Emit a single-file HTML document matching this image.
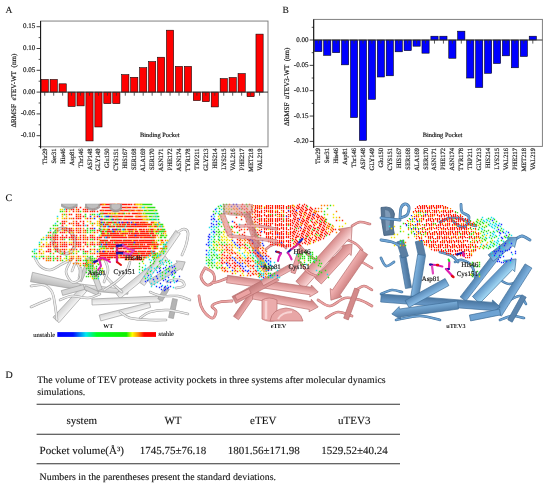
<!DOCTYPE html>
<html><head><meta charset="utf-8"><style>
html,body{margin:0;padding:0;background:#fff;}
body{width:550px;height:489px;overflow:hidden;position:relative;}
svg{position:absolute;left:0;top:0;}
text{font-family:"Liberation Serif","Times New Roman",serif;fill:#111;text-rendering:geometricPrecision;}
.tk,.xl,.yl,.bp,.res{stroke:#222;stroke-width:0.18px;}
.cap,.tb,.lab{stroke:#222;stroke-width:0.12px;}
.tk{font-size:7px;}
.xl{font-size:6.5px;}
.yl{font-size:7.1px;}
.bp{font-size:6.4px;}
.lab{font-size:9.5px;}
.cap{font-size:9.9px;}
.tb{font-size:11px;}
.pl{font-size:5.6px;font-weight:bold;}
.cb{font-size:6.6px;stroke:#222;stroke-width:0.12px;}
.res{font-size:7px;}
</style></head><body>
<svg width="550" height="489" viewBox="0 0 550 489">
<text x="5.6" y="12.9" class="lab">A</text>
<text x="282.4" y="13.1" class="lab">B</text>
<text x="5.4" y="200.6" class="lab" style="font-size:10px">C</text>
<text x="5.6" y="377.6" class="lab" style="font-size:10px">D</text>
<rect x="40.6" y="21.05" width="227.4" height="125.75" fill="none" stroke="#7a7a7a" stroke-width="0.95"/>
<rect x="41.15" y="79.46" width="7.20" height="12.64" fill="#ff0000" stroke="#000" stroke-width="0.55"/>
<rect x="50.10" y="79.46" width="7.20" height="12.64" fill="#ff0000" stroke="#000" stroke-width="0.55"/>
<rect x="59.05" y="83.82" width="7.20" height="8.28" fill="#ff0000" stroke="#000" stroke-width="0.55"/>
<rect x="68.00" y="92.10" width="7.20" height="14.39" fill="#ff0000" stroke="#000" stroke-width="0.55"/>
<rect x="76.95" y="92.10" width="7.20" height="13.78" fill="#ff0000" stroke="#000" stroke-width="0.55"/>
<rect x="85.90" y="92.10" width="7.20" height="48.83" fill="#ff0000" stroke="#000" stroke-width="0.55"/>
<rect x="94.85" y="92.10" width="7.20" height="34.88" fill="#ff0000" stroke="#000" stroke-width="0.55"/>
<rect x="103.80" y="92.10" width="7.20" height="11.55" fill="#ff0000" stroke="#000" stroke-width="0.55"/>
<rect x="112.75" y="92.10" width="7.20" height="11.55" fill="#ff0000" stroke="#000" stroke-width="0.55"/>
<rect x="121.70" y="74.66" width="7.20" height="17.44" fill="#ff0000" stroke="#000" stroke-width="0.55"/>
<rect x="130.65" y="77.28" width="7.20" height="14.82" fill="#ff0000" stroke="#000" stroke-width="0.55"/>
<rect x="139.60" y="67.68" width="7.20" height="24.42" fill="#ff0000" stroke="#000" stroke-width="0.55"/>
<rect x="148.55" y="61.58" width="7.20" height="30.52" fill="#ff0000" stroke="#000" stroke-width="0.55"/>
<rect x="157.50" y="57.22" width="7.20" height="34.88" fill="#ff0000" stroke="#000" stroke-width="0.55"/>
<rect x="166.45" y="30.19" width="7.20" height="61.91" fill="#ff0000" stroke="#000" stroke-width="0.55"/>
<rect x="175.40" y="66.38" width="7.20" height="25.72" fill="#ff0000" stroke="#000" stroke-width="0.55"/>
<rect x="184.35" y="66.38" width="7.20" height="25.72" fill="#ff0000" stroke="#000" stroke-width="0.55"/>
<rect x="193.30" y="92.10" width="7.20" height="8.50" fill="#ff0000" stroke="#000" stroke-width="0.55"/>
<rect x="202.25" y="92.10" width="7.20" height="9.59" fill="#ff0000" stroke="#000" stroke-width="0.55"/>
<rect x="211.20" y="92.10" width="7.20" height="14.82" fill="#ff0000" stroke="#000" stroke-width="0.55"/>
<rect x="220.15" y="78.58" width="7.20" height="13.52" fill="#ff0000" stroke="#000" stroke-width="0.55"/>
<rect x="229.10" y="77.49" width="7.20" height="14.61" fill="#ff0000" stroke="#000" stroke-width="0.55"/>
<rect x="238.05" y="73.57" width="7.20" height="18.53" fill="#ff0000" stroke="#000" stroke-width="0.55"/>
<rect x="247.00" y="92.10" width="7.20" height="4.62" fill="#ff0000" stroke="#000" stroke-width="0.55"/>
<rect x="255.95" y="34.11" width="7.20" height="57.99" fill="#ff0000" stroke="#000" stroke-width="0.55"/>
<line x1="40.6" y1="92.10" x2="268" y2="92.10" stroke="#333" stroke-width="1"/>
<line x1="44.75" y1="92.10" x2="44.75" y2="95.70" stroke="#333" stroke-width="0.8"/>
<line x1="53.70" y1="92.10" x2="53.70" y2="95.70" stroke="#333" stroke-width="0.8"/>
<line x1="62.65" y1="92.10" x2="62.65" y2="95.70" stroke="#333" stroke-width="0.8"/>
<line x1="71.60" y1="92.10" x2="71.60" y2="95.70" stroke="#333" stroke-width="0.8"/>
<line x1="80.55" y1="92.10" x2="80.55" y2="95.70" stroke="#333" stroke-width="0.8"/>
<line x1="89.50" y1="92.10" x2="89.50" y2="95.70" stroke="#333" stroke-width="0.8"/>
<line x1="98.45" y1="92.10" x2="98.45" y2="95.70" stroke="#333" stroke-width="0.8"/>
<line x1="107.40" y1="92.10" x2="107.40" y2="95.70" stroke="#333" stroke-width="0.8"/>
<line x1="116.35" y1="92.10" x2="116.35" y2="95.70" stroke="#333" stroke-width="0.8"/>
<line x1="125.30" y1="92.10" x2="125.30" y2="95.70" stroke="#333" stroke-width="0.8"/>
<line x1="134.25" y1="92.10" x2="134.25" y2="95.70" stroke="#333" stroke-width="0.8"/>
<line x1="143.20" y1="92.10" x2="143.20" y2="95.70" stroke="#333" stroke-width="0.8"/>
<line x1="152.15" y1="92.10" x2="152.15" y2="95.70" stroke="#333" stroke-width="0.8"/>
<line x1="161.10" y1="92.10" x2="161.10" y2="95.70" stroke="#333" stroke-width="0.8"/>
<line x1="170.05" y1="92.10" x2="170.05" y2="95.70" stroke="#333" stroke-width="0.8"/>
<line x1="179.00" y1="92.10" x2="179.00" y2="95.70" stroke="#333" stroke-width="0.8"/>
<line x1="187.95" y1="92.10" x2="187.95" y2="95.70" stroke="#333" stroke-width="0.8"/>
<line x1="196.90" y1="92.10" x2="196.90" y2="95.70" stroke="#333" stroke-width="0.8"/>
<line x1="205.85" y1="92.10" x2="205.85" y2="95.70" stroke="#333" stroke-width="0.8"/>
<line x1="214.80" y1="92.10" x2="214.80" y2="95.70" stroke="#333" stroke-width="0.8"/>
<line x1="223.75" y1="92.10" x2="223.75" y2="95.70" stroke="#333" stroke-width="0.8"/>
<line x1="232.70" y1="92.10" x2="232.70" y2="95.70" stroke="#333" stroke-width="0.8"/>
<line x1="241.65" y1="92.10" x2="241.65" y2="95.70" stroke="#333" stroke-width="0.8"/>
<line x1="250.60" y1="92.10" x2="250.60" y2="95.70" stroke="#333" stroke-width="0.8"/>
<line x1="259.55" y1="92.10" x2="259.55" y2="95.70" stroke="#333" stroke-width="0.8"/>
<line x1="40.6" y1="21.05" x2="40.6" y2="148.4" stroke="#111" stroke-width="1"/>
<line x1="36.60" y1="26.70" x2="40.6" y2="26.70" stroke="#111" stroke-width="0.8"/>
<text x="35.30" y="28.20" class="tk" text-anchor="end">0.15</text>
<line x1="36.60" y1="48.50" x2="40.6" y2="48.50" stroke="#111" stroke-width="0.8"/>
<text x="35.30" y="50.00" class="tk" text-anchor="end">0.10</text>
<line x1="38.60" y1="37.60" x2="40.6" y2="37.60" stroke="#111" stroke-width="0.7"/>
<line x1="36.60" y1="70.30" x2="40.6" y2="70.30" stroke="#111" stroke-width="0.8"/>
<text x="35.30" y="71.80" class="tk" text-anchor="end">0.05</text>
<line x1="38.60" y1="59.40" x2="40.6" y2="59.40" stroke="#111" stroke-width="0.7"/>
<line x1="36.60" y1="92.10" x2="40.6" y2="92.10" stroke="#111" stroke-width="0.8"/>
<text x="35.30" y="93.60" class="tk" text-anchor="end">0.00</text>
<line x1="38.60" y1="81.20" x2="40.6" y2="81.20" stroke="#111" stroke-width="0.7"/>
<line x1="36.60" y1="113.90" x2="40.6" y2="113.90" stroke="#111" stroke-width="0.8"/>
<text x="35.30" y="115.40" class="tk" text-anchor="end">-0.05</text>
<line x1="38.60" y1="103.00" x2="40.6" y2="103.00" stroke="#111" stroke-width="0.7"/>
<line x1="36.60" y1="135.70" x2="40.6" y2="135.70" stroke="#111" stroke-width="0.8"/>
<text x="35.30" y="137.20" class="tk" text-anchor="end">-0.10</text>
<line x1="38.60" y1="124.80" x2="40.6" y2="124.80" stroke="#111" stroke-width="0.7"/>
<line x1="38.60" y1="146.60" x2="40.6" y2="146.60" stroke="#111" stroke-width="0.7"/>
<text transform="translate(46.75,148.40) rotate(-90)" class="xl" text-anchor="end">Thr29</text>
<text transform="translate(55.70,148.40) rotate(-90)" class="xl" text-anchor="end">Ser31</text>
<text transform="translate(64.65,148.40) rotate(-90)" class="xl" text-anchor="end">His46</text>
<text transform="translate(73.60,148.40) rotate(-90)" class="xl" text-anchor="end">Asp81</text>
<text transform="translate(82.55,148.40) rotate(-90)" class="xl" text-anchor="end">Thr146</text>
<text transform="translate(91.50,148.40) rotate(-90)" class="xl" text-anchor="end">ASP148</text>
<text transform="translate(100.45,148.40) rotate(-90)" class="xl" text-anchor="end">GLY149</text>
<text transform="translate(109.40,148.40) rotate(-90)" class="xl" text-anchor="end">Glu150</text>
<text transform="translate(118.35,148.40) rotate(-90)" class="xl" text-anchor="end">CYS151</text>
<text transform="translate(127.30,148.40) rotate(-90)" class="xl" text-anchor="end">HIS167</text>
<text transform="translate(136.25,148.40) rotate(-90)" class="xl" text-anchor="end">SER168</text>
<text transform="translate(145.20,148.40) rotate(-90)" class="xl" text-anchor="end">ALA169</text>
<text transform="translate(154.15,148.40) rotate(-90)" class="xl" text-anchor="end">SER170</text>
<text transform="translate(163.10,148.40) rotate(-90)" class="xl" text-anchor="end">ASN171</text>
<text transform="translate(172.05,148.40) rotate(-90)" class="xl" text-anchor="end">PHE172</text>
<text transform="translate(181.00,148.40) rotate(-90)" class="xl" text-anchor="end">ASN174</text>
<text transform="translate(189.95,148.40) rotate(-90)" class="xl" text-anchor="end">TYR178</text>
<text transform="translate(198.90,148.40) rotate(-90)" class="xl" text-anchor="end">TRP211</text>
<text transform="translate(207.85,148.40) rotate(-90)" class="xl" text-anchor="end">GLY213</text>
<text transform="translate(216.80,148.40) rotate(-90)" class="xl" text-anchor="end">HIS214</text>
<text transform="translate(225.75,148.40) rotate(-90)" class="xl" text-anchor="end">LYS215</text>
<text transform="translate(234.70,148.40) rotate(-90)" class="xl" text-anchor="end">VAL216</text>
<text transform="translate(243.65,148.40) rotate(-90)" class="xl" text-anchor="end">PHE217</text>
<text transform="translate(252.60,148.40) rotate(-90)" class="xl" text-anchor="end">MET218</text>
<text transform="translate(261.55,148.40) rotate(-90)" class="xl" text-anchor="end">VAL219</text>
<text transform="translate(16.00,90.60) rotate(-90)" class="yl" text-anchor="middle" xml:space="preserve">ΔRMSF  <tspan font-style="italic">e</tspan>TEV-WT  (nm)</text>
<text x="140.00" y="136.50" class="bp">Binding Pocket</text>
<rect x="313.7" y="19.4" width="228.7" height="127" fill="none" stroke="#7a7a7a" stroke-width="0.95"/>
<rect x="314.70" y="40.00" width="7.20" height="11.61" fill="#0000ff" stroke="#000" stroke-width="0.55"/>
<rect x="323.64" y="40.00" width="7.20" height="15.31" fill="#0000ff" stroke="#000" stroke-width="0.55"/>
<rect x="332.57" y="40.00" width="7.20" height="12.67" fill="#0000ff" stroke="#000" stroke-width="0.55"/>
<rect x="341.51" y="40.00" width="7.20" height="24.84" fill="#0000ff" stroke="#000" stroke-width="0.55"/>
<rect x="350.45" y="40.00" width="7.20" height="77.57" fill="#0000ff" stroke="#000" stroke-width="0.55"/>
<rect x="359.39" y="40.00" width="7.20" height="100.39" fill="#0000ff" stroke="#000" stroke-width="0.55"/>
<rect x="368.32" y="40.00" width="7.20" height="59.32" fill="#0000ff" stroke="#000" stroke-width="0.55"/>
<rect x="377.26" y="40.00" width="7.20" height="37.01" fill="#0000ff" stroke="#000" stroke-width="0.55"/>
<rect x="386.20" y="40.00" width="7.20" height="35.79" fill="#0000ff" stroke="#000" stroke-width="0.55"/>
<rect x="395.14" y="40.00" width="7.20" height="11.81" fill="#0000ff" stroke="#000" stroke-width="0.55"/>
<rect x="404.07" y="40.00" width="7.20" height="10.65" fill="#0000ff" stroke="#000" stroke-width="0.55"/>
<rect x="413.01" y="40.00" width="7.20" height="6.19" fill="#0000ff" stroke="#000" stroke-width="0.55"/>
<rect x="421.95" y="40.00" width="7.20" height="13.18" fill="#0000ff" stroke="#000" stroke-width="0.55"/>
<rect x="430.89" y="36.20" width="7.20" height="3.80" fill="#0000ff" stroke="#000" stroke-width="0.55"/>
<rect x="439.82" y="36.20" width="7.20" height="3.80" fill="#0000ff" stroke="#000" stroke-width="0.55"/>
<rect x="448.76" y="40.00" width="7.20" height="18.25" fill="#0000ff" stroke="#000" stroke-width="0.55"/>
<rect x="457.70" y="31.18" width="7.20" height="8.82" fill="#0000ff" stroke="#000" stroke-width="0.55"/>
<rect x="466.64" y="40.00" width="7.20" height="38.03" fill="#0000ff" stroke="#000" stroke-width="0.55"/>
<rect x="475.57" y="40.00" width="7.20" height="47.51" fill="#0000ff" stroke="#000" stroke-width="0.55"/>
<rect x="484.51" y="40.00" width="7.20" height="33.31" fill="#0000ff" stroke="#000" stroke-width="0.55"/>
<rect x="493.45" y="40.00" width="7.20" height="23.52" fill="#0000ff" stroke="#000" stroke-width="0.55"/>
<rect x="502.39" y="40.00" width="7.20" height="15.82" fill="#0000ff" stroke="#000" stroke-width="0.55"/>
<rect x="511.32" y="40.00" width="7.20" height="27.78" fill="#0000ff" stroke="#000" stroke-width="0.55"/>
<rect x="520.26" y="40.00" width="7.20" height="16.48" fill="#0000ff" stroke="#000" stroke-width="0.55"/>
<rect x="529.20" y="36.20" width="7.20" height="3.80" fill="#0000ff" stroke="#000" stroke-width="0.55"/>
<line x1="313.7" y1="40.00" x2="542.4" y2="40.00" stroke="#333" stroke-width="1"/>
<line x1="318.30" y1="40.00" x2="318.30" y2="43.60" stroke="#333" stroke-width="0.8"/>
<line x1="327.24" y1="40.00" x2="327.24" y2="43.60" stroke="#333" stroke-width="0.8"/>
<line x1="336.18" y1="40.00" x2="336.18" y2="43.60" stroke="#333" stroke-width="0.8"/>
<line x1="345.11" y1="40.00" x2="345.11" y2="43.60" stroke="#333" stroke-width="0.8"/>
<line x1="354.05" y1="40.00" x2="354.05" y2="43.60" stroke="#333" stroke-width="0.8"/>
<line x1="362.99" y1="40.00" x2="362.99" y2="43.60" stroke="#333" stroke-width="0.8"/>
<line x1="371.93" y1="40.00" x2="371.93" y2="43.60" stroke="#333" stroke-width="0.8"/>
<line x1="380.86" y1="40.00" x2="380.86" y2="43.60" stroke="#333" stroke-width="0.8"/>
<line x1="389.80" y1="40.00" x2="389.80" y2="43.60" stroke="#333" stroke-width="0.8"/>
<line x1="398.74" y1="40.00" x2="398.74" y2="43.60" stroke="#333" stroke-width="0.8"/>
<line x1="407.68" y1="40.00" x2="407.68" y2="43.60" stroke="#333" stroke-width="0.8"/>
<line x1="416.61" y1="40.00" x2="416.61" y2="43.60" stroke="#333" stroke-width="0.8"/>
<line x1="425.55" y1="40.00" x2="425.55" y2="43.60" stroke="#333" stroke-width="0.8"/>
<line x1="434.49" y1="40.00" x2="434.49" y2="43.60" stroke="#333" stroke-width="0.8"/>
<line x1="443.43" y1="40.00" x2="443.43" y2="43.60" stroke="#333" stroke-width="0.8"/>
<line x1="452.36" y1="40.00" x2="452.36" y2="43.60" stroke="#333" stroke-width="0.8"/>
<line x1="461.30" y1="40.00" x2="461.30" y2="43.60" stroke="#333" stroke-width="0.8"/>
<line x1="470.24" y1="40.00" x2="470.24" y2="43.60" stroke="#333" stroke-width="0.8"/>
<line x1="479.18" y1="40.00" x2="479.18" y2="43.60" stroke="#333" stroke-width="0.8"/>
<line x1="488.11" y1="40.00" x2="488.11" y2="43.60" stroke="#333" stroke-width="0.8"/>
<line x1="497.05" y1="40.00" x2="497.05" y2="43.60" stroke="#333" stroke-width="0.8"/>
<line x1="505.99" y1="40.00" x2="505.99" y2="43.60" stroke="#333" stroke-width="0.8"/>
<line x1="514.92" y1="40.00" x2="514.92" y2="43.60" stroke="#333" stroke-width="0.8"/>
<line x1="523.86" y1="40.00" x2="523.86" y2="43.60" stroke="#333" stroke-width="0.8"/>
<line x1="532.80" y1="40.00" x2="532.80" y2="43.60" stroke="#333" stroke-width="0.8"/>
<line x1="313.7" y1="19.4" x2="313.7" y2="148" stroke="#111" stroke-width="1"/>
<line x1="309.70" y1="40.00" x2="313.7" y2="40.00" stroke="#111" stroke-width="0.8"/>
<text x="308.40" y="41.50" class="tk" text-anchor="end">0.00</text>
<line x1="311.70" y1="27.32" x2="313.7" y2="27.32" stroke="#111" stroke-width="0.7"/>
<line x1="309.70" y1="65.35" x2="313.7" y2="65.35" stroke="#111" stroke-width="0.8"/>
<text x="308.40" y="66.85" class="tk" text-anchor="end">-0.05</text>
<line x1="311.70" y1="52.67" x2="313.7" y2="52.67" stroke="#111" stroke-width="0.7"/>
<line x1="309.70" y1="90.70" x2="313.7" y2="90.70" stroke="#111" stroke-width="0.8"/>
<text x="308.40" y="92.20" class="tk" text-anchor="end">-0.10</text>
<line x1="311.70" y1="78.03" x2="313.7" y2="78.03" stroke="#111" stroke-width="0.7"/>
<line x1="309.70" y1="116.05" x2="313.7" y2="116.05" stroke="#111" stroke-width="0.8"/>
<text x="308.40" y="117.55" class="tk" text-anchor="end">-0.15</text>
<line x1="311.70" y1="103.38" x2="313.7" y2="103.38" stroke="#111" stroke-width="0.7"/>
<line x1="309.70" y1="141.40" x2="313.7" y2="141.40" stroke="#111" stroke-width="0.8"/>
<text x="308.40" y="142.90" class="tk" text-anchor="end">-0.20</text>
<line x1="311.70" y1="128.73" x2="313.7" y2="128.73" stroke="#111" stroke-width="0.7"/>
<text transform="translate(320.30,148.00) rotate(-90)" class="xl" text-anchor="end">Thr29</text>
<text transform="translate(329.24,148.00) rotate(-90)" class="xl" text-anchor="end">Ser31</text>
<text transform="translate(338.18,148.00) rotate(-90)" class="xl" text-anchor="end">His46</text>
<text transform="translate(347.11,148.00) rotate(-90)" class="xl" text-anchor="end">Asp81</text>
<text transform="translate(356.05,148.00) rotate(-90)" class="xl" text-anchor="end">Thr146</text>
<text transform="translate(364.99,148.00) rotate(-90)" class="xl" text-anchor="end">ASP148</text>
<text transform="translate(373.93,148.00) rotate(-90)" class="xl" text-anchor="end">GLY149</text>
<text transform="translate(382.86,148.00) rotate(-90)" class="xl" text-anchor="end">Glu150</text>
<text transform="translate(391.80,148.00) rotate(-90)" class="xl" text-anchor="end">CYS151</text>
<text transform="translate(400.74,148.00) rotate(-90)" class="xl" text-anchor="end">HIS167</text>
<text transform="translate(409.68,148.00) rotate(-90)" class="xl" text-anchor="end">SER168</text>
<text transform="translate(418.61,148.00) rotate(-90)" class="xl" text-anchor="end">ALA169</text>
<text transform="translate(427.55,148.00) rotate(-90)" class="xl" text-anchor="end">SER170</text>
<text transform="translate(436.49,148.00) rotate(-90)" class="xl" text-anchor="end">ASN171</text>
<text transform="translate(445.43,148.00) rotate(-90)" class="xl" text-anchor="end">PHE172</text>
<text transform="translate(454.36,148.00) rotate(-90)" class="xl" text-anchor="end">ASN174</text>
<text transform="translate(463.30,148.00) rotate(-90)" class="xl" text-anchor="end">TYR178</text>
<text transform="translate(472.24,148.00) rotate(-90)" class="xl" text-anchor="end">TRP211</text>
<text transform="translate(481.18,148.00) rotate(-90)" class="xl" text-anchor="end">GLY213</text>
<text transform="translate(490.11,148.00) rotate(-90)" class="xl" text-anchor="end">HIS214</text>
<text transform="translate(499.05,148.00) rotate(-90)" class="xl" text-anchor="end">LYS215</text>
<text transform="translate(507.99,148.00) rotate(-90)" class="xl" text-anchor="end">VAL216</text>
<text transform="translate(516.92,148.00) rotate(-90)" class="xl" text-anchor="end">PHE217</text>
<text transform="translate(525.86,148.00) rotate(-90)" class="xl" text-anchor="end">MET218</text>
<text transform="translate(534.80,148.00) rotate(-90)" class="xl" text-anchor="end">VAL219</text>
<text transform="translate(289.00,86.80) rotate(-90)" class="yl" text-anchor="middle" xml:space="preserve">ΔRMSF  <tspan font-style="italic">u</tspan>TEV3-WT  (nm)</text>
<text x="422.70" y="136.50" class="bp">Binding Pocket</text>
<defs><linearGradient id="g0" gradientUnits="userSpaceOnUse" x1="30.5" y1="281.7" x2="32.5" y2="272.3"><stop offset="0" stop-color="#b8b8b8"/><stop offset="1" stop-color="#e0e0e0"/></linearGradient></defs>
<polygon points="30.5,281.7 79.4,289.9 80.6,284.1 32.5,272.3" fill="url(#g0)" stroke="#9c9c9c" stroke-width="0.7" stroke-linejoin="round"/>
<defs><linearGradient id="g2" gradientUnits="userSpaceOnUse" x1="79.7" y1="290.0" x2="80.3" y2="284.0"><stop offset="0" stop-color="#c0c0c0"/><stop offset="1" stop-color="#eeeeee"/></linearGradient></defs>
<polygon points="79.7,290.0 127.8,294.2 128.2,289.8 80.3,284.0" fill="url(#g2)" stroke="#9c9c9c" stroke-width="0.7" stroke-linejoin="round"/>
<polygon points="83.9,289.3 97.2,295.3 98.8,291.7 85.5,285.7" fill="#d0d0d0" stroke="#9c9c9c" stroke-width="0.7" stroke-linejoin="round"/>
<defs><linearGradient id="g5" gradientUnits="userSpaceOnUse" x1="59.0" y1="322.7" x2="53.0" y2="317.3"><stop offset="0" stop-color="#f6f6f6"/><stop offset="1" stop-color="#d2d2d2"/></linearGradient></defs>
<polygon points="59.0,322.7 86.6,291.3 81.4,286.7 53.0,317.3" fill="url(#g5)" stroke="#9c9c9c" stroke-width="0.7" stroke-linejoin="round"/>
<polygon points="83.3,284.6 61.3,290.6 62.7,295.4 84.7,289.4" fill="#d6d6d6" stroke="#9c9c9c" stroke-width="0.7" stroke-linejoin="round"/>
<defs><linearGradient id="g8" gradientUnits="userSpaceOnUse" x1="120.0" y1="298.5" x2="116.0" y2="293.5"><stop offset="0" stop-color="#f6f6f6"/><stop offset="1" stop-color="#d2d2d2"/></linearGradient></defs>
<polygon points="120.0,298.5 168.0,259.5 164.0,254.5 116.0,293.5" fill="url(#g8)" stroke="#9c9c9c" stroke-width="0.7" stroke-linejoin="round"/>
<defs><linearGradient id="g10" gradientUnits="userSpaceOnUse" x1="144.3" y1="285.6" x2="139.7" y2="282.4"><stop offset="0" stop-color="#f4f4f4"/><stop offset="1" stop-color="#cccccc"/></linearGradient></defs>
<polygon points="144.3,285.6 180.3,233.6 175.7,230.4 139.7,282.4" fill="url(#g10)" stroke="#9c9c9c" stroke-width="0.7" stroke-linejoin="round"/>
<polygon points="151.5,285.6 180.8,268.6 181.9,270.4 185.2,261.9 176.1,260.8 177.2,262.6 148.5,280.4" fill="#d6d6d6" stroke="#9c9c9c" stroke-width="0.7" stroke-linejoin="round"/>
<defs><linearGradient id="g13" gradientUnits="userSpaceOnUse" x1="92.1" y1="305.0" x2="91.9" y2="299.0"><stop offset="0" stop-color="#f8f8f8"/><stop offset="1" stop-color="#d8d8d8"/></linearGradient></defs>
<polygon points="92.1,305.0 160.1,302.0 159.9,296.0 91.9,299.0" fill="url(#g13)" stroke="#9c9c9c" stroke-width="0.7" stroke-linejoin="round"/>
<defs><linearGradient id="g15" gradientUnits="userSpaceOnUse" x1="100.8" y1="320.9" x2="99.2" y2="315.1"><stop offset="0" stop-color="#f6f6f6"/><stop offset="1" stop-color="#d4d4d4"/></linearGradient></defs>
<polygon points="100.8,320.9 150.6,307.4 149.4,302.6 99.2,315.1" fill="url(#g15)" stroke="#9c9c9c" stroke-width="0.7" stroke-linejoin="round"/>
<polygon points="162.2,301.3 169.2,289.3 164.8,286.7 157.8,298.7" fill="#b8b8b8" stroke="#9c9c9c" stroke-width="0.7" stroke-linejoin="round"/>
<polygon points="173.4,318.5 177.4,299.5 172.6,298.5 168.6,317.5" fill="#b4b4b4" stroke="#9c9c9c" stroke-width="0.7" stroke-linejoin="round"/>
<polygon points="85.7,258.9 97.7,290.9 102.3,289.1 90.3,257.1" fill="#d6d6d6" stroke="#9c9c9c" stroke-width="0.7" stroke-linejoin="round"/>
<path d="M178.0,232.0 C179.0,231.5 182.3,228.8 184.0,229.0 C185.7,229.2 187.7,230.3 188.0,233.0 C188.3,235.7 187.0,241.3 186.0,245.0 C185.0,248.7 182.7,253.3 182.0,255.0" fill="none" stroke="#9c9c9c" stroke-width="2.6" stroke-linecap="round" stroke-linejoin="round"/>
<path d="M178.0,232.0 C179.0,231.5 182.3,228.8 184.0,229.0 C185.7,229.2 187.7,230.3 188.0,233.0 C188.3,235.7 187.0,241.3 186.0,245.0 C185.0,248.7 182.7,253.3 182.0,255.0" fill="none" stroke="#ececec" stroke-width="1.6" stroke-linecap="round" stroke-linejoin="round"/>
<path d="M35.0,258.0 C35.8,259.3 37.5,264.0 40.0,266.0 C42.5,268.0 46.3,270.3 50.0,270.0 C53.7,269.7 58.3,265.8 62.0,264.0 C65.7,262.2 70.3,259.8 72.0,259.0" fill="none" stroke="#9c9c9c" stroke-width="2.6" stroke-linecap="round" stroke-linejoin="round"/>
<path d="M35.0,258.0 C35.8,259.3 37.5,264.0 40.0,266.0 C42.5,268.0 46.3,270.3 50.0,270.0 C53.7,269.7 58.3,265.8 62.0,264.0 C65.7,262.2 70.3,259.8 72.0,259.0" fill="none" stroke="#ececec" stroke-width="1.6" stroke-linecap="round" stroke-linejoin="round"/>
<path d="M31.0,286.0 C33.2,285.8 40.5,284.0 44.0,285.0 C47.5,286.0 50.2,288.7 52.0,292.0 C53.8,295.3 54.2,300.3 55.0,305.0 C55.8,309.7 56.7,317.5 57.0,320.0" fill="none" stroke="#9c9c9c" stroke-width="2.6" stroke-linecap="round" stroke-linejoin="round"/>
<path d="M31.0,286.0 C33.2,285.8 40.5,284.0 44.0,285.0 C47.5,286.0 50.2,288.7 52.0,292.0 C53.8,295.3 54.2,300.3 55.0,305.0 C55.8,309.7 56.7,317.5 57.0,320.0" fill="none" stroke="#ececec" stroke-width="1.6" stroke-linecap="round" stroke-linejoin="round"/>
<path d="M31.0,307.0 C32.5,306.3 36.8,304.3 40.0,303.0 C43.2,301.7 48.3,299.7 50.0,299.0" fill="none" stroke="#9c9c9c" stroke-width="2.6" stroke-linecap="round" stroke-linejoin="round"/>
<path d="M31.0,307.0 C32.5,306.3 36.8,304.3 40.0,303.0 C43.2,301.7 48.3,299.7 50.0,299.0" fill="none" stroke="#ececec" stroke-width="1.6" stroke-linecap="round" stroke-linejoin="round"/>
<path d="M72.0,271.0 C72.7,269.7 74.7,263.2 76.0,263.0 C77.3,262.8 79.5,267.5 80.0,270.0 C80.5,272.5 79.2,276.7 79.0,278.0" fill="none" stroke="#9c9c9c" stroke-width="2.6" stroke-linecap="round" stroke-linejoin="round"/>
<path d="M72.0,271.0 C72.7,269.7 74.7,263.2 76.0,263.0 C77.3,262.8 79.5,267.5 80.0,270.0 C80.5,272.5 79.2,276.7 79.0,278.0" fill="none" stroke="#ececec" stroke-width="1.6" stroke-linecap="round" stroke-linejoin="round"/>
<polygon points="81.6,281.7 88.6,265.7 85.4,264.3 78.4,280.3" fill="#cdcdcd" stroke="#9c9c9c" stroke-width="0.7" stroke-linejoin="round"/>
<path d="M70.0,262.0 C69.3,263.7 65.7,268.7 66.0,272.0 C66.3,275.3 69.7,280.8 72.0,282.0 C74.3,283.2 78.5,281.3 80.0,279.0 C81.5,276.7 80.8,269.8 81.0,268.0" fill="none" stroke="#9c9c9c" stroke-width="2.5" stroke-linecap="round" stroke-linejoin="round"/>
<path d="M70.0,262.0 C69.3,263.7 65.7,268.7 66.0,272.0 C66.3,275.3 69.7,280.8 72.0,282.0 C74.3,283.2 78.5,281.3 80.0,279.0 C81.5,276.7 80.8,269.8 81.0,268.0" fill="none" stroke="#ececec" stroke-width="1.5" stroke-linecap="round" stroke-linejoin="round"/>
<path d="M102.0,272.0 C103.7,273.8 108.7,279.7 112.0,283.0 C115.3,286.3 120.3,290.5 122.0,292.0" fill="none" stroke="#9c9c9c" stroke-width="2.6" stroke-linecap="round" stroke-linejoin="round"/>
<path d="M102.0,272.0 C103.7,273.8 108.7,279.7 112.0,283.0 C115.3,286.3 120.3,290.5 122.0,292.0" fill="none" stroke="#ececec" stroke-width="1.6" stroke-linecap="round" stroke-linejoin="round"/>
<path d="M120.0,312.0 C121.7,313.0 125.0,316.7 130.0,318.0 C135.0,319.3 144.0,319.7 150.0,320.0 C156.0,320.3 163.3,320.0 166.0,320.0" fill="none" stroke="#9c9c9c" stroke-width="2.6" stroke-linecap="round" stroke-linejoin="round"/>
<path d="M120.0,312.0 C121.7,313.0 125.0,316.7 130.0,318.0 C135.0,319.3 144.0,319.7 150.0,320.0 C156.0,320.3 163.3,320.0 166.0,320.0" fill="none" stroke="#ececec" stroke-width="1.6" stroke-linecap="round" stroke-linejoin="round"/>
<path d="M167.0,282.0 C168.0,281.7 170.5,280.2 173.0,280.0 C175.5,279.8 180.2,280.0 182.0,281.0 C183.8,282.0 185.0,284.8 184.0,286.0 C183.0,287.2 177.3,287.7 176.0,288.0" fill="none" stroke="#9c9c9c" stroke-width="2.6" stroke-linecap="round" stroke-linejoin="round"/>
<path d="M167.0,282.0 C168.0,281.7 170.5,280.2 173.0,280.0 C175.5,279.8 180.2,280.0 182.0,281.0 C183.8,282.0 185.0,284.8 184.0,286.0 C183.0,287.2 177.3,287.7 176.0,288.0" fill="none" stroke="#ececec" stroke-width="1.6" stroke-linecap="round" stroke-linejoin="round"/>
<path d="M150.0,292.0 C152.0,292.7 157.3,295.3 162.0,296.0 C166.7,296.7 173.3,295.3 178.0,296.0 C182.7,296.7 188.0,299.3 190.0,300.0" fill="none" stroke="#9c9c9c" stroke-width="2.4" stroke-linecap="round" stroke-linejoin="round"/>
<path d="M150.0,292.0 C152.0,292.7 157.3,295.3 162.0,296.0 C166.7,296.7 173.3,295.3 178.0,296.0 C182.7,296.7 188.0,299.3 190.0,300.0" fill="none" stroke="#ececec" stroke-width="1.4" stroke-linecap="round" stroke-linejoin="round"/>
<path d="M105.0,260.0 C105.5,261.7 108.2,266.3 108.0,270.0 C107.8,273.7 104.7,280.0 104.0,282.0" fill="none" stroke="#9c9c9c" stroke-width="2.6" stroke-linecap="round" stroke-linejoin="round"/>
<path d="M105.0,260.0 C105.5,261.7 108.2,266.3 108.0,270.0 C107.8,273.7 104.7,280.0 104.0,282.0" fill="none" stroke="#ececec" stroke-width="1.6" stroke-linecap="round" stroke-linejoin="round"/>
<path d="M130.0,262.0 C129.3,263.7 128.3,268.7 126.0,272.0 C123.7,275.3 119.7,279.0 116.0,282.0 C112.3,285.0 106.0,288.7 104.0,290.0" fill="none" stroke="#9c9c9c" stroke-width="2.5" stroke-linecap="round" stroke-linejoin="round"/>
<path d="M130.0,262.0 C129.3,263.7 128.3,268.7 126.0,272.0 C123.7,275.3 119.7,279.0 116.0,282.0 C112.3,285.0 106.0,288.7 104.0,290.0" fill="none" stroke="#ececec" stroke-width="1.5" stroke-linecap="round" stroke-linejoin="round"/>
<path d="M140.0,318.0 C141.7,317.0 145.3,313.3 150.0,312.0 C154.7,310.7 161.7,309.7 168.0,310.0 C174.3,310.3 184.7,313.3 188.0,314.0" fill="none" stroke="#9c9c9c" stroke-width="2.4" stroke-linecap="round" stroke-linejoin="round"/>
<path d="M140.0,318.0 C141.7,317.0 145.3,313.3 150.0,312.0 C154.7,310.7 161.7,309.7 168.0,310.0 C174.3,310.3 184.7,313.3 188.0,314.0" fill="none" stroke="#ececec" stroke-width="1.4" stroke-linecap="round" stroke-linejoin="round"/>
<path d="M60.0,300.0 C62.0,299.3 67.3,296.3 72.0,296.0 C76.7,295.7 83.3,298.3 88.0,298.0 C92.7,297.7 98.0,294.7 100.0,294.0" fill="none" stroke="#9c9c9c" stroke-width="2.4" stroke-linecap="round" stroke-linejoin="round"/>
<path d="M60.0,300.0 C62.0,299.3 67.3,296.3 72.0,296.0 C76.7,295.7 83.3,298.3 88.0,298.0 C92.7,297.7 98.0,294.7 100.0,294.0" fill="none" stroke="#ececec" stroke-width="1.4" stroke-linecap="round" stroke-linejoin="round"/>
<ellipse cx="64" cy="241" rx="10.5" ry="13" transform="rotate(-20 64 241)" fill="none" stroke="#a6a6a6" stroke-width="3.4"/>
<ellipse cx="64" cy="241" rx="10.5" ry="13" transform="rotate(-20 64 241)" fill="none" stroke="#dedede" stroke-width="1.8"/>
<path d="M31.75,251.5h1.50M31.75,256.5h1.50M33.75,253.5h1.50M35.75,253.5h1.50M38.75,244.5h1.50M38.75,258.5h1.50M40.75,239.5h1.50M40.75,256.5h1.50M42.75,256.5h1.50M45.75,239.5h1.50M47.75,232.5h1.50M47.75,258.5h1.50M49.75,228.5h1.50M49.75,235.5h1.50M49.75,239.5h1.50M49.75,253.5h1.50M49.75,256.5h1.50M52.75,225.5h1.50M52.75,228.5h1.50M52.75,232.5h1.50M52.75,256.5h1.50M52.75,258.5h1.50M52.75,260.5h1.50M54.75,225.5h1.50M54.75,230.5h1.50M54.75,232.5h1.50M54.75,251.5h1.50M56.75,221.5h1.50M56.75,225.5h1.50M56.75,258.5h1.50M59.75,211.5h1.50M59.75,223.5h1.50M61.75,211.5h1.50M61.75,253.5h1.50M61.75,260.5h1.50M63.75,214.5h1.50M63.75,239.5h1.50M65.75,256.5h1.50M65.75,258.5h1.50M68.75,239.5h1.50M72.75,253.5h1.50M77.75,251.5h1.50M77.75,260.5h1.50M79.75,211.5h1.50M82.75,251.5h1.50M82.75,253.5h1.50M82.75,260.5h1.50M82.75,265.5h1.50M84.75,214.5h1.50M84.75,216.5h1.50M84.75,253.5h1.50M84.75,260.5h1.50M86.75,228.5h1.50M86.75,230.5h1.50M86.75,232.5h1.50M86.75,244.5h1.50M86.75,256.5h1.50M89.75,230.5h1.50M89.75,232.5h1.50M89.75,239.5h1.50M89.75,251.5h1.50M89.75,256.5h1.50M91.75,214.5h1.50M91.75,223.5h1.50M91.75,230.5h1.50M91.75,239.5h1.50M91.75,256.5h1.50M91.75,265.5h1.50M93.75,214.5h1.50M93.75,230.5h1.50M93.75,246.5h1.50M93.75,258.5h1.50M93.75,260.5h1.50M98.75,214.5h1.50M98.75,228.5h1.50M98.75,246.5h1.50M98.75,249.5h1.50M98.75,251.5h1.50M98.75,258.5h1.50" stroke="#2ee01a" stroke-width="1.50" fill="none"/>
<path d="M33.75,249.5h1.50M33.75,251.5h1.50M33.75,256.5h1.50M35.75,249.5h1.50M35.75,258.5h1.50M38.75,242.5h1.50M42.75,239.5h1.50M45.75,235.5h1.50M49.75,230.5h1.50M54.75,223.5h1.50M56.75,216.5h1.50M63.75,209.5h1.50M84.75,225.5h1.50M96.75,214.5h1.50M98.75,235.5h1.50" stroke="#18e0e8" stroke-width="1.50" fill="none"/>
<path d="M35.75,256.5h1.50M38.75,246.5h1.50M38.75,249.5h1.50M38.75,253.5h1.50M38.75,256.5h1.50M40.75,242.5h1.50M40.75,249.5h1.50M42.75,237.5h1.50M42.75,246.5h1.50M42.75,251.5h1.50M42.75,253.5h1.50M45.75,242.5h1.50M45.75,244.5h1.50M45.75,256.5h1.50M52.75,235.5h1.50M52.75,249.5h1.50M54.75,228.5h1.50M54.75,244.5h1.50M56.75,218.5h1.50M56.75,232.5h1.50M59.75,209.5h1.50M59.75,253.5h1.50M61.75,209.5h1.50M61.75,216.5h1.50M61.75,218.5h1.50M61.75,230.5h1.50M63.75,211.5h1.50M63.75,258.5h1.50M65.75,216.5h1.50M65.75,225.5h1.50M65.75,232.5h1.50M65.75,260.5h1.50M68.75,209.5h1.50M68.75,211.5h1.50M68.75,242.5h1.50M68.75,249.5h1.50M68.75,251.5h1.50M68.75,256.5h1.50M68.75,258.5h1.50M70.75,232.5h1.50M70.75,242.5h1.50M72.75,228.5h1.50M72.75,251.5h1.50M75.75,251.5h1.50M75.75,256.5h1.50M77.75,237.5h1.50M79.75,256.5h1.50M79.75,263.5h1.50M84.75,218.5h1.50M84.75,256.5h1.50M84.75,258.5h1.50M86.75,221.5h1.50M86.75,242.5h1.50M86.75,253.5h1.50M89.75,223.5h1.50M89.75,246.5h1.50M91.75,218.5h1.50M91.75,232.5h1.50M91.75,249.5h1.50M93.75,235.5h1.50M93.75,242.5h1.50M93.75,251.5h1.50M96.75,205.5h1.50M96.75,221.5h1.50M96.75,223.5h1.50M96.75,225.5h1.50M96.75,263.5h1.50M98.75,218.5h1.50M98.75,225.5h1.50M98.75,239.5h1.50" stroke="#f0e000" stroke-width="1.50" fill="none"/>
<path d="M38.75,251.5h1.50M42.75,244.5h1.50M42.75,258.5h1.50M45.75,246.5h1.50M45.75,251.5h1.50M47.75,237.5h1.50M47.75,246.5h1.50M47.75,249.5h1.50M47.75,251.5h1.50M49.75,232.5h1.50M49.75,237.5h1.50M49.75,242.5h1.50M49.75,244.5h1.50M49.75,246.5h1.50M49.75,249.5h1.50M49.75,251.5h1.50M49.75,258.5h1.50M52.75,237.5h1.50M52.75,242.5h1.50M52.75,244.5h1.50M54.75,235.5h1.50M54.75,237.5h1.50M54.75,239.5h1.50M54.75,242.5h1.50M54.75,246.5h1.50M54.75,249.5h1.50M56.75,235.5h1.50M56.75,237.5h1.50M56.75,239.5h1.50M56.75,242.5h1.50M56.75,244.5h1.50M56.75,246.5h1.50M56.75,249.5h1.50M56.75,251.5h1.50M56.75,256.5h1.50M56.75,260.5h1.50M59.75,232.5h1.50M59.75,237.5h1.50M59.75,242.5h1.50M59.75,246.5h1.50M59.75,256.5h1.50M61.75,221.5h1.50M61.75,223.5h1.50M61.75,225.5h1.50M61.75,228.5h1.50M61.75,232.5h1.50M61.75,235.5h1.50M61.75,237.5h1.50M61.75,239.5h1.50M61.75,244.5h1.50M61.75,246.5h1.50M61.75,249.5h1.50M63.75,221.5h1.50M63.75,223.5h1.50M63.75,230.5h1.50M63.75,232.5h1.50M63.75,237.5h1.50M63.75,242.5h1.50M63.75,244.5h1.50M63.75,246.5h1.50M63.75,249.5h1.50M63.75,251.5h1.50M63.75,253.5h1.50M65.75,209.5h1.50M65.75,211.5h1.50M65.75,228.5h1.50M65.75,230.5h1.50M65.75,235.5h1.50M65.75,237.5h1.50M65.75,244.5h1.50M65.75,246.5h1.50M68.75,214.5h1.50M68.75,223.5h1.50M68.75,228.5h1.50M68.75,230.5h1.50M68.75,232.5h1.50M68.75,237.5h1.50M68.75,244.5h1.50M70.75,209.5h1.50M70.75,214.5h1.50M70.75,228.5h1.50M70.75,230.5h1.50M70.75,235.5h1.50M70.75,237.5h1.50M70.75,244.5h1.50M70.75,249.5h1.50M70.75,258.5h1.50M72.75,207.5h1.50M72.75,209.5h1.50M72.75,211.5h1.50M72.75,218.5h1.50M72.75,223.5h1.50M72.75,230.5h1.50M72.75,235.5h1.50M72.75,237.5h1.50M72.75,239.5h1.50M72.75,242.5h1.50M72.75,246.5h1.50M75.75,207.5h1.50M75.75,214.5h1.50M75.75,216.5h1.50M75.75,218.5h1.50M75.75,221.5h1.50M75.75,223.5h1.50M75.75,225.5h1.50M75.75,228.5h1.50M75.75,230.5h1.50M75.75,235.5h1.50M75.75,237.5h1.50M75.75,239.5h1.50M75.75,242.5h1.50M75.75,244.5h1.50M75.75,249.5h1.50M75.75,260.5h1.50M77.75,209.5h1.50M77.75,211.5h1.50M77.75,218.5h1.50M77.75,223.5h1.50M77.75,225.5h1.50M77.75,232.5h1.50M77.75,242.5h1.50M77.75,244.5h1.50M77.75,246.5h1.50M77.75,256.5h1.50M79.75,207.5h1.50M79.75,214.5h1.50M79.75,216.5h1.50M79.75,218.5h1.50M79.75,221.5h1.50M79.75,225.5h1.50M79.75,228.5h1.50M79.75,230.5h1.50M79.75,232.5h1.50M79.75,235.5h1.50M79.75,237.5h1.50M79.75,239.5h1.50M79.75,242.5h1.50M79.75,244.5h1.50M79.75,246.5h1.50M79.75,249.5h1.50M79.75,260.5h1.50M82.75,209.5h1.50M82.75,216.5h1.50M82.75,221.5h1.50M82.75,223.5h1.50M82.75,225.5h1.50M82.75,235.5h1.50M82.75,237.5h1.50M82.75,239.5h1.50M82.75,242.5h1.50M82.75,249.5h1.50M82.75,263.5h1.50M84.75,209.5h1.50M84.75,211.5h1.50M84.75,230.5h1.50M84.75,242.5h1.50M84.75,244.5h1.50M84.75,251.5h1.50M84.75,263.5h1.50M86.75,207.5h1.50M86.75,209.5h1.50M86.75,211.5h1.50M86.75,218.5h1.50M86.75,225.5h1.50M86.75,237.5h1.50M86.75,239.5h1.50M86.75,246.5h1.50M86.75,251.5h1.50M86.75,260.5h1.50M89.75,207.5h1.50M89.75,211.5h1.50M89.75,218.5h1.50M89.75,228.5h1.50M89.75,235.5h1.50M89.75,237.5h1.50M89.75,244.5h1.50M89.75,249.5h1.50M89.75,258.5h1.50M91.75,205.5h1.50M91.75,207.5h1.50M91.75,209.5h1.50M91.75,211.5h1.50M91.75,228.5h1.50M91.75,235.5h1.50M91.75,237.5h1.50M91.75,242.5h1.50M91.75,244.5h1.50M91.75,260.5h1.50M93.75,207.5h1.50M93.75,209.5h1.50M93.75,211.5h1.50M93.75,232.5h1.50M93.75,237.5h1.50M93.75,239.5h1.50M93.75,244.5h1.50M93.75,249.5h1.50M93.75,253.5h1.50M93.75,263.5h1.50M96.75,207.5h1.50M96.75,211.5h1.50M96.75,216.5h1.50M96.75,230.5h1.50M96.75,237.5h1.50M96.75,239.5h1.50M96.75,244.5h1.50M96.75,256.5h1.50M96.75,260.5h1.50M98.75,205.5h1.50M98.75,230.5h1.50M98.75,237.5h1.50M98.75,242.5h1.50M98.75,244.5h1.50M98.75,253.5h1.50M98.75,256.5h1.50" stroke="#ff1a0a" stroke-width="1.50" fill="none"/>
<path d="M40.75,246.5h1.50M40.75,253.5h1.50M45.75,237.5h1.50M45.75,258.5h1.50M45.75,260.5h1.50M47.75,235.5h1.50M47.75,244.5h1.50M47.75,256.5h1.50M47.75,260.5h1.50M49.75,260.5h1.50M52.75,239.5h1.50M52.75,246.5h1.50M52.75,253.5h1.50M54.75,258.5h1.50M56.75,228.5h1.50M56.75,230.5h1.50M59.75,239.5h1.50M59.75,244.5h1.50M59.75,249.5h1.50M59.75,251.5h1.50M59.75,258.5h1.50M59.75,260.5h1.50M61.75,214.5h1.50M61.75,242.5h1.50M63.75,218.5h1.50M63.75,228.5h1.50M65.75,214.5h1.50M65.75,218.5h1.50M65.75,221.5h1.50M65.75,242.5h1.50M65.75,249.5h1.50M68.75,218.5h1.50M68.75,253.5h1.50M68.75,260.5h1.50M70.75,218.5h1.50M70.75,223.5h1.50M70.75,239.5h1.50M70.75,253.5h1.50M70.75,256.5h1.50M70.75,260.5h1.50M72.75,221.5h1.50M72.75,225.5h1.50M72.75,232.5h1.50M72.75,244.5h1.50M72.75,249.5h1.50M72.75,256.5h1.50M72.75,258.5h1.50M72.75,263.5h1.50M75.75,209.5h1.50M75.75,211.5h1.50M75.75,232.5h1.50M75.75,246.5h1.50M75.75,253.5h1.50M75.75,258.5h1.50M75.75,263.5h1.50M77.75,214.5h1.50M77.75,216.5h1.50M77.75,228.5h1.50M77.75,230.5h1.50M77.75,239.5h1.50M77.75,258.5h1.50M77.75,263.5h1.50M79.75,258.5h1.50M79.75,265.5h1.50M82.75,211.5h1.50M82.75,228.5h1.50M82.75,230.5h1.50M82.75,232.5h1.50M82.75,246.5h1.50M82.75,256.5h1.50M84.75,207.5h1.50M84.75,232.5h1.50M84.75,235.5h1.50M84.75,237.5h1.50M84.75,239.5h1.50M84.75,265.5h1.50M86.75,263.5h1.50M86.75,265.5h1.50M89.75,214.5h1.50M89.75,221.5h1.50M89.75,242.5h1.50M89.75,253.5h1.50M89.75,260.5h1.50M89.75,263.5h1.50M89.75,265.5h1.50M91.75,225.5h1.50M91.75,253.5h1.50M91.75,263.5h1.50M93.75,216.5h1.50M93.75,223.5h1.50M96.75,232.5h1.50M96.75,242.5h1.50M96.75,249.5h1.50M96.75,253.5h1.50M98.75,221.5h1.50M98.75,223.5h1.50M98.75,260.5h1.50" stroke="#ff7a00" stroke-width="1.50" fill="none"/>
<path d="M89.75,216.5h1.50M93.75,218.5h1.50M93.75,228.5h1.50M96.75,251.5h1.50M98.75,216.5h1.50" stroke="#1a2cff" stroke-width="1.50" fill="none"/>
<path d="M99.65,204.5h1.70M99.65,210.5h1.70M99.65,219.5h1.70M100.65,204.5h1.70M100.65,210.5h1.70M101.65,207.5h1.70M101.65,219.5h1.70M102.65,204.5h1.70M102.65,207.5h1.70M102.65,210.5h1.70M102.65,213.5h1.70M103.65,207.5h1.70M103.65,213.5h1.70M103.65,219.5h1.70M104.65,204.5h1.70M104.65,207.5h1.70M104.65,210.5h1.70M104.65,213.5h1.70M105.65,204.5h1.70M105.65,207.5h1.70M105.65,210.5h1.70M105.65,213.5h1.70M106.65,204.5h1.70M106.65,207.5h1.70M106.65,210.5h1.70M106.65,213.5h1.70M107.65,204.5h1.70M107.65,207.5h1.70M107.65,210.5h1.70M108.65,204.5h1.70M108.65,207.5h1.70M108.65,210.5h1.70M108.65,213.5h1.70M108.65,216.5h1.70M109.65,204.5h1.70M109.65,207.5h1.70M109.65,210.5h1.70M109.65,213.5h1.70M109.65,216.5h1.70M110.65,204.5h1.70M110.65,210.5h1.70M111.65,204.5h1.70M111.65,207.5h1.70M111.65,210.5h1.70M111.65,213.5h1.70M111.65,216.5h1.70M112.65,204.5h1.70M112.65,207.5h1.70M112.65,210.5h1.70M112.65,216.5h1.70M112.65,219.5h1.70M113.65,204.5h1.70M113.65,207.5h1.70M113.65,210.5h1.70M113.65,213.5h1.70M113.65,216.5h1.70M114.65,207.5h1.70M114.65,210.5h1.70M114.65,219.5h1.70M115.65,207.5h1.70M115.65,216.5h1.70M115.65,219.5h1.70M116.65,204.5h1.70M116.65,210.5h1.70M117.65,210.5h1.70M117.65,213.5h1.70M117.65,216.5h1.70M117.65,219.5h1.70M118.65,204.5h1.70M118.65,207.5h1.70M118.65,210.5h1.70M118.65,213.5h1.70M118.65,216.5h1.70M118.65,219.5h1.70M119.65,204.5h1.70M119.65,207.5h1.70M119.65,210.5h1.70M119.65,216.5h1.70M119.65,219.5h1.70M120.65,204.5h1.70M120.65,207.5h1.70M120.65,210.5h1.70M120.65,216.5h1.70M121.65,204.5h1.70M121.65,207.5h1.70M121.65,210.5h1.70M121.65,213.5h1.70M121.65,216.5h1.70M122.65,204.5h1.70M122.65,207.5h1.70M122.65,213.5h1.70M123.65,204.5h1.70M123.65,207.5h1.70M123.65,210.5h1.70M123.65,219.5h1.70M124.65,204.5h1.70M124.65,207.5h1.70M124.65,210.5h1.70M124.65,216.5h1.70M124.65,219.5h1.70M125.65,204.5h1.70M125.65,210.5h1.70M125.65,216.5h1.70M125.65,219.5h1.70M126.65,207.5h1.70M126.65,210.5h1.70M126.65,216.5h1.70M127.65,204.5h1.70M127.65,207.5h1.70M127.65,210.5h1.70M127.65,216.5h1.70M127.65,219.5h1.70M128.65,204.5h1.70M128.65,207.5h1.70M128.65,213.5h1.70M128.65,216.5h1.70M128.65,219.5h1.70M129.65,207.5h1.70M129.65,216.5h1.70M130.65,204.5h1.70M130.65,210.5h1.70M130.65,216.5h1.70M130.65,219.5h1.70M131.65,210.5h1.70M131.65,213.5h1.70M131.65,216.5h1.70M131.65,219.5h1.70M132.65,207.5h1.70M132.65,210.5h1.70M132.65,213.5h1.70M132.65,219.5h1.70M133.65,204.5h1.70M133.65,207.5h1.70M133.65,213.5h1.70M133.65,219.5h1.70M134.65,207.5h1.70M134.65,213.5h1.70M134.65,219.5h1.70M135.65,207.5h1.70M135.65,213.5h1.70M135.65,216.5h1.70M135.65,219.5h1.70M136.65,213.5h1.70M136.65,219.5h1.70M137.65,210.5h1.70M137.65,216.5h1.70M137.65,219.5h1.70M138.65,210.5h1.70M138.65,213.5h1.70M138.65,216.5h1.70M138.65,219.5h1.70M139.65,216.5h1.70M139.65,219.5h1.70M140.65,219.5h1.70M141.65,219.5h1.70" stroke="#ff1a0a" stroke-width="1.70" fill="none"/>
<path d="M99.65,213.5h1.70M100.65,216.5h1.70M101.65,213.5h1.70M104.65,219.5h1.70M105.65,219.5h1.70M106.65,216.5h1.70M106.65,219.5h1.70M107.65,219.5h1.70M109.65,219.5h1.70M110.65,216.5h1.70M110.65,219.5h1.70M114.65,213.5h1.70M116.65,219.5h1.70M123.65,213.5h1.70M128.65,210.5h1.70M139.65,204.5h1.70M141.65,204.5h1.70M142.65,204.5h1.70M142.65,213.5h1.70M143.65,204.5h1.70M143.65,207.5h1.70M143.65,210.5h1.70M144.65,204.5h1.70M144.65,210.5h1.70M144.65,213.5h1.70M145.65,204.5h1.70M145.65,210.5h1.70M145.65,213.5h1.70M145.65,216.5h1.70M146.65,204.5h1.70M146.65,207.5h1.70M146.65,213.5h1.70M146.65,219.5h1.70M147.65,204.5h1.70M147.65,207.5h1.70M147.65,210.5h1.70M147.65,213.5h1.70M148.65,204.5h1.70M148.65,207.5h1.70M148.65,210.5h1.70M148.65,213.5h1.70M148.65,216.5h1.70M148.65,219.5h1.70M149.65,204.5h1.70M149.65,207.5h1.70M149.65,210.5h1.70M149.65,213.5h1.70M149.65,216.5h1.70M149.65,219.5h1.70M150.65,204.5h1.70M150.65,207.5h1.70M150.65,210.5h1.70M150.65,213.5h1.70M150.65,216.5h1.70M150.65,219.5h1.70M151.65,207.5h1.70M151.65,210.5h1.70M151.65,213.5h1.70M152.65,207.5h1.70M152.65,210.5h1.70M152.65,213.5h1.70M152.65,219.5h1.70M153.65,207.5h1.70M153.65,213.5h1.70M153.65,219.5h1.70M154.65,210.5h1.70M154.65,216.5h1.70M154.65,219.5h1.70M155.65,210.5h1.70M155.65,213.5h1.70M156.65,213.5h1.70M156.65,216.5h1.70M157.65,216.5h1.70M157.65,219.5h1.70" stroke="#2ee01a" stroke-width="1.70" fill="none"/>
<path d="M100.65,213.5h1.70M101.65,204.5h1.70M101.65,210.5h1.70M104.65,216.5h1.70M114.65,216.5h1.70M115.65,210.5h1.70M116.65,207.5h1.70M116.65,216.5h1.70M117.65,204.5h1.70M117.65,207.5h1.70M119.65,213.5h1.70M120.65,213.5h1.70M120.65,219.5h1.70M122.65,210.5h1.70M122.65,219.5h1.70M123.65,216.5h1.70M125.65,207.5h1.70M125.65,213.5h1.70M127.65,213.5h1.70M129.65,210.5h1.70M129.65,219.5h1.70M131.65,207.5h1.70M133.65,210.5h1.70M134.65,204.5h1.70M134.65,216.5h1.70M135.65,210.5h1.70M136.65,204.5h1.70M136.65,207.5h1.70M136.65,210.5h1.70M136.65,216.5h1.70M137.65,213.5h1.70M139.65,207.5h1.70M139.65,210.5h1.70M139.65,213.5h1.70M140.65,210.5h1.70M140.65,213.5h1.70M140.65,216.5h1.70M141.65,210.5h1.70M141.65,216.5h1.70M143.65,216.5h1.70M143.65,219.5h1.70M144.65,216.5h1.70M145.65,219.5h1.70" stroke="#ff7a00" stroke-width="1.70" fill="none"/>
<path d="M100.65,219.5h1.70M105.65,216.5h1.70M107.65,216.5h1.70M111.65,219.5h1.70" stroke="#1a2cff" stroke-width="1.70" fill="none"/>
<path d="M101.65,216.5h1.70M103.65,204.5h1.70M107.65,213.5h1.70M108.65,219.5h1.70M110.65,207.5h1.70M110.65,213.5h1.70M112.65,213.5h1.70M114.65,204.5h1.70M115.65,213.5h1.70M116.65,213.5h1.70M135.65,204.5h1.70M137.65,204.5h1.70M138.65,204.5h1.70M138.65,207.5h1.70M140.65,204.5h1.70M140.65,207.5h1.70M142.65,216.5h1.70M142.65,219.5h1.70M143.65,213.5h1.70M144.65,207.5h1.70M144.65,219.5h1.70M145.65,207.5h1.70M146.65,210.5h1.70M146.65,216.5h1.70M147.65,219.5h1.70M151.65,216.5h1.70M153.65,210.5h1.70M153.65,216.5h1.70" stroke="#f0e000" stroke-width="1.70" fill="none"/>
<path d="M103.65,216.5h1.70M141.65,207.5h1.70M142.65,207.5h1.70M151.65,219.5h1.70M152.65,216.5h1.70M154.65,213.5h1.70M155.65,216.5h1.70M155.65,219.5h1.70" stroke="#18e0e8" stroke-width="1.70" fill="none"/>
<path d="M99.75,222.5h1.50M99.75,244.5h1.50M100.75,235.5h1.50M100.75,240.5h1.50M103.75,226.5h1.50M103.75,235.5h1.50M105.75,222.5h1.50M105.75,235.5h1.50M106.75,242.5h1.50M106.75,248.5h1.50M107.75,224.5h1.50M107.75,237.5h1.50M107.75,248.5h1.50M107.75,255.5h1.50M109.75,224.5h1.50M109.75,244.5h1.50M109.75,246.5h1.50M110.75,231.5h1.50M110.75,237.5h1.50M110.75,248.5h1.50M111.75,226.5h1.50M111.75,235.5h1.50M112.75,224.5h1.50M112.75,240.5h1.50M112.75,253.5h1.50M113.75,246.5h1.50M114.75,240.5h1.50M114.75,251.5h1.50M114.75,253.5h1.50M115.75,222.5h1.50M115.75,224.5h1.50M115.75,233.5h1.50M115.75,246.5h1.50M116.75,229.5h1.50M116.75,253.5h1.50M117.75,242.5h1.50M118.75,255.5h1.50M119.75,233.5h1.50M119.75,235.5h1.50M119.75,246.5h1.50M120.75,233.5h1.50M120.75,251.5h1.50M122.75,224.5h1.50M122.75,226.5h1.50M122.75,235.5h1.50M123.75,233.5h1.50M124.75,231.5h1.50M124.75,248.5h1.50M125.75,233.5h1.50M125.75,246.5h1.50M126.75,229.5h1.50M126.75,240.5h1.50M127.75,231.5h1.50M127.75,237.5h1.50M127.75,251.5h1.50M128.75,235.5h1.50M128.75,255.5h1.50M129.75,231.5h1.50M129.75,246.5h1.50M129.75,251.5h1.50M129.75,259.5h1.50M130.75,248.5h1.50M130.75,255.5h1.50M131.75,222.5h1.50M132.75,233.5h1.50M132.75,235.5h1.50M133.75,226.5h1.50M133.75,244.5h1.50M134.75,237.5h1.50M135.75,226.5h1.50M135.75,229.5h1.50M135.75,242.5h1.50M135.75,257.5h1.50M136.75,246.5h1.50M136.75,255.5h1.50M136.75,259.5h1.50M138.75,224.5h1.50M138.75,242.5h1.50M138.75,251.5h1.50M138.75,253.5h1.50M139.75,253.5h1.50M140.75,224.5h1.50M140.75,244.5h1.50M140.75,246.5h1.50M141.75,222.5h1.50M141.75,226.5h1.50M141.75,237.5h1.50M142.75,224.5h1.50M142.75,237.5h1.50M143.75,229.5h1.50M143.75,240.5h1.50M144.75,222.5h1.50M144.75,233.5h1.50M144.75,257.5h1.50M145.75,222.5h1.50M145.75,235.5h1.50M146.75,222.5h1.50M146.75,224.5h1.50M146.75,253.5h1.50M146.75,255.5h1.50M147.75,226.5h1.50M147.75,231.5h1.50M148.75,226.5h1.50M148.75,231.5h1.50M148.75,246.5h1.50M149.75,224.5h1.50M149.75,253.5h1.50M150.75,226.5h1.50M150.75,244.5h1.50M150.75,246.5h1.50M150.75,251.5h1.50M150.75,253.5h1.50M151.75,222.5h1.50M151.75,226.5h1.50M151.75,240.5h1.50M151.75,251.5h1.50M152.75,229.5h1.50M152.75,242.5h1.50M152.75,244.5h1.50M152.75,246.5h1.50M152.75,248.5h1.50M152.75,253.5h1.50M152.75,257.5h1.50M153.75,224.5h1.50M153.75,235.5h1.50M153.75,237.5h1.50M153.75,240.5h1.50M153.75,257.5h1.50M154.75,231.5h1.50M154.75,237.5h1.50M154.75,244.5h1.50M154.75,253.5h1.50M154.75,255.5h1.50M155.75,224.5h1.50M155.75,226.5h1.50M155.75,244.5h1.50M155.75,246.5h1.50M155.75,248.5h1.50M156.75,231.5h1.50M156.75,235.5h1.50M156.75,248.5h1.50M156.75,253.5h1.50M157.75,222.5h1.50M157.75,224.5h1.50M157.75,231.5h1.50M157.75,244.5h1.50M159.75,226.5h1.50M159.75,229.5h1.50M159.75,235.5h1.50M159.75,244.5h1.50M159.75,248.5h1.50M159.75,255.5h1.50M160.75,229.5h1.50M160.75,242.5h1.50M160.75,248.5h1.50M161.75,248.5h1.50M162.75,233.5h1.50M162.75,242.5h1.50M163.75,231.5h1.50M164.75,231.5h1.50M164.75,240.5h1.50M164.75,246.5h1.50M165.75,246.5h1.50" stroke="#ff7a00" stroke-width="1.50" fill="none"/>
<path d="M99.75,224.5h1.50M99.75,231.5h1.50M99.75,242.5h1.50M99.75,246.5h1.50M100.75,231.5h1.50M100.75,233.5h1.50M101.75,222.5h1.50M102.75,222.5h1.50M102.75,229.5h1.50M102.75,246.5h1.50M102.75,248.5h1.50M103.75,240.5h1.50M103.75,246.5h1.50M103.75,248.5h1.50M104.75,231.5h1.50M105.75,224.5h1.50M105.75,231.5h1.50M105.75,242.5h1.50M106.75,222.5h1.50M106.75,229.5h1.50M107.75,233.5h1.50M108.75,235.5h1.50M109.75,257.5h1.50M110.75,226.5h1.50M111.75,222.5h1.50M111.75,231.5h1.50M112.75,222.5h1.50M112.75,248.5h1.50M113.75,242.5h1.50M115.75,226.5h1.50M117.75,229.5h1.50M118.75,226.5h1.50M118.75,229.5h1.50M120.75,226.5h1.50M122.75,231.5h1.50M123.75,229.5h1.50M123.75,240.5h1.50M124.75,224.5h1.50M125.75,253.5h1.50M128.75,244.5h1.50M129.75,226.5h1.50M130.75,231.5h1.50M131.75,253.5h1.50M132.75,244.5h1.50M132.75,248.5h1.50M137.75,253.5h1.50M138.75,246.5h1.50M142.75,257.5h1.50M149.75,226.5h1.50M149.75,231.5h1.50M149.75,235.5h1.50M151.75,237.5h1.50M151.75,242.5h1.50M151.75,257.5h1.50M152.75,231.5h1.50M152.75,255.5h1.50M154.75,224.5h1.50M155.75,233.5h1.50M156.75,226.5h1.50M156.75,229.5h1.50M156.75,246.5h1.50M157.75,233.5h1.50M157.75,240.5h1.50M158.75,231.5h1.50M159.75,224.5h1.50M159.75,231.5h1.50M159.75,237.5h1.50M160.75,224.5h1.50M160.75,231.5h1.50M160.75,233.5h1.50M160.75,235.5h1.50M160.75,237.5h1.50M160.75,251.5h1.50M161.75,224.5h1.50M161.75,226.5h1.50M161.75,229.5h1.50M161.75,231.5h1.50M161.75,235.5h1.50M162.75,229.5h1.50M162.75,231.5h1.50M162.75,235.5h1.50M162.75,244.5h1.50M162.75,248.5h1.50M162.75,251.5h1.50M162.75,253.5h1.50M163.75,229.5h1.50M163.75,237.5h1.50M163.75,248.5h1.50M164.75,237.5h1.50M164.75,244.5h1.50M165.75,235.5h1.50M165.75,248.5h1.50" stroke="#2ee01a" stroke-width="1.50" fill="none"/>
<path d="M99.75,226.5h1.50M99.75,229.5h1.50M99.75,237.5h1.50M99.75,240.5h1.50M99.75,251.5h1.50M99.75,253.5h1.50M99.75,255.5h1.50M99.75,257.5h1.50M99.75,259.5h1.50M100.75,224.5h1.50M100.75,237.5h1.50M100.75,242.5h1.50M100.75,248.5h1.50M100.75,253.5h1.50M100.75,255.5h1.50M100.75,257.5h1.50M100.75,259.5h1.50M101.75,231.5h1.50M101.75,233.5h1.50M101.75,235.5h1.50M101.75,240.5h1.50M101.75,242.5h1.50M101.75,246.5h1.50M101.75,251.5h1.50M101.75,253.5h1.50M101.75,255.5h1.50M101.75,257.5h1.50M102.75,226.5h1.50M102.75,231.5h1.50M102.75,233.5h1.50M102.75,235.5h1.50M102.75,240.5h1.50M102.75,242.5h1.50M102.75,244.5h1.50M102.75,253.5h1.50M102.75,255.5h1.50M102.75,257.5h1.50M102.75,259.5h1.50M103.75,222.5h1.50M103.75,229.5h1.50M103.75,233.5h1.50M103.75,237.5h1.50M103.75,244.5h1.50M103.75,251.5h1.50M103.75,253.5h1.50M103.75,255.5h1.50M103.75,257.5h1.50M103.75,259.5h1.50M104.75,224.5h1.50M104.75,226.5h1.50M104.75,235.5h1.50M104.75,240.5h1.50M104.75,242.5h1.50M104.75,244.5h1.50M104.75,246.5h1.50M104.75,251.5h1.50M104.75,253.5h1.50M104.75,255.5h1.50M104.75,257.5h1.50M104.75,259.5h1.50M105.75,240.5h1.50M105.75,246.5h1.50M105.75,248.5h1.50M105.75,253.5h1.50M105.75,255.5h1.50M105.75,259.5h1.50M106.75,224.5h1.50M106.75,231.5h1.50M106.75,233.5h1.50M106.75,235.5h1.50M106.75,237.5h1.50M106.75,240.5h1.50M106.75,244.5h1.50M106.75,251.5h1.50M106.75,253.5h1.50M106.75,255.5h1.50M106.75,257.5h1.50M106.75,259.5h1.50M107.75,222.5h1.50M107.75,229.5h1.50M107.75,231.5h1.50M107.75,235.5h1.50M107.75,242.5h1.50M107.75,244.5h1.50M107.75,246.5h1.50M107.75,251.5h1.50M107.75,257.5h1.50M107.75,259.5h1.50M108.75,222.5h1.50M108.75,226.5h1.50M108.75,229.5h1.50M108.75,231.5h1.50M108.75,237.5h1.50M108.75,242.5h1.50M108.75,244.5h1.50M108.75,246.5h1.50M108.75,253.5h1.50M108.75,255.5h1.50M108.75,257.5h1.50M108.75,259.5h1.50M109.75,222.5h1.50M109.75,226.5h1.50M109.75,231.5h1.50M109.75,233.5h1.50M109.75,235.5h1.50M109.75,240.5h1.50M109.75,242.5h1.50M109.75,248.5h1.50M109.75,251.5h1.50M109.75,253.5h1.50M109.75,255.5h1.50M110.75,222.5h1.50M110.75,233.5h1.50M110.75,235.5h1.50M110.75,240.5h1.50M110.75,244.5h1.50M110.75,246.5h1.50M110.75,253.5h1.50M110.75,255.5h1.50M110.75,257.5h1.50M111.75,233.5h1.50M111.75,237.5h1.50M111.75,240.5h1.50M111.75,242.5h1.50M111.75,244.5h1.50M111.75,246.5h1.50M111.75,248.5h1.50M111.75,251.5h1.50M111.75,253.5h1.50M111.75,255.5h1.50M111.75,257.5h1.50M112.75,226.5h1.50M112.75,229.5h1.50M112.75,233.5h1.50M112.75,235.5h1.50M112.75,237.5h1.50M112.75,244.5h1.50M112.75,246.5h1.50M112.75,251.5h1.50M112.75,255.5h1.50M113.75,222.5h1.50M113.75,226.5h1.50M113.75,229.5h1.50M113.75,231.5h1.50M113.75,233.5h1.50M113.75,235.5h1.50M113.75,237.5h1.50M113.75,240.5h1.50M113.75,244.5h1.50M113.75,253.5h1.50M113.75,255.5h1.50M113.75,257.5h1.50M114.75,222.5h1.50M114.75,229.5h1.50M114.75,231.5h1.50M114.75,233.5h1.50M114.75,235.5h1.50M114.75,237.5h1.50M114.75,242.5h1.50M114.75,244.5h1.50M114.75,246.5h1.50M114.75,255.5h1.50M114.75,257.5h1.50M115.75,235.5h1.50M115.75,237.5h1.50M115.75,240.5h1.50M115.75,242.5h1.50M115.75,244.5h1.50M115.75,248.5h1.50M115.75,251.5h1.50M115.75,253.5h1.50M116.75,224.5h1.50M116.75,226.5h1.50M116.75,231.5h1.50M116.75,233.5h1.50M116.75,235.5h1.50M116.75,237.5h1.50M116.75,240.5h1.50M116.75,242.5h1.50M116.75,244.5h1.50M116.75,246.5h1.50M116.75,251.5h1.50M117.75,222.5h1.50M117.75,226.5h1.50M117.75,233.5h1.50M117.75,235.5h1.50M117.75,237.5h1.50M117.75,240.5h1.50M117.75,244.5h1.50M117.75,246.5h1.50M117.75,248.5h1.50M117.75,251.5h1.50M117.75,253.5h1.50M117.75,257.5h1.50M118.75,224.5h1.50M118.75,231.5h1.50M118.75,235.5h1.50M118.75,237.5h1.50M118.75,240.5h1.50M118.75,242.5h1.50M118.75,248.5h1.50M118.75,251.5h1.50M119.75,224.5h1.50M119.75,226.5h1.50M119.75,229.5h1.50M119.75,231.5h1.50M119.75,237.5h1.50M119.75,240.5h1.50M119.75,242.5h1.50M119.75,248.5h1.50M119.75,251.5h1.50M119.75,253.5h1.50M119.75,255.5h1.50M119.75,257.5h1.50M120.75,222.5h1.50M120.75,235.5h1.50M120.75,237.5h1.50M120.75,240.5h1.50M120.75,242.5h1.50M120.75,244.5h1.50M120.75,246.5h1.50M120.75,248.5h1.50M120.75,253.5h1.50M120.75,255.5h1.50M120.75,257.5h1.50M121.75,224.5h1.50M121.75,226.5h1.50M121.75,233.5h1.50M121.75,235.5h1.50M121.75,237.5h1.50M121.75,242.5h1.50M121.75,244.5h1.50M121.75,246.5h1.50M121.75,251.5h1.50M121.75,257.5h1.50M122.75,222.5h1.50M122.75,233.5h1.50M122.75,237.5h1.50M122.75,240.5h1.50M122.75,242.5h1.50M122.75,244.5h1.50M122.75,246.5h1.50M122.75,248.5h1.50M122.75,251.5h1.50M122.75,253.5h1.50M122.75,255.5h1.50M122.75,257.5h1.50M123.75,222.5h1.50M123.75,224.5h1.50M123.75,226.5h1.50M123.75,237.5h1.50M123.75,242.5h1.50M123.75,244.5h1.50M123.75,246.5h1.50M123.75,248.5h1.50M123.75,253.5h1.50M123.75,255.5h1.50M123.75,257.5h1.50M124.75,222.5h1.50M124.75,229.5h1.50M124.75,233.5h1.50M124.75,235.5h1.50M124.75,237.5h1.50M124.75,240.5h1.50M124.75,242.5h1.50M124.75,244.5h1.50M124.75,246.5h1.50M124.75,251.5h1.50M124.75,253.5h1.50M124.75,257.5h1.50M124.75,259.5h1.50M125.75,222.5h1.50M125.75,226.5h1.50M125.75,237.5h1.50M125.75,240.5h1.50M125.75,242.5h1.50M125.75,244.5h1.50M125.75,248.5h1.50M125.75,251.5h1.50M125.75,257.5h1.50M125.75,259.5h1.50M126.75,224.5h1.50M126.75,226.5h1.50M126.75,233.5h1.50M126.75,242.5h1.50M126.75,246.5h1.50M126.75,248.5h1.50M126.75,253.5h1.50M126.75,255.5h1.50M126.75,257.5h1.50M127.75,222.5h1.50M127.75,224.5h1.50M127.75,226.5h1.50M127.75,229.5h1.50M127.75,235.5h1.50M127.75,240.5h1.50M127.75,242.5h1.50M127.75,244.5h1.50M127.75,246.5h1.50M127.75,248.5h1.50M127.75,253.5h1.50M127.75,257.5h1.50M127.75,259.5h1.50M128.75,222.5h1.50M128.75,224.5h1.50M128.75,226.5h1.50M128.75,229.5h1.50M128.75,231.5h1.50M128.75,233.5h1.50M128.75,237.5h1.50M128.75,240.5h1.50M128.75,242.5h1.50M128.75,246.5h1.50M128.75,251.5h1.50M128.75,257.5h1.50M129.75,229.5h1.50M129.75,235.5h1.50M129.75,237.5h1.50M129.75,240.5h1.50M129.75,242.5h1.50M129.75,244.5h1.50M129.75,248.5h1.50M129.75,253.5h1.50M129.75,255.5h1.50M129.75,257.5h1.50M130.75,224.5h1.50M130.75,226.5h1.50M130.75,229.5h1.50M130.75,233.5h1.50M130.75,235.5h1.50M130.75,237.5h1.50M130.75,240.5h1.50M130.75,242.5h1.50M130.75,244.5h1.50M130.75,246.5h1.50M130.75,251.5h1.50M130.75,253.5h1.50M130.75,257.5h1.50M130.75,259.5h1.50M131.75,224.5h1.50M131.75,226.5h1.50M131.75,229.5h1.50M131.75,231.5h1.50M131.75,233.5h1.50M131.75,235.5h1.50M131.75,237.5h1.50M131.75,242.5h1.50M131.75,244.5h1.50M131.75,246.5h1.50M131.75,248.5h1.50M131.75,251.5h1.50M131.75,255.5h1.50M131.75,257.5h1.50M131.75,259.5h1.50M132.75,222.5h1.50M132.75,224.5h1.50M132.75,226.5h1.50M132.75,229.5h1.50M132.75,237.5h1.50M132.75,240.5h1.50M132.75,242.5h1.50M132.75,246.5h1.50M132.75,251.5h1.50M132.75,253.5h1.50M132.75,255.5h1.50M132.75,259.5h1.50M133.75,224.5h1.50M133.75,233.5h1.50M133.75,235.5h1.50M133.75,237.5h1.50M133.75,240.5h1.50M133.75,246.5h1.50M133.75,248.5h1.50M133.75,251.5h1.50M133.75,253.5h1.50M133.75,255.5h1.50M134.75,222.5h1.50M134.75,226.5h1.50M134.75,229.5h1.50M134.75,231.5h1.50M134.75,233.5h1.50M134.75,240.5h1.50M134.75,242.5h1.50M134.75,244.5h1.50M134.75,246.5h1.50M134.75,248.5h1.50M134.75,251.5h1.50M134.75,253.5h1.50M134.75,255.5h1.50M134.75,259.5h1.50M135.75,222.5h1.50M135.75,224.5h1.50M135.75,231.5h1.50M135.75,233.5h1.50M135.75,235.5h1.50M135.75,237.5h1.50M135.75,240.5h1.50M135.75,244.5h1.50M135.75,246.5h1.50M135.75,248.5h1.50M135.75,251.5h1.50M135.75,253.5h1.50M135.75,255.5h1.50M135.75,259.5h1.50M136.75,222.5h1.50M136.75,224.5h1.50M136.75,226.5h1.50M136.75,231.5h1.50M136.75,233.5h1.50M136.75,235.5h1.50M136.75,237.5h1.50M136.75,240.5h1.50M136.75,242.5h1.50M136.75,244.5h1.50M136.75,248.5h1.50M136.75,253.5h1.50M136.75,257.5h1.50M137.75,222.5h1.50M137.75,224.5h1.50M137.75,226.5h1.50M137.75,233.5h1.50M137.75,235.5h1.50M137.75,237.5h1.50M137.75,242.5h1.50M137.75,244.5h1.50M137.75,246.5h1.50M137.75,248.5h1.50M137.75,251.5h1.50M137.75,255.5h1.50M137.75,257.5h1.50M137.75,259.5h1.50M138.75,226.5h1.50M138.75,229.5h1.50M138.75,235.5h1.50M138.75,240.5h1.50M138.75,248.5h1.50M138.75,255.5h1.50M138.75,257.5h1.50M138.75,259.5h1.50M139.75,222.5h1.50M139.75,224.5h1.50M139.75,226.5h1.50M139.75,229.5h1.50M139.75,231.5h1.50M139.75,233.5h1.50M139.75,235.5h1.50M139.75,237.5h1.50M139.75,240.5h1.50M139.75,242.5h1.50M139.75,244.5h1.50M139.75,246.5h1.50M139.75,248.5h1.50M139.75,251.5h1.50M139.75,257.5h1.50M139.75,259.5h1.50M140.75,222.5h1.50M140.75,226.5h1.50M140.75,229.5h1.50M140.75,231.5h1.50M140.75,233.5h1.50M140.75,235.5h1.50M140.75,237.5h1.50M140.75,240.5h1.50M140.75,242.5h1.50M140.75,248.5h1.50M140.75,251.5h1.50M140.75,253.5h1.50M140.75,255.5h1.50M140.75,257.5h1.50M140.75,259.5h1.50M141.75,224.5h1.50M141.75,231.5h1.50M141.75,233.5h1.50M141.75,235.5h1.50M141.75,240.5h1.50M141.75,242.5h1.50M141.75,244.5h1.50M141.75,246.5h1.50M141.75,251.5h1.50M141.75,253.5h1.50M141.75,255.5h1.50M142.75,222.5h1.50M142.75,226.5h1.50M142.75,229.5h1.50M142.75,231.5h1.50M142.75,233.5h1.50M142.75,235.5h1.50M142.75,240.5h1.50M142.75,242.5h1.50M142.75,246.5h1.50M142.75,248.5h1.50M142.75,251.5h1.50M142.75,253.5h1.50M142.75,255.5h1.50M142.75,259.5h1.50M143.75,222.5h1.50M143.75,224.5h1.50M143.75,226.5h1.50M143.75,231.5h1.50M143.75,233.5h1.50M143.75,235.5h1.50M143.75,237.5h1.50M143.75,242.5h1.50M143.75,244.5h1.50M143.75,246.5h1.50M143.75,248.5h1.50M143.75,251.5h1.50M143.75,253.5h1.50M143.75,255.5h1.50M143.75,257.5h1.50M144.75,224.5h1.50M144.75,226.5h1.50M144.75,235.5h1.50M144.75,237.5h1.50M144.75,240.5h1.50M144.75,242.5h1.50M144.75,246.5h1.50M144.75,248.5h1.50M144.75,251.5h1.50M144.75,255.5h1.50M145.75,224.5h1.50M145.75,226.5h1.50M145.75,229.5h1.50M145.75,231.5h1.50M145.75,233.5h1.50M145.75,237.5h1.50M145.75,240.5h1.50M145.75,242.5h1.50M145.75,246.5h1.50M145.75,248.5h1.50M145.75,253.5h1.50M145.75,255.5h1.50M146.75,231.5h1.50M146.75,233.5h1.50M146.75,235.5h1.50M146.75,237.5h1.50M146.75,240.5h1.50M146.75,242.5h1.50M146.75,244.5h1.50M146.75,246.5h1.50M146.75,251.5h1.50M147.75,224.5h1.50M147.75,229.5h1.50M147.75,233.5h1.50M147.75,235.5h1.50M147.75,237.5h1.50M147.75,240.5h1.50M147.75,242.5h1.50M147.75,244.5h1.50M147.75,246.5h1.50M147.75,248.5h1.50M147.75,251.5h1.50M147.75,253.5h1.50M147.75,255.5h1.50M148.75,224.5h1.50M148.75,235.5h1.50M148.75,237.5h1.50M148.75,240.5h1.50M148.75,242.5h1.50M148.75,244.5h1.50M148.75,248.5h1.50M148.75,251.5h1.50M148.75,253.5h1.50M148.75,255.5h1.50M149.75,229.5h1.50M149.75,233.5h1.50M149.75,237.5h1.50M149.75,240.5h1.50M149.75,242.5h1.50M149.75,244.5h1.50M149.75,248.5h1.50M149.75,251.5h1.50M149.75,255.5h1.50M150.75,222.5h1.50M150.75,224.5h1.50M150.75,229.5h1.50M150.75,231.5h1.50M150.75,233.5h1.50M150.75,237.5h1.50M150.75,240.5h1.50M150.75,242.5h1.50M151.75,229.5h1.50M151.75,231.5h1.50M151.75,233.5h1.50M151.75,235.5h1.50M151.75,244.5h1.50M151.75,253.5h1.50M152.75,222.5h1.50M152.75,233.5h1.50M152.75,235.5h1.50M152.75,237.5h1.50M152.75,240.5h1.50M152.75,251.5h1.50M153.75,226.5h1.50M153.75,242.5h1.50M153.75,244.5h1.50M153.75,246.5h1.50M153.75,248.5h1.50M153.75,251.5h1.50M153.75,253.5h1.50M154.75,226.5h1.50M154.75,235.5h1.50M154.75,246.5h1.50M154.75,248.5h1.50M155.75,231.5h1.50M155.75,242.5h1.50M156.75,244.5h1.50M157.75,229.5h1.50M160.75,240.5h1.50M161.75,240.5h1.50" stroke="#ff1a0a" stroke-width="1.50" fill="none"/>
<path d="M99.75,235.5h1.50M99.75,248.5h1.50M101.75,224.5h1.50M101.75,226.5h1.50M101.75,229.5h1.50M101.75,248.5h1.50M101.75,259.5h1.50M104.75,229.5h1.50M104.75,233.5h1.50M104.75,248.5h1.50M105.75,229.5h1.50M105.75,233.5h1.50M105.75,251.5h1.50M108.75,224.5h1.50M114.75,224.5h1.50M115.75,231.5h1.50M116.75,248.5h1.50M116.75,257.5h1.50M117.75,224.5h1.50M117.75,255.5h1.50M118.75,257.5h1.50M119.75,244.5h1.50M120.75,231.5h1.50M121.75,231.5h1.50M123.75,231.5h1.50M123.75,235.5h1.50M125.75,231.5h1.50M126.75,231.5h1.50M126.75,251.5h1.50M126.75,259.5h1.50M131.75,240.5h1.50M132.75,231.5h1.50M133.75,222.5h1.50M133.75,229.5h1.50M138.75,231.5h1.50M141.75,259.5h1.50M145.75,257.5h1.50M147.75,257.5h1.50M148.75,229.5h1.50M151.75,246.5h1.50M151.75,248.5h1.50M151.75,255.5h1.50M152.75,224.5h1.50M152.75,226.5h1.50M153.75,222.5h1.50M153.75,229.5h1.50M153.75,231.5h1.50M154.75,222.5h1.50M154.75,229.5h1.50M154.75,233.5h1.50M154.75,242.5h1.50M155.75,222.5h1.50M155.75,240.5h1.50M155.75,253.5h1.50M155.75,255.5h1.50M155.75,257.5h1.50M156.75,257.5h1.50M157.75,226.5h1.50M157.75,237.5h1.50M157.75,255.5h1.50M157.75,257.5h1.50M158.75,224.5h1.50M158.75,251.5h1.50M159.75,240.5h1.50M159.75,253.5h1.50M160.75,244.5h1.50M161.75,242.5h1.50M161.75,251.5h1.50M162.75,226.5h1.50M164.75,233.5h1.50M164.75,235.5h1.50M164.75,248.5h1.50M164.75,251.5h1.50M166.75,240.5h1.50" stroke="#f0e000" stroke-width="1.50" fill="none"/>
<path d="M100.75,222.5h1.50M100.75,244.5h1.50M102.75,224.5h1.50M102.75,251.5h1.50M105.75,237.5h1.50M105.75,244.5h1.50M107.75,226.5h1.50M111.75,229.5h1.50M112.75,231.5h1.50M115.75,229.5h1.50M118.75,222.5h1.50M121.75,222.5h1.50M121.75,253.5h1.50M122.75,229.5h1.50M126.75,222.5h1.50M130.75,222.5h1.50M133.75,242.5h1.50M134.75,224.5h1.50M134.75,235.5h1.50" stroke="#1a2cff" stroke-width="1.50" fill="none"/>
<path d="M100.75,226.5h1.50M100.75,229.5h1.50M100.75,246.5h1.50M104.75,237.5h1.50M106.75,226.5h1.50M113.75,224.5h1.50M116.75,222.5h1.50M121.75,229.5h1.50M124.75,226.5h1.50M148.75,259.5h1.50M156.75,224.5h1.50M156.75,255.5h1.50M158.75,222.5h1.50M158.75,226.5h1.50M160.75,226.5h1.50M162.75,246.5h1.50M163.75,244.5h1.50M163.75,251.5h1.50M165.75,242.5h1.50" stroke="#18e0e8" stroke-width="1.50" fill="none"/>
<path d="M138.82,272.5h1.35M143.82,276.5h1.35M150.82,286.5h1.35M146.82,277.5h1.35M147.82,279.5h1.35M150.82,283.5h1.35M143.82,269.5h1.35M149.82,278.5h1.35M153.82,284.5h1.35M144.82,268.5h1.35M149.82,274.5h1.35M150.82,276.5h1.35M153.82,281.5h1.35M144.82,265.5h1.35M147.82,269.5h1.35M156.82,282.5h1.35M150.82,270.5h1.35M152.82,272.5h1.35M161.82,285.5h1.35M150.82,267.5h1.35M145.82,257.5h1.35M153.82,268.5h1.35M155.82,270.5h1.35M159.82,276.5h1.35M166.82,285.5h1.35M150.82,260.5h1.35M155.82,267.5h1.35M159.82,273.5h1.35M148.82,255.5h1.35M164.82,276.5h1.35M167.82,280.5h1.35M172.82,287.5h1.35M151.82,256.5h1.35M150.82,251.5h1.35M151.82,253.5h1.35M159.82,263.5h1.35M164.82,270.5h1.35M165.82,272.5h1.35M172.82,280.5h1.35M173.82,282.5h1.35M153.82,252.5h1.35M156.82,256.5h1.35M159.82,260.5h1.35M161.82,262.5h1.35M162.82,264.5h1.35M170.82,275.5h1.35M158.82,255.5h1.35M161.82,259.5h1.35M173.82,276.5h1.35M159.82,254.5h1.35M165.82,262.5h1.35M170.82,265.5h1.35M168.82,260.5h1.35M170.82,262.5h1.35" stroke="#18e0e8" stroke-width="1.35" fill="none"/>
<path d="M144.82,281.5h1.35M146.82,280.5h1.35M147.82,275.5h1.35M155.82,286.5h1.35M152.82,279.5h1.35M158.82,287.5h1.35M160.82,289.5h1.35M160.82,286.5h1.35M163.82,290.5h1.35M155.82,276.5h1.35M156.82,278.5h1.35M159.82,283.5h1.35M163.82,287.5h1.35M164.82,289.5h1.35M164.82,286.5h1.35M166.82,288.5h1.35M156.82,272.5h1.35M162.82,280.5h1.35M167.82,287.5h1.35M158.82,271.5h1.35M164.82,279.5h1.35M166.82,281.5h1.35M169.82,286.5h1.35M158.82,268.5h1.35M159.82,270.5h1.35M169.82,282.5h1.35M167.82,277.5h1.35M162.82,268.5h1.35M164.82,267.5h1.35M167.82,271.5h1.35M175.82,281.5h1.35M170.82,272.5h1.35M171.82,274.5h1.35M176.82,280.5h1.35M168.82,266.5h1.35M171.82,271.5h1.35M171.82,267.5h1.35M173.82,270.5h1.35M174.82,272.5h1.35M178.82,276.5h1.35M173.82,266.5h1.35" stroke="#1a2cff" stroke-width="1.35" fill="none"/>
<path d="M138.82,269.5h1.35M144.82,278.5h1.35M138.82,266.5h1.35M141.82,270.5h1.35M138.82,263.5h1.35M141.82,267.5h1.35M146.82,273.5h1.35M141.82,261.5h1.35M149.82,271.5h1.35M149.82,265.5h1.35M149.82,262.5h1.35M161.82,278.5h1.35M152.82,263.5h1.35M161.82,275.5h1.35M152.82,259.5h1.35M153.82,261.5h1.35M156.82,266.5h1.35M161.82,272.5h1.35M153.82,258.5h1.35M159.82,267.5h1.35M164.82,273.5h1.35M153.82,255.5h1.35M155.82,257.5h1.35M158.82,261.5h1.35M154.82,254.5h1.35M165.82,269.5h1.35M172.82,277.5h1.35M156.82,253.5h1.35M165.82,265.5h1.35M167.82,268.5h1.35M168.82,270.5h1.35M164.82,260.5h1.35M173.82,273.5h1.35M167.82,261.5h1.35M168.82,263.5h1.35M174.82,268.5h1.35" stroke="#2ee01a" stroke-width="1.35" fill="none"/>
<path d="M142.82,263.5h1.35" stroke="#f0e000" stroke-width="1.35" fill="none"/>
<path d="M85.80,260.5h1.40M85.80,262.5h1.40M85.80,264.5h1.40M85.80,268.5h1.40M85.80,272.5h1.40M85.80,276.5h1.40M87.80,264.5h1.40M87.80,266.5h1.40M87.80,268.5h1.40M87.80,270.5h1.40M87.80,276.5h1.40M89.80,258.5h1.40M89.80,260.5h1.40M89.80,266.5h1.40M89.80,268.5h1.40M89.80,272.5h1.40M91.80,258.5h1.40M91.80,260.5h1.40M91.80,262.5h1.40M91.80,266.5h1.40M91.80,268.5h1.40M91.80,270.5h1.40M91.80,272.5h1.40M91.80,276.5h1.40M93.80,260.5h1.40M93.80,272.5h1.40M93.80,274.5h1.40M93.80,276.5h1.40M93.80,278.5h1.40M95.80,266.5h1.40M95.80,268.5h1.40M95.80,270.5h1.40M95.80,272.5h1.40M95.80,278.5h1.40M97.80,264.5h1.40M97.80,270.5h1.40M97.80,274.5h1.40M97.80,276.5h1.40M99.80,260.5h1.40M99.80,262.5h1.40M99.80,264.5h1.40M99.80,268.5h1.40M99.80,270.5h1.40M101.80,270.5h1.40" stroke="#2ee01a" stroke-width="1.40" fill="none"/>
<path d="M85.80,266.5h1.40M87.80,260.5h1.40M87.80,262.5h1.40M89.80,262.5h1.40M89.80,274.5h1.40M89.80,276.5h1.40M91.80,278.5h1.40M93.80,268.5h1.40M95.80,258.5h1.40M101.80,268.5h1.40M101.80,272.5h1.40" stroke="#f0e000" stroke-width="1.40" fill="none"/>
<path d="M89.80,264.5h1.40M97.80,278.5h1.40M99.80,274.5h1.40" stroke="#18e0e8" stroke-width="1.40" fill="none"/>
<path d="M61,203.8 L77.6,203.8 L77.6,206.5 Q69.3,212.5 61,206.5 Z" fill="#9c9c9c" opacity="0.9"/>
<path d="M63,204.3 L75.6,204.3 L75.6,205 Q69.3,209 63,205 Z" fill="#c2c2c2" opacity="0.9"/>
<path d="M85,203.8 L100.2,203.8 L100.2,207.7 Q92.6,213.7 85,207.7 Z" fill="#9c9c9c" opacity="0.9"/>
<path d="M87,204.3 L98.2,204.3 L98.2,206.2 Q92.6,210.2 87,206.2 Z" fill="#c2c2c2" opacity="0.9"/>
<path d="M109.6,203.8 L122,203.8 L122,209.3 Q115.8,215.3 109.6,209.3 Z" fill="#9c9c9c" opacity="0.9"/>
<path d="M111.6,204.3 L120,204.3 L120,207.8 Q115.8,211.8 111.6,207.8 Z" fill="#c2c2c2" opacity="0.9"/>
<path d="M95.0,262.0 L99.0,259.0 L103.0,258.0 L107.0,260.0 L110.0,262.0" fill="none" stroke="#e020b0" stroke-width="2.08" stroke-linecap="round" stroke-linejoin="round"/>
<path d="M99.0,259.0 L101.0,266.0 L98.0,270.0" fill="none" stroke="#e020b0" stroke-width="2.08" stroke-linecap="round" stroke-linejoin="round"/>
<path d="M94.0,262.0 L97.0,261.0" fill="none" stroke="#1a1aa0" stroke-width="2.08" stroke-linecap="round" stroke-linejoin="round"/>
<path d="M117.0,245.0 L117.0,262.0" fill="none" stroke="#d02090" stroke-width="2.3400000000000003" stroke-linecap="round" stroke-linejoin="round"/>
<path d="M117.0,246.0 L123.0,245.0" fill="none" stroke="#1a1aa0" stroke-width="2.3400000000000003" stroke-linecap="round" stroke-linejoin="round"/>
<path d="M117.0,253.0 L124.0,253.0" fill="none" stroke="#1a1aa0" stroke-width="2.3400000000000003" stroke-linecap="round" stroke-linejoin="round"/>
<path d="M123.0,245.0 L128.0,249.0 L134.0,250.0 L130.0,255.0 L124.0,253.0" fill="none" stroke="#e040c0" stroke-width="2.08" stroke-linecap="round" stroke-linejoin="round"/>
<path d="M117.0,262.0 L121.0,265.0" fill="none" stroke="#e01010" stroke-width="2.08" stroke-linecap="round" stroke-linejoin="round"/>
<text x="125.0" y="259.7" class="res" style="font-size:7.2px">His46</text>
<text x="87.6" y="274.6" class="res" style="font-size:6.9px">Asp81</text>
<text x="113.5" y="273.7" class="res" style="font-size:7.1px">Cys151</text>
<path d="M300.0,246.0 C301.7,247.7 306.3,253.3 310.0,256.0 C313.7,258.7 318.0,261.7 322.0,262.0 C326.0,262.3 332.0,258.7 334.0,258.0" fill="none" stroke="#b86e6e" stroke-width="2.7" stroke-linecap="round" stroke-linejoin="round"/>
<path d="M300.0,246.0 C301.7,247.7 306.3,253.3 310.0,256.0 C313.7,258.7 318.0,261.7 322.0,262.0 C326.0,262.3 332.0,258.7 334.0,258.0" fill="none" stroke="#eba3a3" stroke-width="1.7" stroke-linecap="round" stroke-linejoin="round"/>
<path d="M336.0,246.0 C337.7,245.0 342.7,240.3 346.0,240.0 C349.3,239.7 353.3,242.3 356.0,244.0 C358.7,245.7 361.0,249.0 362.0,250.0" fill="none" stroke="#b86e6e" stroke-width="2.6" stroke-linecap="round" stroke-linejoin="round"/>
<path d="M336.0,246.0 C337.7,245.0 342.7,240.3 346.0,240.0 C349.3,239.7 353.3,242.3 356.0,244.0 C358.7,245.7 361.0,249.0 362.0,250.0" fill="none" stroke="#eba3a3" stroke-width="1.6" stroke-linecap="round" stroke-linejoin="round"/>
<path d="M318.0,300.0 C320.0,301.0 325.5,306.3 330.0,306.0 C334.5,305.7 340.0,299.0 345.0,298.0 C350.0,297.0 355.5,298.7 360.0,300.0 C364.5,301.3 370.0,305.0 372.0,306.0" fill="none" stroke="#b86e6e" stroke-width="2.7" stroke-linecap="round" stroke-linejoin="round"/>
<path d="M318.0,300.0 C320.0,301.0 325.5,306.3 330.0,306.0 C334.5,305.7 340.0,299.0 345.0,298.0 C350.0,297.0 355.5,298.7 360.0,300.0 C364.5,301.3 370.0,305.0 372.0,306.0" fill="none" stroke="#eba3a3" stroke-width="1.7" stroke-linecap="round" stroke-linejoin="round"/>
<path d="M326.0,318.0 C328.0,317.0 333.7,312.3 338.0,312.0 C342.3,311.7 349.7,315.3 352.0,316.0" fill="none" stroke="#b86e6e" stroke-width="2.7" stroke-linecap="round" stroke-linejoin="round"/>
<path d="M326.0,318.0 C328.0,317.0 333.7,312.3 338.0,312.0 C342.3,311.7 349.7,315.3 352.0,316.0" fill="none" stroke="#eba3a3" stroke-width="1.7" stroke-linecap="round" stroke-linejoin="round"/>
<path d="M352.0,226.0 C353.3,225.3 357.0,222.3 360.0,222.0 C363.0,221.7 368.3,223.7 370.0,224.0" fill="none" stroke="#b86e6e" stroke-width="2.6" stroke-linecap="round" stroke-linejoin="round"/>
<path d="M352.0,226.0 C353.3,225.3 357.0,222.3 360.0,222.0 C363.0,221.7 368.3,223.7 370.0,224.0" fill="none" stroke="#eba3a3" stroke-width="1.6" stroke-linecap="round" stroke-linejoin="round"/>
<path d="M362.0,262.0 L372.0,268.0" fill="none" stroke="#b86e6e" stroke-width="2.6" stroke-linecap="round" stroke-linejoin="round"/>
<path d="M362.0,262.0 L372.0,268.0" fill="none" stroke="#eba3a3" stroke-width="1.6" stroke-linecap="round" stroke-linejoin="round"/>
<path d="M356.0,290.0 C357.3,289.3 361.3,286.0 364.0,286.0 C366.7,286.0 370.7,289.3 372.0,290.0" fill="none" stroke="#b86e6e" stroke-width="2.5" stroke-linecap="round" stroke-linejoin="round"/>
<path d="M356.0,290.0 C357.3,289.3 361.3,286.0 364.0,286.0 C366.7,286.0 370.7,289.3 372.0,290.0" fill="none" stroke="#eba3a3" stroke-width="1.5" stroke-linecap="round" stroke-linejoin="round"/>
<polygon points="348.3,319.9 359.3,289.9 354.7,288.1 343.7,318.1" fill="#d48a8a" stroke="#b86e6e" stroke-width="0.7" stroke-linejoin="round"/>
<defs><linearGradient id="g108" gradientUnits="userSpaceOnUse" x1="360.3" y1="249.5" x2="367.7" y2="254.5"><stop offset="0" stop-color="#f0b0b0"/><stop offset="1" stop-color="#d08484"/></linearGradient></defs>
<polygon points="360.3,249.5 332.4,290.0 330.2,288.5 330.9,300.2 342.0,296.7 339.8,295.1 367.7,254.5" fill="url(#g108)" stroke="#b86e6e" stroke-width="0.7" stroke-linejoin="round"/>
<defs><linearGradient id="g110" gradientUnits="userSpaceOnUse" x1="321.3" y1="284.0" x2="314.7" y2="278.0"><stop offset="0" stop-color="#f2b4b4"/><stop offset="1" stop-color="#d08686"/></linearGradient></defs>
<polygon points="321.3,284.0 349.2,253.7 351.2,255.5 352.1,243.9 340.6,245.8 342.6,247.6 314.7,278.0" fill="url(#g110)" stroke="#b86e6e" stroke-width="0.7" stroke-linejoin="round"/>
<defs><linearGradient id="g112" gradientUnits="userSpaceOnUse" x1="304.1" y1="288.7" x2="295.9" y2="281.3"><stop offset="0" stop-color="#fbd8d8"/><stop offset="1" stop-color="#d88c8c"/></linearGradient></defs>
<polygon points="304.1,288.7 348.8,238.9 351.2,241.1 352.1,226.9 338.1,229.3 340.6,231.5 295.9,281.3" fill="url(#g112)" stroke="#b86e6e" stroke-width="0.7" stroke-linejoin="round"/>
<path d="M205.0,268.0 C204.3,269.5 200.7,274.2 201.0,277.0 C201.3,279.8 204.8,284.3 207.0,285.0 C209.2,285.7 213.0,283.0 214.0,281.0 C215.0,279.0 214.5,275.2 213.0,273.0 C211.5,270.8 206.3,268.8 205.0,268.0" fill="none" stroke="#b86e6e" stroke-width="2.8" stroke-linecap="round" stroke-linejoin="round"/>
<path d="M205.0,268.0 C204.3,269.5 200.7,274.2 201.0,277.0 C201.3,279.8 204.8,284.3 207.0,285.0 C209.2,285.7 213.0,283.0 214.0,281.0 C215.0,279.0 214.5,275.2 213.0,273.0 C211.5,270.8 206.3,268.8 205.0,268.0" fill="none" stroke="#eba3a3" stroke-width="1.8" stroke-linecap="round" stroke-linejoin="round"/>
<path d="M212.0,283.0 C213.3,282.7 217.2,281.8 220.0,281.0 C222.8,280.2 225.7,278.0 229.0,278.0 C232.3,278.0 236.8,280.2 240.0,281.0 C243.2,281.8 246.7,282.7 248.0,283.0" fill="none" stroke="#b86e6e" stroke-width="2.8" stroke-linecap="round" stroke-linejoin="round"/>
<path d="M212.0,283.0 C213.3,282.7 217.2,281.8 220.0,281.0 C222.8,280.2 225.7,278.0 229.0,278.0 C232.3,278.0 236.8,280.2 240.0,281.0 C243.2,281.8 246.7,282.7 248.0,283.0" fill="none" stroke="#eba3a3" stroke-width="1.8" stroke-linecap="round" stroke-linejoin="round"/>
<path d="M199.0,296.0 C199.3,297.7 199.8,303.0 201.0,306.0 C202.2,309.0 204.0,312.0 206.0,314.0 C208.0,316.0 211.3,318.5 213.0,318.0 C214.7,317.5 216.2,313.0 216.0,311.0 C215.8,309.0 211.3,307.5 212.0,306.0 C212.7,304.5 216.7,302.8 220.0,302.0 C223.3,301.2 230.0,301.2 232.0,301.0" fill="none" stroke="#b86e6e" stroke-width="2.8" stroke-linecap="round" stroke-linejoin="round"/>
<path d="M199.0,296.0 C199.3,297.7 199.8,303.0 201.0,306.0 C202.2,309.0 204.0,312.0 206.0,314.0 C208.0,316.0 211.3,318.5 213.0,318.0 C214.7,317.5 216.2,313.0 216.0,311.0 C215.8,309.0 211.3,307.5 212.0,306.0 C212.7,304.5 216.7,302.8 220.0,302.0 C223.3,301.2 230.0,301.2 232.0,301.0" fill="none" stroke="#eba3a3" stroke-width="1.8" stroke-linecap="round" stroke-linejoin="round"/>
<defs><linearGradient id="g120" gradientUnits="userSpaceOnUse" x1="238.5" y1="319.7" x2="233.5" y2="316.3"><stop offset="0" stop-color="#f0b0b0"/><stop offset="1" stop-color="#cc8080"/></linearGradient></defs>
<polygon points="238.5,319.7 258.5,290.7 253.5,287.3 233.5,316.3" fill="url(#g120)" stroke="#b86e6e" stroke-width="0.7" stroke-linejoin="round"/>
<defs><linearGradient id="g122" gradientUnits="userSpaceOnUse" x1="252.3" y1="298.9" x2="253.7" y2="291.1"><stop offset="0" stop-color="#f2b8b8"/><stop offset="1" stop-color="#d08686"/></linearGradient></defs>
<polygon points="252.3,298.9 309.4,309.5 309.0,311.8 318.2,307.0 311.3,299.3 310.9,301.6 253.7,291.1" fill="url(#g122)" stroke="#b86e6e" stroke-width="0.7" stroke-linejoin="round"/>
<defs><linearGradient id="g124" gradientUnits="userSpaceOnUse" x1="226.5" y1="282.7" x2="227.5" y2="275.3"><stop offset="0" stop-color="#f4bcbc"/><stop offset="1" stop-color="#cf8585"/></linearGradient></defs>
<polygon points="226.5,282.7 310.0,294.7 309.7,296.9 318.2,292.0 311.4,285.0 311.1,287.2 227.5,275.3" fill="url(#g124)" stroke="#b86e6e" stroke-width="0.7" stroke-linejoin="round"/>
<defs><linearGradient id="g126" gradientUnits="userSpaceOnUse" x1="235.9" y1="303.5" x2="232.1" y2="296.5"><stop offset="0" stop-color="#e09a9a"/><stop offset="1" stop-color="#c27a7a"/></linearGradient></defs>
<polygon points="235.9,303.5 278.9,280.5 275.1,273.5 232.1,296.5" fill="url(#g126)" stroke="#b86e6e" stroke-width="0.7" stroke-linejoin="round"/>
<polygon points="248.9,288.8 234.9,295.8 237.1,300.2 251.1,293.2" fill="#eba3a3" stroke="#b86e6e" stroke-width="0.7" stroke-linejoin="round"/>
<defs><linearGradient id="g129" gradientUnits="userSpaceOnUse" x1="247.8" y1="239.1" x2="252.2" y2="236.9"><stop offset="0" stop-color="#f0b0b0"/><stop offset="1" stop-color="#c88080"/></linearGradient></defs>
<polygon points="247.8,239.1 263.8,272.1 268.2,269.9 252.2,236.9" fill="url(#g129)" stroke="#b86e6e" stroke-width="0.7" stroke-linejoin="round"/>
<defs><linearGradient id="g131" gradientUnits="userSpaceOnUse" x1="263.4" y1="285.6" x2="260.6" y2="280.4"><stop offset="0" stop-color="#f4bcbc"/><stop offset="1" stop-color="#d08888"/></linearGradient></defs>
<polygon points="263.4,285.6 292.4,269.6 289.6,264.4 260.6,280.4" fill="url(#g131)" stroke="#b86e6e" stroke-width="0.7" stroke-linejoin="round"/>
<polygon points="295.1,273.7 303.1,249.7 298.9,248.3 290.9,272.3" fill="#eba3a3" stroke="#b86e6e" stroke-width="0.7" stroke-linejoin="round"/>
<path d="M266.0,249.0 C267.0,248.3 269.5,245.8 272.0,245.0 C274.5,244.2 278.7,243.5 281.0,244.0 C283.3,244.5 285.2,247.3 286.0,248.0" fill="none" stroke="#b86e6e" stroke-width="2.6" stroke-linecap="round" stroke-linejoin="round"/>
<path d="M266.0,249.0 C267.0,248.3 269.5,245.8 272.0,245.0 C274.5,244.2 278.7,243.5 281.0,244.0 C283.3,244.5 285.2,247.3 286.0,248.0" fill="none" stroke="#eba3a3" stroke-width="1.6" stroke-linecap="round" stroke-linejoin="round"/>
<path d="M300.0,262.0 C301.3,263.7 305.3,269.7 308.0,272.0 C310.7,274.3 314.7,275.3 316.0,276.0" fill="none" stroke="#b86e6e" stroke-width="2.6" stroke-linecap="round" stroke-linejoin="round"/>
<path d="M300.0,262.0 C301.3,263.7 305.3,269.7 308.0,272.0 C310.7,274.3 314.7,275.3 316.0,276.0" fill="none" stroke="#eba3a3" stroke-width="1.6" stroke-linecap="round" stroke-linejoin="round"/>
<path d="M262,300 Q269,296 277,300 L277,320 Q269,323 262,319 Z" fill="#ebacac" stroke="#b86e6e" stroke-width="0.7"/>
<path d="M266,301 L266,319" stroke="#f8d4d4" stroke-width="2.5"/>
<path d="M270,321 Q272,309 286,308 Q300,309 303,321 Z" fill="#e8a6a6" stroke="#b86e6e" stroke-width="0.7"/>
<path d="M278,319 Q282,312 292,312" fill="none" stroke="#f8d4d4" stroke-width="2"/>
<path d="M212.78,211.5h1.45M217.78,206.5h1.45M214.78,213.5h1.45M218.78,208.5h1.45M220.78,206.5h1.45M222.78,204.5h1.45M218.78,211.5h1.45M222.78,208.5h1.45M223.78,206.5h1.45M225.78,204.5h1.45M218.78,214.5h1.45M220.78,213.5h1.45M223.78,209.5h1.45M217.78,219.5h1.45M220.78,216.5h1.45M222.78,214.5h1.45M217.78,223.5h1.45M220.78,219.5h1.45M228.78,211.5h1.45M230.78,209.5h1.45M215.78,227.5h1.45M218.78,224.5h1.45M215.78,231.5h1.45M217.78,229.5h1.45M220.78,226.5h1.45M233.78,213.5h1.45M213.78,236.5h1.45M215.78,234.5h1.45M217.78,232.5h1.45M218.78,231.5h1.45M227.78,222.5h1.45M235.78,214.5h1.45M240.78,209.5h1.45M245.78,204.5h1.45M212.78,241.5h1.45M213.78,239.5h1.45M217.78,236.5h1.45M218.78,234.5h1.45M220.78,232.5h1.45M223.78,229.5h1.45M246.78,206.5h1.45M208.78,247.5h1.45M213.78,242.5h1.45M217.78,239.5h1.45M230.78,226.5h1.45M243.78,212.5h1.45M210.78,249.5h1.45M212.78,247.5h1.45M215.78,244.5h1.45M218.78,240.5h1.45M231.78,227.5h1.45M245.78,214.5h1.45M205.78,257.5h1.45M210.78,252.5h1.45M213.78,249.5h1.45M216.78,245.5h1.45M220.78,242.5h1.45M246.78,216.5h1.45M205.78,260.5h1.45M207.78,259.5h1.45M210.78,255.5h1.45M212.78,254.5h1.45M215.78,250.5h1.45M221.78,244.5h1.45M223.78,242.5h1.45M248.78,217.5h1.45M207.78,262.5h1.45M208.78,260.5h1.45M210.78,259.5h1.45M211.78,257.5h1.45M213.78,255.5h1.45M225.78,244.5h1.45M236.78,232.5h1.45M207.78,265.5h1.45M208.78,263.5h1.45M210.78,262.5h1.45M215.78,257.5h1.45M216.78,255.5h1.45M220.78,252.5h1.45M221.78,250.5h1.45M210.78,265.5h1.45M211.78,263.5h1.45M216.78,258.5h1.45M218.78,257.5h1.45M211.78,267.5h1.45M213.78,265.5h1.45M218.78,260.5h1.45M215.78,267.5h1.45M216.78,268.5h1.45M218.78,267.5h1.45M220.78,265.5h1.45M244.78,244.5h1.45M254.78,234.5h1.45M246.78,245.5h1.45M256.77,235.5h1.45M248.78,247.5h1.45M257.77,237.5h1.45M251.78,250.5h1.45M249.78,255.5h1.45M251.78,257.5h1.45M252.78,258.5h1.45M254.78,260.5h1.45M256.77,261.5h1.45M259.77,261.5h1.45M260.77,263.5h1.45M262.77,265.5h1.45M264.77,266.5h1.45M265.77,268.5h1.45M269.77,268.5h1.45" stroke="#2ee01a" stroke-width="1.45" fill="none"/>
<path d="M214.78,209.5h1.45M210.78,216.5h1.45M212.78,214.5h1.45M210.78,219.5h1.45M212.78,218.5h1.45M210.78,223.5h1.45M213.78,219.5h1.45M210.78,226.5h1.45M212.78,224.5h1.45M215.78,221.5h1.45M230.78,206.5h1.45M232.78,204.5h1.45M215.78,224.5h1.45M235.78,204.5h1.45M207.78,236.5h1.45M208.78,234.5h1.45M212.78,231.5h1.45M236.78,206.5h1.45M207.78,239.5h1.45M208.78,237.5h1.45M213.78,232.5h1.45M238.78,208.5h1.45M205.78,244.5h1.45M207.78,242.5h1.45M207.78,245.5h1.45M231.78,221.5h1.45M205.78,250.5h1.45M205.78,254.5h1.45M231.78,240.5h1.45M233.78,242.5h1.45M234.78,244.5h1.45M236.78,245.5h1.45M238.78,247.5h1.45M225.78,263.5h1.45M231.78,257.5h1.45M249.78,239.5h1.45M226.78,265.5h1.45M233.78,258.5h1.45M251.78,240.5h1.45M228.78,267.5h1.45M234.78,260.5h1.45M252.78,242.5h1.45M236.78,262.5h1.45M254.78,243.5h1.45M259.77,238.5h1.45M231.78,270.5h1.45M238.78,263.5h1.45M256.77,245.5h1.45M261.77,240.5h1.45M239.78,265.5h1.45M241.78,263.5h1.45M254.78,250.5h1.45M261.77,243.5h1.45M241.78,266.5h1.45M256.77,252.5h1.45M262.77,245.5h1.45M242.78,268.5h1.45M244.78,266.5h1.45M257.77,253.5h1.45M244.78,270.5h1.45M259.77,255.5h1.45M246.78,271.5h1.45M247.78,270.5h1.45M261.77,256.5h1.45M262.77,258.5h1.45M264.77,256.5h1.45M264.77,260.5h1.45M265.77,258.5h1.45M265.77,261.5h1.45M267.77,260.5h1.45M267.77,263.5h1.45M269.77,261.5h1.45M269.77,265.5h1.45" stroke="#1a2cff" stroke-width="1.45" fill="none"/>
<path d="M215.78,208.5h1.45M219.78,205.5h1.45M215.78,211.5h1.45M213.78,216.5h1.45M217.78,213.5h1.45M220.78,209.5h1.45M212.78,221.5h1.45M222.78,211.5h1.45M208.78,227.5h1.45M223.78,213.5h1.45M210.78,229.5h1.45M212.78,227.5h1.45M213.78,226.5h1.45M218.78,221.5h1.45M222.78,218.5h1.45M210.78,232.5h1.45M213.78,229.5h1.45M217.78,226.5h1.45M220.78,222.5h1.45M210.78,236.5h1.45M212.78,234.5h1.45M208.78,241.5h1.45M210.78,239.5h1.45M212.78,237.5h1.45M208.78,244.5h1.45M210.78,242.5h1.45M210.78,245.5h1.45M218.78,237.5h1.45M226.78,229.5h1.45M207.78,252.5h1.45M208.78,250.5h1.45M228.78,231.5h1.45M207.78,255.5h1.45M208.78,254.5h1.45M212.78,250.5h1.45M238.78,224.5h1.45M208.78,257.5h1.45M213.78,252.5h1.45M231.78,234.5h1.45M205.78,263.5h1.45M215.78,254.5h1.45M211.78,260.5h1.45M213.78,259.5h1.45M213.78,262.5h1.45M238.78,250.5h1.45M241.78,253.5h1.45M243.78,255.5h1.45M244.78,257.5h1.45M251.78,253.5h1.45M252.78,255.5h1.45M254.78,256.5h1.45M256.77,258.5h1.45M257.77,260.5h1.45M254.78,266.5h1.45M256.77,268.5h1.45M257.77,270.5h1.45M259.77,271.5h1.45M260.77,273.5h1.45" stroke="#18e0e8" stroke-width="1.45" fill="none"/>
<path d="M217.78,216.5h1.45M225.78,208.5h1.45M227.78,206.5h1.45M218.78,218.5h1.45M225.78,211.5h1.45M227.78,209.5h1.45M228.78,208.5h1.45M223.78,216.5h1.45M227.78,213.5h1.45M222.78,221.5h1.45M222.78,224.5h1.45M223.78,222.5h1.45M223.78,226.5h1.45M222.78,231.5h1.45M212.78,244.5h1.45M215.78,241.5h1.45M220.78,236.5h1.45M222.78,234.5h1.45M223.78,232.5h1.45M213.78,245.5h1.45M217.78,242.5h1.45M220.78,239.5h1.45M221.78,237.5h1.45M223.78,236.5h1.45M215.78,247.5h1.45M221.78,240.5h1.45M223.78,239.5h1.45M225.78,237.5h1.45M226.78,235.5h1.45M216.78,249.5h1.45M218.78,247.5h1.45M225.78,240.5h1.45M226.78,239.5h1.45M220.78,249.5h1.45M226.78,242.5h1.45M228.78,240.5h1.45M230.78,239.5h1.45M218.78,254.5h1.45M230.78,242.5h1.45M249.78,222.5h1.45M208.78,267.5h1.45M220.78,255.5h1.45M231.78,244.5h1.45M251.78,224.5h1.45M215.78,263.5h1.45M216.78,262.5h1.45M233.78,245.5h1.45M253.78,225.5h1.45M216.78,265.5h1.45M218.78,263.5h1.45M234.78,247.5h1.45M254.78,227.5h1.45M236.78,248.5h1.45M256.77,229.5h1.45M236.78,252.5h1.45M239.78,248.5h1.45M241.78,247.5h1.45M224.78,267.5h1.45M238.78,253.5h1.45M243.78,248.5h1.45M226.78,268.5h1.45M239.78,255.5h1.45M243.78,252.5h1.45M244.78,250.5h1.45M241.78,257.5h1.45M246.78,252.5h1.45M229.78,271.5h1.45M243.78,258.5h1.45M246.78,255.5h1.45M247.78,253.5h1.45M233.78,271.5h1.45M236.78,268.5h1.45M234.78,273.5h1.45M238.78,270.5h1.45M239.78,271.5h1.45M241.78,273.5h1.45M242.78,275.5h1.45M256.77,265.5h1.45M261.77,260.5h1.45M257.77,266.5h1.45M262.77,261.5h1.45M259.77,268.5h1.45M264.77,263.5h1.45M260.77,270.5h1.45M265.77,265.5h1.45M262.77,271.5h1.45" stroke="#f0e000" stroke-width="1.45" fill="none"/>
<path d="M228.78,204.5h1.45M232.78,208.5h1.45M233.78,206.5h1.45M233.78,209.5h1.45M235.78,208.5h1.45M235.78,211.5h1.45M236.78,209.5h1.45M236.78,213.5h1.45M238.78,211.5h1.45M226.78,226.5h1.45M238.78,214.5h1.45M248.78,204.5h1.45M228.78,227.5h1.45M240.78,216.5h1.45M246.78,209.5h1.45M250.78,206.5h1.45M230.78,229.5h1.45M248.78,211.5h1.45M251.78,207.5h1.45M218.78,244.5h1.45M231.78,231.5h1.45M249.78,212.5h1.45M253.78,209.5h1.45M220.78,245.5h1.45M233.78,232.5h1.45M245.78,221.5h1.45M251.78,214.5h1.45M254.78,211.5h1.45M218.78,250.5h1.45M221.78,247.5h1.45M253.78,216.5h1.45M223.78,249.5h1.45M226.78,245.5h1.45M228.78,244.5h1.45M238.78,234.5h1.45M243.78,229.5h1.45M251.78,221.5h1.45M225.78,250.5h1.45M228.78,247.5h1.45M230.78,245.5h1.45M238.78,237.5h1.45M253.78,222.5h1.45M221.78,257.5h1.45M226.78,252.5h1.45M230.78,249.5h1.45M231.78,247.5h1.45M239.78,239.5h1.45M254.78,224.5h1.45M223.78,258.5h1.45M228.78,253.5h1.45M231.78,250.5h1.45M241.78,240.5h1.45M243.78,239.5h1.45M256.77,225.5h1.45M225.78,260.5h1.45M229.78,255.5h1.45M233.78,252.5h1.45M243.78,242.5h1.45M244.78,240.5h1.45M258.77,227.5h1.45M220.78,268.5h1.45M246.78,242.5h1.45M221.78,270.5h1.45M234.78,257.5h1.45M248.78,243.5h1.45M223.78,271.5h1.45M236.78,258.5h1.45M249.78,245.5h1.45M256.77,238.5h1.45M238.78,260.5h1.45M251.78,247.5h1.45M257.77,240.5h1.45M239.78,262.5h1.45M252.78,248.5h1.45M259.77,242.5h1.45M243.78,262.5h1.45M247.78,257.5h1.45M256.77,248.5h1.45M259.77,245.5h1.45M244.78,263.5h1.45M249.78,258.5h1.45M257.77,250.5h1.45M261.77,247.5h1.45M246.78,265.5h1.45M251.78,260.5h1.45M259.77,252.5h1.45M262.77,248.5h1.45M247.78,266.5h1.45M252.78,261.5h1.45M261.77,253.5h1.45M264.77,250.5h1.45M249.78,268.5h1.45M254.78,263.5h1.45M262.77,255.5h1.45M265.77,251.5h1.45M246.78,275.5h1.45M257.77,263.5h1.45M252.78,271.5h1.45M259.77,265.5h1.45M254.78,273.5h1.45M260.77,266.5h1.45M255.78,274.5h1.45M262.77,268.5h1.45M257.77,276.5h1.45M264.77,269.5h1.45M262.77,274.5h1.45M264.77,273.5h1.45M265.77,271.5h1.45M264.77,276.5h1.45M265.77,274.5h1.45M267.77,273.5h1.45" stroke="#ff7a00" stroke-width="1.45" fill="none"/>
<path d="M230.78,213.5h1.45M240.78,206.5h1.45M241.78,204.5h1.45M241.78,208.5h1.45M243.78,206.5h1.45M235.78,217.5h1.45M240.78,212.5h1.45M243.78,209.5h1.45M245.78,208.5h1.45M225.78,231.5h1.45M233.78,222.5h1.45M241.78,214.5h1.45M245.78,211.5h1.45M226.78,232.5h1.45M233.78,226.5h1.45M235.78,224.5h1.45M240.78,219.5h1.45M243.78,216.5h1.45M246.78,212.5h1.45M250.78,209.5h1.45M235.78,227.5h1.45M236.78,226.5h1.45M245.78,217.5h1.45M248.78,214.5h1.45M251.78,211.5h1.45M230.78,235.5h1.45M238.78,227.5h1.45M246.78,219.5h1.45M249.78,216.5h1.45M253.78,212.5h1.45M223.78,245.5h1.45M231.78,237.5h1.45M238.78,230.5h1.45M240.78,229.5h1.45M243.78,226.5h1.45M244.78,224.5h1.45M251.78,217.5h1.45M254.78,214.5h1.45M225.78,247.5h1.45M246.78,226.5h1.45M253.78,219.5h1.45M254.78,217.5h1.45M256.77,216.5h1.45M221.78,254.5h1.45M223.78,252.5h1.45M226.78,249.5h1.45M236.78,239.5h1.45M241.78,234.5h1.45M243.78,232.5h1.45M246.78,229.5h1.45M248.78,227.5h1.45M249.78,225.5h1.45M254.78,221.5h1.45M256.77,219.5h1.45M220.78,258.5h1.45M223.78,255.5h1.45M228.78,250.5h1.45M236.78,242.5h1.45M238.78,240.5h1.45M243.78,235.5h1.45M249.78,229.5h1.45M251.78,227.5h1.45M256.77,222.5h1.45M220.78,262.5h1.45M221.78,260.5h1.45M225.78,257.5h1.45M226.78,255.5h1.45M230.78,252.5h1.45M238.78,244.5h1.45M239.78,242.5h1.45M244.78,237.5h1.45M251.78,230.5h1.45M253.78,229.5h1.45M258.77,224.5h1.45M221.78,263.5h1.45M223.78,262.5h1.45M226.78,258.5h1.45M228.78,257.5h1.45M231.78,253.5h1.45M239.78,245.5h1.45M241.78,244.5h1.45M246.78,239.5h1.45M251.78,234.5h1.45M253.78,232.5h1.45M254.78,230.5h1.45M221.78,267.5h1.45M226.78,262.5h1.45M228.78,260.5h1.45M229.78,258.5h1.45M234.78,253.5h1.45M243.78,245.5h1.45M248.78,240.5h1.45M251.78,237.5h1.45M253.78,235.5h1.45M256.77,232.5h1.45M258.77,230.5h1.45M223.78,268.5h1.45M228.78,263.5h1.45M231.78,260.5h1.45M236.78,255.5h1.45M244.78,247.5h1.45M253.78,239.5h1.45M254.78,237.5h1.45M257.77,234.5h1.45M259.77,232.5h1.45M224.78,270.5h1.45M229.78,265.5h1.45M231.78,263.5h1.45M233.78,262.5h1.45M238.78,257.5h1.45M246.78,248.5h1.45M251.78,243.5h1.45M254.78,240.5h1.45M259.77,235.5h1.45M226.78,271.5h1.45M231.78,267.5h1.45M233.78,265.5h1.45M234.78,263.5h1.45M239.78,258.5h1.45M248.78,250.5h1.45M256.77,242.5h1.45M233.78,268.5h1.45M234.78,266.5h1.45M236.78,265.5h1.45M241.78,260.5h1.45M249.78,252.5h1.45M254.78,247.5h1.45M257.77,243.5h1.45M231.78,273.5h1.45M234.78,270.5h1.45M238.78,266.5h1.45M244.78,260.5h1.45M246.78,258.5h1.45M252.78,252.5h1.45M257.77,247.5h1.45M236.78,271.5h1.45M239.78,268.5h1.45M246.78,261.5h1.45M247.78,260.5h1.45M254.78,253.5h1.45M259.77,248.5h1.45M241.78,270.5h1.45M247.78,263.5h1.45M249.78,261.5h1.45M256.77,255.5h1.45M261.77,250.5h1.45M239.78,275.5h1.45M242.78,271.5h1.45M249.78,265.5h1.45M257.77,256.5h1.45M262.77,252.5h1.45M251.78,266.5h1.45M252.78,265.5h1.45M259.77,258.5h1.45M264.77,253.5h1.45M247.78,273.5h1.45M249.78,271.5h1.45M252.78,268.5h1.45M265.77,255.5h1.45M249.78,275.5h1.45M251.78,273.5h1.45M254.78,270.5h1.45M267.77,256.5h1.45M252.78,274.5h1.45M255.78,271.5h1.45M269.77,258.5h1.45M257.77,273.5h1.45M259.77,274.5h1.45M260.77,276.5h1.45M267.77,269.5h1.45" stroke="#ff1a0a" stroke-width="1.45" fill="none"/>
<path d="M252.88,205.5h1.25M258.88,205.5h1.25M289.88,205.5h1.25M256.88,206.5h1.25M258.88,207.5h1.25M267.88,207.5h1.25M278.88,207.5h1.25M276.88,208.5h1.25M267.88,210.5h1.25M276.88,210.5h1.25M280.88,210.5h1.25M289.88,210.5h1.25M282.88,212.5h1.25M282.88,214.5h1.25M276.88,216.5h1.25M267.88,218.5h1.25M282.88,218.5h1.25M265.88,220.5h1.25M267.88,220.5h1.25M260.88,221.5h1.25M287.88,221.5h1.25M287.88,223.5h1.25M269.88,231.5h1.25M276.88,231.5h1.25M287.88,232.5h1.25M269.88,236.5h1.25M274.88,236.5h1.25M269.88,240.5h1.25M282.88,240.5h1.25" stroke="#ff7a00" stroke-width="1.25" fill="none"/>
<path d="M254.88,205.5h1.25M256.88,205.5h1.25M260.88,205.5h1.25M265.88,205.5h1.25M267.88,205.5h1.25M269.88,205.5h1.25M271.88,205.5h1.25M274.88,205.5h1.25M276.88,205.5h1.25M278.88,205.5h1.25M280.88,205.5h1.25M282.88,205.5h1.25M287.88,205.5h1.25M254.88,206.5h1.25M258.88,206.5h1.25M260.88,206.5h1.25M265.88,206.5h1.25M267.88,206.5h1.25M271.88,206.5h1.25M274.88,206.5h1.25M276.88,206.5h1.25M278.88,206.5h1.25M282.88,206.5h1.25M285.88,206.5h1.25M287.88,206.5h1.25M289.88,206.5h1.25M254.88,207.5h1.25M256.88,207.5h1.25M263.88,207.5h1.25M265.88,207.5h1.25M269.88,207.5h1.25M271.88,207.5h1.25M274.88,207.5h1.25M276.88,207.5h1.25M280.88,207.5h1.25M282.88,207.5h1.25M285.88,207.5h1.25M289.88,207.5h1.25M254.88,208.5h1.25M256.88,208.5h1.25M258.88,208.5h1.25M260.88,208.5h1.25M263.88,208.5h1.25M265.88,208.5h1.25M267.88,208.5h1.25M269.88,208.5h1.25M271.88,208.5h1.25M274.88,208.5h1.25M278.88,208.5h1.25M280.88,208.5h1.25M282.88,208.5h1.25M285.88,208.5h1.25M287.88,208.5h1.25M289.88,208.5h1.25M254.88,210.5h1.25M256.88,210.5h1.25M260.88,210.5h1.25M263.88,210.5h1.25M265.88,210.5h1.25M269.88,210.5h1.25M271.88,210.5h1.25M282.88,210.5h1.25M256.88,211.5h1.25M258.88,211.5h1.25M260.88,211.5h1.25M265.88,211.5h1.25M267.88,211.5h1.25M269.88,211.5h1.25M271.88,211.5h1.25M274.88,211.5h1.25M276.88,211.5h1.25M282.88,211.5h1.25M287.88,211.5h1.25M289.88,211.5h1.25M256.88,212.5h1.25M258.88,212.5h1.25M260.88,212.5h1.25M263.88,212.5h1.25M269.88,212.5h1.25M271.88,212.5h1.25M274.88,212.5h1.25M276.88,212.5h1.25M278.88,212.5h1.25M285.88,212.5h1.25M289.88,212.5h1.25M256.88,214.5h1.25M258.88,214.5h1.25M263.88,214.5h1.25M267.88,214.5h1.25M271.88,214.5h1.25M276.88,214.5h1.25M278.88,214.5h1.25M280.88,214.5h1.25M287.88,214.5h1.25M289.88,214.5h1.25M256.88,215.5h1.25M258.88,215.5h1.25M260.88,215.5h1.25M263.88,215.5h1.25M265.88,215.5h1.25M267.88,215.5h1.25M269.88,215.5h1.25M271.88,215.5h1.25M274.88,215.5h1.25M280.88,215.5h1.25M285.88,215.5h1.25M289.88,215.5h1.25M258.88,216.5h1.25M260.88,216.5h1.25M265.88,216.5h1.25M267.88,216.5h1.25M269.88,216.5h1.25M271.88,216.5h1.25M278.88,216.5h1.25M280.88,216.5h1.25M282.88,216.5h1.25M287.88,216.5h1.25M289.88,216.5h1.25M260.88,218.5h1.25M263.88,218.5h1.25M265.88,218.5h1.25M269.88,218.5h1.25M271.88,218.5h1.25M274.88,218.5h1.25M276.88,218.5h1.25M278.88,218.5h1.25M280.88,218.5h1.25M285.88,218.5h1.25M287.88,218.5h1.25M258.88,219.5h1.25M260.88,219.5h1.25M263.88,219.5h1.25M267.88,219.5h1.25M269.88,219.5h1.25M271.88,219.5h1.25M274.88,219.5h1.25M276.88,219.5h1.25M278.88,219.5h1.25M280.88,219.5h1.25M285.88,219.5h1.25M289.88,219.5h1.25M258.88,220.5h1.25M260.88,220.5h1.25M263.88,220.5h1.25M269.88,220.5h1.25M271.88,220.5h1.25M274.88,220.5h1.25M276.88,220.5h1.25M278.88,220.5h1.25M282.88,220.5h1.25M285.88,220.5h1.25M287.88,220.5h1.25M289.88,220.5h1.25M258.88,221.5h1.25M263.88,221.5h1.25M265.88,221.5h1.25M267.88,221.5h1.25M269.88,221.5h1.25M271.88,221.5h1.25M274.88,221.5h1.25M276.88,221.5h1.25M280.88,221.5h1.25M282.88,221.5h1.25M285.88,221.5h1.25M289.88,221.5h1.25M258.88,223.5h1.25M260.88,223.5h1.25M263.88,223.5h1.25M265.88,223.5h1.25M267.88,223.5h1.25M269.88,223.5h1.25M271.88,223.5h1.25M274.88,223.5h1.25M278.88,223.5h1.25M280.88,223.5h1.25M285.88,223.5h1.25M289.88,223.5h1.25M263.88,224.5h1.25M265.88,224.5h1.25M269.88,224.5h1.25M274.88,224.5h1.25M276.88,224.5h1.25M278.88,224.5h1.25M280.88,224.5h1.25M282.88,224.5h1.25M285.88,224.5h1.25M287.88,224.5h1.25M289.88,224.5h1.25M260.88,225.5h1.25M265.88,225.5h1.25M267.88,225.5h1.25M269.88,225.5h1.25M274.88,225.5h1.25M276.88,225.5h1.25M278.88,225.5h1.25M280.88,225.5h1.25M282.88,225.5h1.25M285.88,225.5h1.25M289.88,225.5h1.25M260.88,227.5h1.25M263.88,227.5h1.25M267.88,227.5h1.25M269.88,227.5h1.25M271.88,227.5h1.25M274.88,227.5h1.25M276.88,227.5h1.25M280.88,227.5h1.25M282.88,227.5h1.25M285.88,227.5h1.25M289.88,227.5h1.25M263.88,228.5h1.25M265.88,228.5h1.25M267.88,228.5h1.25M269.88,228.5h1.25M274.88,228.5h1.25M276.88,228.5h1.25M278.88,228.5h1.25M280.88,228.5h1.25M282.88,228.5h1.25M285.88,228.5h1.25M289.88,228.5h1.25M260.88,229.5h1.25M263.88,229.5h1.25M265.88,229.5h1.25M269.88,229.5h1.25M271.88,229.5h1.25M274.88,229.5h1.25M276.88,229.5h1.25M278.88,229.5h1.25M282.88,229.5h1.25M285.88,229.5h1.25M287.88,229.5h1.25M289.88,229.5h1.25M263.88,231.5h1.25M271.88,231.5h1.25M274.88,231.5h1.25M280.88,231.5h1.25M282.88,231.5h1.25M285.88,231.5h1.25M289.88,231.5h1.25M263.88,232.5h1.25M265.88,232.5h1.25M267.88,232.5h1.25M269.88,232.5h1.25M274.88,232.5h1.25M276.88,232.5h1.25M278.88,232.5h1.25M280.88,232.5h1.25M285.88,232.5h1.25M289.88,232.5h1.25M265.88,233.5h1.25M267.88,233.5h1.25M269.88,233.5h1.25M271.88,233.5h1.25M274.88,233.5h1.25M276.88,233.5h1.25M278.88,233.5h1.25M280.88,233.5h1.25M282.88,233.5h1.25M285.88,233.5h1.25M289.88,233.5h1.25M265.88,234.5h1.25M267.88,234.5h1.25M271.88,234.5h1.25M274.88,234.5h1.25M278.88,234.5h1.25M280.88,234.5h1.25M282.88,234.5h1.25M285.88,234.5h1.25M287.88,234.5h1.25M289.88,234.5h1.25M265.88,236.5h1.25M267.88,236.5h1.25M271.88,236.5h1.25M276.88,236.5h1.25M278.88,236.5h1.25M280.88,236.5h1.25M282.88,236.5h1.25M285.88,236.5h1.25M287.88,236.5h1.25M289.88,236.5h1.25M265.88,237.5h1.25M267.88,237.5h1.25M269.88,237.5h1.25M274.88,237.5h1.25M276.88,237.5h1.25M278.88,237.5h1.25M280.88,237.5h1.25M282.88,237.5h1.25M285.88,237.5h1.25M287.88,237.5h1.25M267.88,238.5h1.25M269.88,238.5h1.25M271.88,238.5h1.25M274.88,238.5h1.25M278.88,238.5h1.25M280.88,238.5h1.25M282.88,238.5h1.25M289.88,238.5h1.25M267.88,240.5h1.25M274.88,240.5h1.25M276.88,240.5h1.25M278.88,240.5h1.25M280.88,240.5h1.25M285.88,240.5h1.25M287.88,240.5h1.25M289.88,240.5h1.25M267.88,241.5h1.25M269.88,241.5h1.25M271.88,241.5h1.25M274.88,241.5h1.25M278.88,241.5h1.25M280.88,241.5h1.25M282.88,241.5h1.25M285.88,241.5h1.25M287.88,241.5h1.25M269.88,242.5h1.25M271.88,242.5h1.25M274.88,242.5h1.25M276.88,242.5h1.25M278.88,242.5h1.25M282.88,242.5h1.25M287.88,242.5h1.25M289.88,242.5h1.25M269.88,244.5h1.25M271.88,244.5h1.25M274.88,244.5h1.25M276.88,244.5h1.25M280.88,244.5h1.25M282.88,244.5h1.25M285.88,244.5h1.25M287.88,244.5h1.25M289.88,244.5h1.25M276.88,245.5h1.25M278.88,245.5h1.25M280.88,245.5h1.25M282.88,245.5h1.25M285.88,245.5h1.25M287.88,245.5h1.25M289.88,245.5h1.25M280.88,246.5h1.25M282.88,246.5h1.25M285.88,246.5h1.25M287.88,246.5h1.25M289.88,246.5h1.25" stroke="#ff1a0a" stroke-width="1.25" fill="none"/>
<path d="M263.88,206.5h1.25M260.88,207.5h1.25M274.88,210.5h1.25M267.88,212.5h1.25M280.88,212.5h1.25M278.88,215.5h1.25M267.88,229.5h1.25M287.88,233.5h1.25M271.88,240.5h1.25M278.88,244.5h1.25" stroke="#f0e000" stroke-width="1.25" fill="none"/>
<path d="M287.88,207.5h1.25M269.88,214.5h1.25M274.88,214.5h1.25M282.88,215.5h1.25M258.88,218.5h1.25M282.88,219.5h1.25M287.88,225.5h1.25" stroke="#2ee01a" stroke-width="1.25" fill="none"/>
<path d="M287.88,210.5h1.25M285.88,216.5h1.25M271.88,228.5h1.25M260.88,231.5h1.25M276.88,234.5h1.25M280.88,242.5h1.25" stroke="#1a2cff" stroke-width="1.25" fill="none"/>
<path d="M291.85,205.5h1.30M291.85,207.5h1.30M292.85,208.5h1.30M291.85,210.5h1.30M296.85,205.5h1.30M295.85,207.5h1.30M293.85,209.5h1.30M292.85,211.5h1.30M291.85,213.5h1.30M298.85,204.5h1.30M297.85,206.5h1.30M296.85,208.5h1.30M294.85,211.5h1.30M293.85,213.5h1.30M292.85,215.5h1.30M298.85,207.5h1.30M297.85,208.5h1.30M295.85,212.5h1.30M294.85,214.5h1.30M293.85,216.5h1.30M292.85,218.5h1.30M291.85,220.5h1.30M301.85,205.5h1.30M300.85,207.5h1.30M299.85,209.5h1.30M298.85,211.5h1.30M295.85,215.5h1.30M294.85,217.5h1.30M293.85,219.5h1.30M291.85,222.5h1.30M303.85,204.5h1.30M302.85,206.5h1.30M301.85,208.5h1.30M300.85,210.5h1.30M299.85,212.5h1.30M298.85,214.5h1.30M296.85,218.5h1.30M294.85,219.5h1.30M293.85,221.5h1.30M292.85,223.5h1.30M291.85,225.5h1.30M305.85,205.5h1.30M304.85,207.5h1.30M302.85,209.5h1.30M301.85,211.5h1.30M300.85,213.5h1.30M299.85,215.5h1.30M297.85,218.5h1.30M296.85,220.5h1.30M295.85,222.5h1.30M294.85,224.5h1.30M293.85,226.5h1.30M291.85,228.5h1.30M305.85,208.5h1.30M304.85,210.5h1.30M303.85,212.5h1.30M300.85,215.5h1.30M299.85,217.5h1.30M297.85,221.5h1.30M296.85,223.5h1.30M295.85,225.5h1.30M294.85,227.5h1.30M293.85,229.5h1.30M292.85,231.5h1.30M291.85,232.5h1.30M306.85,209.5h1.30M305.85,210.5h1.30M304.85,212.5h1.30M303.85,214.5h1.30M302.85,216.5h1.30M301.85,218.5h1.30M300.85,220.5h1.30M299.85,222.5h1.30M297.85,224.5h1.30M296.85,226.5h1.30M293.85,231.5h1.30M292.85,233.5h1.30M291.85,235.5h1.30M309.85,207.5h1.30M308.85,209.5h1.30M305.85,213.5h1.30M302.85,219.5h1.30M301.85,221.5h1.30M297.85,228.5h1.30M295.85,230.5h1.30M294.85,232.5h1.30M293.85,234.5h1.30M292.85,236.5h1.30M291.85,238.5h1.30M310.85,208.5h1.30M309.85,210.5h1.30M308.85,212.5h1.30M307.85,214.5h1.30M306.85,216.5h1.30M305.85,218.5h1.30M303.85,220.5h1.30M302.85,221.5h1.30M301.85,223.5h1.30M300.85,225.5h1.30M297.85,231.5h1.30M296.85,233.5h1.30M295.85,235.5h1.30M294.85,237.5h1.30M311.85,209.5h1.30M310.85,211.5h1.30M309.85,213.5h1.30M308.85,215.5h1.30M307.85,217.5h1.30M306.85,218.5h1.30M305.85,220.5h1.30M304.85,222.5h1.30M303.85,224.5h1.30M300.85,228.5h1.30M299.85,230.5h1.30M296.85,236.5h1.30M295.85,237.5h1.30M294.85,239.5h1.30M293.85,241.5h1.30M292.85,243.5h1.30M311.85,214.5h1.30M309.85,215.5h1.30M308.85,217.5h1.30M307.85,219.5h1.30M306.85,221.5h1.30M305.85,223.5h1.30M304.85,225.5h1.30M303.85,227.5h1.30M302.85,229.5h1.30M301.85,231.5h1.30M300.85,233.5h1.30M298.85,234.5h1.30M297.85,236.5h1.30M295.85,240.5h1.30M294.85,242.5h1.30M292.85,246.5h1.30M314.85,211.5h1.30M313.85,212.5h1.30M311.85,216.5h1.30M310.85,218.5h1.30M307.85,222.5h1.30M305.85,226.5h1.30M304.85,228.5h1.30M303.85,230.5h1.30M302.85,231.5h1.30M301.85,233.5h1.30M300.85,235.5h1.30M299.85,237.5h1.30M296.85,241.5h1.30M295.85,243.5h1.30M315.85,211.5h1.30M314.85,213.5h1.30M313.85,215.5h1.30M312.85,217.5h1.30M311.85,219.5h1.30M310.85,221.5h1.30M307.85,226.5h1.30M306.85,228.5h1.30M303.85,232.5h1.30M302.85,234.5h1.30M301.85,236.5h1.30M300.85,238.5h1.30M299.85,240.5h1.30M298.85,242.5h1.30M297.85,244.5h1.30M316.85,214.5h1.30M315.85,216.5h1.30M313.85,218.5h1.30M311.85,222.5h1.30M309.85,225.5h1.30M308.85,227.5h1.30M307.85,229.5h1.30M306.85,231.5h1.30M305.85,233.5h1.30M304.85,235.5h1.30M302.85,237.5h1.30M300.85,241.5h1.30M299.85,242.5h1.30M298.85,244.5h1.30M317.85,215.5h1.30M316.85,217.5h1.30M313.85,222.5h1.30M312.85,224.5h1.30M310.85,226.5h1.30M309.85,228.5h1.30M308.85,230.5h1.30M307.85,232.5h1.30M306.85,234.5h1.30M305.85,236.5h1.30M304.85,238.5h1.30M301.85,243.5h1.30M299.85,245.5h1.30M318.85,216.5h1.30M317.85,217.5h1.30M316.85,219.5h1.30M315.85,221.5h1.30M313.85,225.5h1.30M312.85,227.5h1.30M307.85,235.5h1.30M305.85,238.5h1.30M304.85,240.5h1.30M303.85,242.5h1.30M320.85,216.5h1.30M319.85,218.5h1.30M318.85,220.5h1.30M316.85,222.5h1.30M313.85,228.5h1.30M312.85,230.5h1.30M311.85,232.5h1.30M310.85,233.5h1.30M308.85,237.5h1.30M307.85,239.5h1.30M305.85,241.5h1.30M304.85,243.5h1.30M321.85,217.5h1.30M320.85,219.5h1.30M318.85,223.5h1.30M316.85,227.5h1.30M314.85,228.5h1.30M313.85,230.5h1.30M311.85,234.5h1.30M309.85,238.5h1.30M308.85,240.5h1.30M307.85,242.5h1.30M322.85,218.5h1.30M321.85,220.5h1.30M320.85,222.5h1.30M319.85,224.5h1.30M318.85,225.5h1.30M317.85,227.5h1.30M315.85,231.5h1.30M314.85,233.5h1.30M311.85,237.5h1.30M310.85,239.5h1.30M308.85,243.5h1.30M324.85,219.5h1.30M323.85,221.5h1.30M322.85,222.5h1.30M320.85,224.5h1.30M319.85,226.5h1.30M318.85,228.5h1.30M317.85,230.5h1.30M316.85,232.5h1.30M314.85,236.5h1.30M312.85,240.5h1.30M323.85,223.5h1.30M322.85,225.5h1.30M321.85,227.5h1.30M320.85,229.5h1.30M317.85,233.5h1.30M315.85,237.5h1.30M313.85,240.5h1.30M312.85,242.5h1.30M324.85,224.5h1.30M323.85,226.5h1.30M322.85,228.5h1.30M321.85,230.5h1.30M320.85,232.5h1.30M319.85,234.5h1.30M317.85,237.5h1.30M315.85,239.5h1.30M325.85,227.5h1.30M323.85,229.5h1.30M322.85,230.5h1.30M321.85,232.5h1.30M320.85,234.5h1.30M319.85,236.5h1.30M318.85,238.5h1.30M317.85,240.5h1.30M328.85,224.5h1.30M324.85,231.5h1.30M323.85,233.5h1.30M321.85,235.5h1.30M319.85,239.5h1.30M327.85,228.5h1.30M325.85,232.5h1.30M324.85,234.5h1.30M323.85,236.5h1.30M322.85,238.5h1.30M326.85,233.5h1.30M328.85,234.5h1.30M332.85,229.5h1.30M331.85,231.5h1.30M334.85,229.5h1.30" stroke="#ff1a0a" stroke-width="1.30" fill="none"/>
<path d="M292.85,205.5h1.30M302.85,213.5h1.30M303.85,217.5h1.30M299.85,224.5h1.30M293.85,244.5h1.30M314.85,220.5h1.30M315.85,224.5h1.30M309.85,235.5h1.30M309.85,243.5h1.30M316.85,235.5h1.30M314.85,241.5h1.30M326.85,227.5h1.30M327.85,231.5h1.30M332.85,226.5h1.30" stroke="#f0e000" stroke-width="1.30" fill="none"/>
<path d="M293.85,206.5h1.30M296.85,213.5h1.30M304.85,215.5h1.30M300.85,223.5h1.30M298.85,226.5h1.30M292.85,239.5h1.30M313.85,210.5h1.30M312.85,212.5h1.30M306.85,224.5h1.30M294.85,245.5h1.30M308.85,225.5h1.30M304.85,230.5h1.30M303.85,239.5h1.30M314.85,223.5h1.30M310.85,231.5h1.30M308.85,233.5h1.30M306.85,244.5h1.30M313.85,235.5h1.30M309.85,241.5h1.30M319.85,231.5h1.30M314.85,238.5h1.30M325.85,222.5h1.30M327.85,223.5h1.30M326.85,225.5h1.30M327.85,226.5h1.30M325.85,229.5h1.30M320.85,237.5h1.30M328.85,226.5h1.30M331.85,225.5h1.30M330.85,227.5h1.30M329.85,229.5h1.30M331.85,228.5h1.30M330.85,230.5h1.30M329.85,232.5h1.30" stroke="#ff7a00" stroke-width="1.30" fill="none"/>
<path d="M295.85,210.5h1.30M298.85,219.5h1.30M299.85,227.5h1.30M312.85,214.5h1.30" stroke="#1a2cff" stroke-width="1.30" fill="none"/>
<path d="M306.85,206.5h1.30M295.85,228.5h1.30M291.85,240.5h1.30M309.85,220.5h1.30M298.85,239.5h1.30M311.85,229.5h1.30M306.85,236.5h1.30M319.85,221.5h1.30M316.85,229.5h1.30M315.85,234.5h1.30M325.85,219.5h1.30M324.85,221.5h1.30M318.85,235.5h1.30M329.85,224.5h1.30M325.85,235.5h1.30" stroke="#2ee01a" stroke-width="1.30" fill="none"/>
<path d="M314.80,208.5h1.40M335.80,220.5h1.40M341.80,220.5h1.40" stroke="#ff1a0a" stroke-width="1.40" fill="none"/>
<path d="M314.80,211.5h1.40M323.80,217.5h1.40M326.80,214.5h1.40M332.80,205.5h1.40M332.80,214.5h1.40M332.80,217.5h1.40M335.80,217.5h1.40M338.80,220.5h1.40M338.80,226.5h1.40M341.80,226.5h1.40M344.80,223.5h1.40" stroke="#f0e000" stroke-width="1.40" fill="none"/>
<path d="M317.80,208.5h1.40M317.80,211.5h1.40M320.80,205.5h1.40M320.80,208.5h1.40M320.80,211.5h1.40M323.80,205.5h1.40M323.80,220.5h1.40M326.80,205.5h1.40M335.80,211.5h1.40M335.80,232.5h1.40M338.80,217.5h1.40M338.80,229.5h1.40" stroke="#ff7a00" stroke-width="1.40" fill="none"/>
<path d="M323.80,211.5h1.40M323.80,214.5h1.40M326.80,208.5h1.40M329.80,205.5h1.40" stroke="#2ee01a" stroke-width="1.40" fill="none"/>
<path d="M295.80,254.5h1.40M305.80,264.5h1.40M309.80,254.5h1.40M313.80,260.5h1.40" stroke="#18e0e8" stroke-width="1.40" fill="none"/>
<path d="M297.80,254.5h1.40M297.80,256.5h1.40M297.80,260.5h1.40M299.80,254.5h1.40M299.80,258.5h1.40M299.80,262.5h1.40M301.80,254.5h1.40M301.80,256.5h1.40M301.80,258.5h1.40M301.80,264.5h1.40M303.80,252.5h1.40M303.80,256.5h1.40M303.80,258.5h1.40M303.80,262.5h1.40M305.80,252.5h1.40M305.80,254.5h1.40M307.80,256.5h1.40M307.80,258.5h1.40M307.80,260.5h1.40M309.80,252.5h1.40M309.80,256.5h1.40M309.80,258.5h1.40M309.80,260.5h1.40M309.80,262.5h1.40M311.80,252.5h1.40M311.80,254.5h1.40M311.80,256.5h1.40M311.80,258.5h1.40M313.80,262.5h1.40M315.80,256.5h1.40M315.80,258.5h1.40M315.80,260.5h1.40" stroke="#2ee01a" stroke-width="1.40" fill="none"/>
<path d="M303.80,260.5h1.40M307.80,264.5h1.40" stroke="#f0e000" stroke-width="1.40" fill="none"/>
<path d="M313.80,258.5h1.40M312.80,261.5h1.40M318.80,260.5h1.40M318.80,263.5h1.40M317.80,265.5h1.40M320.80,263.5h1.40M319.80,266.5h1.40M318.80,271.5h1.40M317.80,274.5h1.40M320.80,272.5h1.40M324.80,270.5h1.40M327.80,277.5h1.40" stroke="#2ee01a" stroke-width="1.40" fill="none"/>
<path d="M315.80,270.5h1.40M326.80,274.5h1.40" stroke="#18e0e8" stroke-width="1.40" fill="none"/>
<path d="M254.80,262.5h1.40M256.80,264.5h1.40M256.80,270.5h1.40M258.80,264.5h1.40M258.80,277.5h1.40M260.80,262.5h1.40M260.80,264.5h1.40M260.80,275.5h1.40M260.80,279.5h1.40M262.80,262.5h1.40M262.80,273.5h1.40M262.80,275.5h1.40M265.80,262.5h1.40M265.80,266.5h1.40M265.80,270.5h1.40M267.80,275.5h1.40M269.80,262.5h1.40M269.80,264.5h1.40M269.80,277.5h1.40M271.80,266.5h1.40M271.80,277.5h1.40M273.80,262.5h1.40M273.80,268.5h1.40M273.80,275.5h1.40M276.80,270.5h1.40M276.80,277.5h1.40M278.80,277.5h1.40" stroke="#18e0e8" stroke-width="1.40" fill="none"/>
<path d="M256.80,262.5h1.40M258.80,268.5h1.40M258.80,273.5h1.40M258.80,275.5h1.40M265.80,268.5h1.40M267.80,266.5h1.40M267.80,273.5h1.40M267.80,277.5h1.40M269.80,273.5h1.40M271.80,275.5h1.40M273.80,273.5h1.40" stroke="#2ee01a" stroke-width="1.40" fill="none"/>
<path d="M256.80,266.5h1.40M260.80,266.5h1.40M262.80,266.5h1.40M262.80,277.5h1.40M267.80,264.5h1.40M267.80,270.5h1.40M269.80,275.5h1.40M276.80,275.5h1.40" stroke="#1a2cff" stroke-width="1.40" fill="none"/>
<g opacity="0.85">
<defs><linearGradient id="g171" gradientUnits="userSpaceOnUse" x1="244.2" y1="214.9" x2="249.8" y2="213.1"><stop offset="0" stop-color="#e09a9a"/><stop offset="1" stop-color="#b87070"/></linearGradient></defs>
<polygon points="244.2,214.9 255.2,247.9 260.8,246.1 249.8,213.1" fill="url(#g171)" stroke="#b86e6e" stroke-width="0.7" stroke-linejoin="round"/>
<polygon points="219.7,214.9 227.7,235.9 232.3,234.1 224.3,213.1" fill="#eba3a3" stroke="#b86e6e" stroke-width="0.7" stroke-linejoin="round"/>
<path d="M230.0,236.0 C233.7,236.3 244.3,237.2 252.0,238.0 C259.7,238.8 272.0,240.5 276.0,241.0" fill="none" stroke="#b86e6e" stroke-width="3.5" stroke-linecap="round" stroke-linejoin="round"/>
<path d="M230.0,236.0 C233.7,236.3 244.3,237.2 252.0,238.0 C259.7,238.8 272.0,240.5 276.0,241.0" fill="none" stroke="#eba3a3" stroke-width="2.5" stroke-linecap="round" stroke-linejoin="round"/>
<path d="M240.0,226.0 C243.0,226.0 252.0,225.5 258.0,226.0 C264.0,226.5 273.0,228.5 276.0,229.0" fill="none" stroke="#b86e6e" stroke-width="3.0" stroke-linecap="round" stroke-linejoin="round"/>
<path d="M240.0,226.0 C243.0,226.0 252.0,225.5 258.0,226.0 C264.0,226.5 273.0,228.5 276.0,229.0" fill="none" stroke="#eba3a3" stroke-width="2.0" stroke-linecap="round" stroke-linejoin="round"/>
</g>
<g opacity="0.6">
<path d="M223,204 L253,204 L253,214 Q238,218 223,214 Z" fill="#c07878"/>
<path d="M225,204.5 L251,204.5 L251,211 Q238,214 225,211 Z" fill="#e0a0a0"/>
</g>
<path d="M276.0,251.6 L281.0,253.3" fill="none" stroke="#1a1aa0" stroke-width="2.08" stroke-linecap="round" stroke-linejoin="round"/>
<path d="M281.0,253.3 L279.0,257.0 L278.0,261.0" fill="none" stroke="#e020b0" stroke-width="2.08" stroke-linecap="round" stroke-linejoin="round"/>
<path d="M277.0,252.0 L279.0,252.0" fill="none" stroke="#e01010" stroke-width="1.6900000000000002" stroke-linecap="round" stroke-linejoin="round"/>
<path d="M287.6,252.7 L291.5,249.0" fill="none" stroke="#1a1aa0" stroke-width="2.08" stroke-linecap="round" stroke-linejoin="round"/>
<path d="M288.0,253.0 L290.0,256.0 L291.5,259.3" fill="none" stroke="#e020b0" stroke-width="2.08" stroke-linecap="round" stroke-linejoin="round"/>
<path d="M298.0,243.5 L302.4,239.0" fill="none" stroke="#1a2cd0" stroke-width="2.08" stroke-linecap="round" stroke-linejoin="round"/>
<path d="M291.5,249.0 L296.0,246.0 L298.0,243.5" fill="none" stroke="#d02090" stroke-width="2.08" stroke-linecap="round" stroke-linejoin="round"/>
<text x="293.4" y="253.8" class="res" style="font-size:7.2px">His46</text>
<text x="262.8" y="268.5" class="res" style="font-size:6.9px">Asp81</text>
<text x="288.4" y="268.5" class="res" style="font-size:7.0px">Cys151</text>
<path d="M381.0,258.0 C381.8,259.3 383.8,265.3 386.0,266.0 C388.2,266.7 392.7,262.7 394.0,262.0" fill="none" stroke="#3d6d98" stroke-width="2.7" stroke-linecap="round" stroke-linejoin="round"/>
<path d="M381.0,258.0 C381.8,259.3 383.8,265.3 386.0,266.0 C388.2,266.7 392.7,262.7 394.0,262.0" fill="none" stroke="#6ea3d3" stroke-width="1.7" stroke-linecap="round" stroke-linejoin="round"/>
<path d="M381.0,294.0 C382.8,293.3 388.5,290.3 392.0,290.0 C395.5,289.7 400.3,291.7 402.0,292.0" fill="none" stroke="#3d6d98" stroke-width="2.6" stroke-linecap="round" stroke-linejoin="round"/>
<path d="M381.0,294.0 C382.8,293.3 388.5,290.3 392.0,290.0 C395.5,289.7 400.3,291.7 402.0,292.0" fill="none" stroke="#6ea3d3" stroke-width="1.6" stroke-linecap="round" stroke-linejoin="round"/>
<path d="M455.0,262.0 C456.2,261.7 459.2,259.3 462.0,260.0 C464.8,260.7 469.7,262.3 472.0,266.0 C474.3,269.7 475.3,279.3 476.0,282.0" fill="none" stroke="#3d6d98" stroke-width="2.6" stroke-linecap="round" stroke-linejoin="round"/>
<path d="M455.0,262.0 C456.2,261.7 459.2,259.3 462.0,260.0 C464.8,260.7 469.7,262.3 472.0,266.0 C474.3,269.7 475.3,279.3 476.0,282.0" fill="none" stroke="#6ea3d3" stroke-width="1.6" stroke-linecap="round" stroke-linejoin="round"/>
<path d="M500.0,280.0 C501.7,280.7 506.3,284.2 510.0,284.0 C513.7,283.8 520.0,279.8 522.0,279.0" fill="none" stroke="#3d6d98" stroke-width="2.4" stroke-linecap="round" stroke-linejoin="round"/>
<path d="M500.0,280.0 C501.7,280.7 506.3,284.2 510.0,284.0 C513.7,283.8 520.0,279.8 522.0,279.0" fill="none" stroke="#6ea3d3" stroke-width="1.4" stroke-linecap="round" stroke-linejoin="round"/>
<path d="M396.0,320.0 C400.0,319.3 412.7,316.0 420.0,316.0 C427.3,316.0 436.7,319.3 440.0,320.0" fill="none" stroke="#3d6d98" stroke-width="2.6" stroke-linecap="round" stroke-linejoin="round"/>
<path d="M396.0,320.0 C400.0,319.3 412.7,316.0 420.0,316.0 C427.3,316.0 436.7,319.3 440.0,320.0" fill="none" stroke="#6ea3d3" stroke-width="1.6" stroke-linecap="round" stroke-linejoin="round"/>
<path d="M500.0,320.0 C502.0,319.3 508.0,316.3 512.0,316.0 C516.0,315.7 522.0,317.7 524.0,318.0" fill="none" stroke="#3d6d98" stroke-width="2.6" stroke-linecap="round" stroke-linejoin="round"/>
<path d="M500.0,320.0 C502.0,319.3 508.0,316.3 512.0,316.0 C516.0,315.7 522.0,317.7 524.0,318.0" fill="none" stroke="#6ea3d3" stroke-width="1.6" stroke-linecap="round" stroke-linejoin="round"/>
<path d="M440.0,252.0 C442.0,252.7 449.0,254.3 452.0,256.0 C455.0,257.7 457.0,261.0 458.0,262.0" fill="none" stroke="#3d6d98" stroke-width="2.6" stroke-linecap="round" stroke-linejoin="round"/>
<path d="M440.0,252.0 C442.0,252.7 449.0,254.3 452.0,256.0 C455.0,257.7 457.0,261.0 458.0,262.0" fill="none" stroke="#6ea3d3" stroke-width="1.6" stroke-linecap="round" stroke-linejoin="round"/>
<path d="M516.0,239.0 C517.0,238.5 519.7,235.8 522.0,236.0 C524.3,236.2 528.7,239.3 530.0,240.0" fill="none" stroke="#3d6d98" stroke-width="2.8" stroke-linecap="round" stroke-linejoin="round"/>
<path d="M516.0,239.0 C517.0,238.5 519.7,235.8 522.0,236.0 C524.3,236.2 528.7,239.3 530.0,240.0" fill="none" stroke="#6ea3d3" stroke-width="1.8" stroke-linecap="round" stroke-linejoin="round"/>
<path d="M510.0,300.0 C511.7,299.3 517.3,295.3 520.0,296.0 C522.7,296.7 525.0,302.7 526.0,304.0" fill="none" stroke="#3d6d98" stroke-width="2.5" stroke-linecap="round" stroke-linejoin="round"/>
<path d="M510.0,300.0 C511.7,299.3 517.3,295.3 520.0,296.0 C522.7,296.7 525.0,302.7 526.0,304.0" fill="none" stroke="#6ea3d3" stroke-width="1.5" stroke-linecap="round" stroke-linejoin="round"/>
<defs><linearGradient id="g211" gradientUnits="userSpaceOnUse" x1="399.7" y1="255.5" x2="405.7" y2="254.5"><stop offset="0" stop-color="#6b97c2"/><stop offset="1" stop-color="#4a739b"/></linearGradient></defs>
<polygon points="399.7,255.5 405.5,288.5 411.5,287.5 405.7,254.5" fill="url(#g211)" stroke="#3d6d98" stroke-width="0.7" stroke-linejoin="round"/>
<polygon points="396.7,242.0 401.7,258.0 408.3,256.0 403.3,240.0" fill="#5b7fa3" stroke="#3d6d98" stroke-width="0.7" stroke-linejoin="round"/>
<polygon points="415.3,241.8 418.6,256.8 425.4,255.2 422.1,240.2" fill="#5b7fa3" stroke="#3d6d98" stroke-width="0.7" stroke-linejoin="round"/>
<defs><linearGradient id="g215" gradientUnits="userSpaceOnUse" x1="417.7" y1="254.4" x2="425.5" y2="255.6"><stop offset="0" stop-color="#80b4e0"/><stop offset="1" stop-color="#5584b0"/></linearGradient></defs>
<polygon points="417.7,254.4 410.5,298.4 418.3,299.6 425.5,255.6" fill="url(#g215)" stroke="#3d6d98" stroke-width="0.7" stroke-linejoin="round"/>
<defs><linearGradient id="g217" gradientUnits="userSpaceOnUse" x1="501.4" y1="316.1" x2="494.6" y2="311.9"><stop offset="0" stop-color="#7fb3e0"/><stop offset="1" stop-color="#5586b3"/></linearGradient></defs>
<polygon points="501.4,316.1 531.9,268.1 525.1,263.9 494.6,311.9" fill="url(#g217)" stroke="#3d6d98" stroke-width="0.7" stroke-linejoin="round"/>
<defs><linearGradient id="g219" gradientUnits="userSpaceOnUse" x1="465.8" y1="301.1" x2="460.2" y2="296.9"><stop offset="0" stop-color="#7ab0de"/><stop offset="1" stop-color="#5080ad"/></linearGradient></defs>
<polygon points="465.8,301.1 499.8,257.1 494.2,252.9 460.2,296.9" fill="url(#g219)" stroke="#3d6d98" stroke-width="0.7" stroke-linejoin="round"/>
<defs><linearGradient id="g221" gradientUnits="userSpaceOnUse" x1="479.6" y1="303.5" x2="472.4" y2="296.5"><stop offset="0" stop-color="#a4daf6"/><stop offset="1" stop-color="#5f95c6"/></linearGradient></defs>
<polygon points="479.6,303.5 512.6,269.6 514.7,271.7 516.1,258.9 503.3,260.6 505.4,262.7 472.4,296.5" fill="url(#g221)" stroke="#3d6d98" stroke-width="0.7" stroke-linejoin="round"/>
<defs><linearGradient id="g223" gradientUnits="userSpaceOnUse" x1="493.2" y1="261.2" x2="488.2" y2="254.8"><stop offset="0" stop-color="#8cc2ea"/><stop offset="1" stop-color="#5a8cbc"/></linearGradient></defs>
<polygon points="493.2,261.2 513.1,245.6 514.6,247.5 517.2,237.4 506.8,237.4 508.2,239.3 488.2,254.8" fill="url(#g223)" stroke="#3d6d98" stroke-width="0.7" stroke-linejoin="round"/>
<polygon points="512.2,322.2 526.2,297.2 521.8,294.8 507.8,319.8" fill="#5a84ad" stroke="#3d6d98" stroke-width="0.7" stroke-linejoin="round"/>
<defs><linearGradient id="g226" gradientUnits="userSpaceOnUse" x1="380.7" y1="302.0" x2="381.3" y2="294.0"><stop offset="0" stop-color="#6b9ccb"/><stop offset="1" stop-color="#4a76a0"/></linearGradient></defs>
<polygon points="380.7,302.0 491.7,310.4 491.5,312.8 500.2,307.0 492.5,300.0 492.3,302.4 381.3,294.0" fill="url(#g226)" stroke="#3d6d98" stroke-width="0.7" stroke-linejoin="round"/>
<defs><linearGradient id="g228" gradientUnits="userSpaceOnUse" x1="457.5" y1="301.0" x2="458.5" y2="309.0"><stop offset="0" stop-color="#7cb0dc"/><stop offset="1" stop-color="#5280ab"/></linearGradient></defs>
<polygon points="457.5,301.0 399.4,309.0 399.1,306.6 391.8,314.0 400.8,319.3 400.5,316.9 458.5,309.0" fill="url(#g228)" stroke="#3d6d98" stroke-width="0.7" stroke-linejoin="round"/>
<defs><linearGradient id="g230" gradientUnits="userSpaceOnUse" x1="408.9" y1="307.5" x2="405.1" y2="300.5"><stop offset="0" stop-color="#8cc0ea"/><stop offset="1" stop-color="#5a8ab8"/></linearGradient></defs>
<polygon points="408.9,307.5 448.9,285.5 445.1,278.5 405.1,300.5" fill="url(#g230)" stroke="#3d6d98" stroke-width="0.7" stroke-linejoin="round"/>
<polygon points="470.6,320.9 500.6,314.9 499.4,309.1 469.4,315.1" fill="#6ea3d3" stroke="#3d6d98" stroke-width="0.7" stroke-linejoin="round"/>
<path d="M381,207.5 Q393,205 394.5,214 Q392,226 394.5,234.5 L384,235.5 Q381,222 381,207.5 Z" fill="#5a7896" stroke="#3c5c7c" stroke-width="0.8"/>
<path d="M385,210 Q390,210 390.5,216 L389,230 L386,231 Z" fill="#7f9bb8"/>
<path d="M400.0,218.0 C400.2,216.3 400.2,210.3 401.0,208.0 C401.8,205.7 403.7,204.2 405.0,204.0 C406.3,203.8 408.7,205.2 409.0,207.0 C409.3,208.8 408.5,213.2 407.0,215.0 C405.5,216.8 401.2,217.5 400.0,218.0" fill="none" stroke="#3d6d98" stroke-width="2.8" stroke-linecap="round" stroke-linejoin="round"/>
<path d="M400.0,218.0 C400.2,216.3 400.2,210.3 401.0,208.0 C401.8,205.7 403.7,204.2 405.0,204.0 C406.3,203.8 408.7,205.2 409.0,207.0 C409.3,208.8 408.5,213.2 407.0,215.0 C405.5,216.8 401.2,217.5 400.0,218.0" fill="none" stroke="#6ea3d3" stroke-width="1.8" stroke-linecap="round" stroke-linejoin="round"/>
<path d="M381.0,218.0 C382.5,218.2 386.8,218.7 390.0,219.0 C393.2,219.3 398.3,219.8 400.0,220.0" fill="none" stroke="#3d6d98" stroke-width="2.8" stroke-linecap="round" stroke-linejoin="round"/>
<path d="M381.0,218.0 C382.5,218.2 386.8,218.7 390.0,219.0 C393.2,219.3 398.3,219.8 400.0,220.0" fill="none" stroke="#6ea3d3" stroke-width="1.8" stroke-linecap="round" stroke-linejoin="round"/>
<path d="M381.0,240.0 C382.8,240.3 388.8,241.0 392.0,242.0 C395.2,243.0 398.7,245.3 400.0,246.0" fill="none" stroke="#3d6d98" stroke-width="2.8" stroke-linecap="round" stroke-linejoin="round"/>
<path d="M381.0,240.0 C382.8,240.3 388.8,241.0 392.0,242.0 C395.2,243.0 398.7,245.3 400.0,246.0" fill="none" stroke="#6ea3d3" stroke-width="1.8" stroke-linecap="round" stroke-linejoin="round"/>
<path d="M461.0,204.5 C461.2,205.8 460.7,209.9 462.0,212.0 C463.3,214.1 468.6,214.5 469.0,217.0 C469.4,219.5 466.7,225.8 464.5,227.0 C462.3,228.2 457.9,225.2 456.0,224.0 C454.1,222.8 453.5,220.7 453.0,220.0" fill="none" stroke="#3d6d98" stroke-width="2.8" stroke-linecap="round" stroke-linejoin="round"/>
<path d="M461.0,204.5 C461.2,205.8 460.7,209.9 462.0,212.0 C463.3,214.1 468.6,214.5 469.0,217.0 C469.4,219.5 466.7,225.8 464.5,227.0 C462.3,228.2 457.9,225.2 456.0,224.0 C454.1,222.8 453.5,220.7 453.0,220.0" fill="none" stroke="#6ea3d3" stroke-width="1.8" stroke-linecap="round" stroke-linejoin="round"/>
<path d="M440.0,222.0 C441.7,221.3 446.3,218.5 450.0,218.0 C453.7,217.5 458.7,218.0 462.0,219.0 C465.3,220.0 467.7,222.8 470.0,224.0 C472.3,225.2 475.0,225.7 476.0,226.0" fill="none" stroke="#3d6d98" stroke-width="2.6" stroke-linecap="round" stroke-linejoin="round"/>
<path d="M440.0,222.0 C441.7,221.3 446.3,218.5 450.0,218.0 C453.7,217.5 458.7,218.0 462.0,219.0 C465.3,220.0 467.7,222.8 470.0,224.0 C472.3,225.2 475.0,225.7 476.0,226.0" fill="none" stroke="#6ea3d3" stroke-width="1.6" stroke-linecap="round" stroke-linejoin="round"/>
<path d="M418.88,205.5h1.25M421.88,205.5h1.25M423.88,205.5h1.25M425.88,205.5h1.25M430.88,205.5h1.25M432.88,205.5h1.25M435.88,205.5h1.25M437.88,205.5h1.25M439.88,205.5h1.25M441.88,205.5h1.25M416.88,206.5h1.25M419.88,206.5h1.25M421.88,206.5h1.25M423.88,206.5h1.25M425.88,206.5h1.25M428.88,206.5h1.25M430.88,206.5h1.25M432.88,206.5h1.25M435.88,206.5h1.25M437.88,206.5h1.25M439.88,206.5h1.25M444.88,206.5h1.25M416.88,207.5h1.25M419.88,207.5h1.25M421.88,207.5h1.25M423.88,207.5h1.25M426.88,207.5h1.25M428.88,207.5h1.25M430.88,207.5h1.25M433.88,207.5h1.25M435.88,207.5h1.25M437.88,207.5h1.25M439.88,207.5h1.25M442.88,207.5h1.25M444.88,207.5h1.25M446.88,207.5h1.25M414.88,208.5h1.25M417.88,208.5h1.25M419.88,208.5h1.25M421.88,208.5h1.25M423.88,208.5h1.25M426.88,208.5h1.25M428.88,208.5h1.25M430.88,208.5h1.25M435.88,208.5h1.25M442.88,208.5h1.25M414.88,210.5h1.25M417.88,210.5h1.25M424.88,210.5h1.25M426.88,210.5h1.25M428.88,210.5h1.25M431.88,210.5h1.25M433.88,210.5h1.25M435.88,210.5h1.25M437.88,210.5h1.25M442.88,210.5h1.25M444.88,210.5h1.25M449.88,210.5h1.25M451.88,210.5h1.25M412.88,211.5h1.25M415.88,211.5h1.25M417.88,211.5h1.25M419.88,211.5h1.25M421.88,211.5h1.25M424.88,211.5h1.25M426.88,211.5h1.25M433.88,211.5h1.25M435.88,211.5h1.25M440.88,211.5h1.25M442.88,211.5h1.25M444.88,211.5h1.25M447.88,211.5h1.25M449.88,211.5h1.25M451.88,211.5h1.25M426.88,212.5h1.25M429.88,212.5h1.25M433.88,212.5h1.25M435.88,212.5h1.25M438.88,212.5h1.25M442.88,212.5h1.25M445.88,212.5h1.25M447.88,212.5h1.25M449.88,212.5h1.25M454.88,212.5h1.25M426.88,214.5h1.25M429.88,214.5h1.25M431.88,214.5h1.25M433.88,214.5h1.25M436.88,214.5h1.25M440.88,214.5h1.25M442.88,214.5h1.25M445.88,214.5h1.25M447.88,214.5h1.25M449.88,214.5h1.25M452.88,214.5h1.25M454.88,214.5h1.25M415.88,215.5h1.25M422.88,215.5h1.25M424.88,215.5h1.25M431.88,215.5h1.25M436.88,215.5h1.25M438.88,215.5h1.25M440.88,215.5h1.25M443.88,215.5h1.25M445.88,215.5h1.25M447.88,215.5h1.25M450.88,215.5h1.25M452.88,215.5h1.25M454.88,215.5h1.25M456.88,215.5h1.25M459.88,215.5h1.25M413.88,216.5h1.25M415.88,216.5h1.25M417.88,216.5h1.25M422.88,216.5h1.25M427.88,216.5h1.25M429.88,216.5h1.25M438.88,216.5h1.25M440.88,216.5h1.25M443.88,216.5h1.25M447.88,216.5h1.25M450.88,216.5h1.25M452.88,216.5h1.25M454.88,216.5h1.25M457.88,216.5h1.25M459.88,216.5h1.25M461.88,216.5h1.25M420.88,218.5h1.25M422.88,218.5h1.25M427.88,218.5h1.25M429.88,218.5h1.25M431.88,218.5h1.25M434.88,218.5h1.25M436.88,218.5h1.25M438.88,218.5h1.25M441.88,218.5h1.25M443.88,218.5h1.25M445.88,218.5h1.25M448.88,218.5h1.25M450.88,218.5h1.25M454.88,218.5h1.25M457.88,218.5h1.25M459.88,218.5h1.25M461.88,218.5h1.25M464.88,218.5h1.25M415.88,219.5h1.25M422.88,219.5h1.25M425.88,219.5h1.25M427.88,219.5h1.25M429.88,219.5h1.25M432.88,219.5h1.25M436.88,219.5h1.25M438.88,219.5h1.25M441.88,219.5h1.25M443.88,219.5h1.25M445.88,219.5h1.25M450.88,219.5h1.25M455.88,219.5h1.25M457.88,219.5h1.25M459.88,219.5h1.25M461.88,219.5h1.25M464.88,219.5h1.25M466.88,219.5h1.25M406.88,220.5h1.25M416.88,220.5h1.25M425.88,220.5h1.25M427.88,220.5h1.25M429.88,220.5h1.25M432.88,220.5h1.25M436.88,220.5h1.25M441.88,220.5h1.25M446.88,220.5h1.25M450.88,220.5h1.25M452.88,220.5h1.25M457.88,220.5h1.25M459.88,220.5h1.25M462.88,220.5h1.25M466.88,220.5h1.25M420.88,221.5h1.25M425.88,221.5h1.25M430.88,221.5h1.25M432.88,221.5h1.25M436.88,221.5h1.25M439.88,221.5h1.25M441.88,221.5h1.25M443.88,221.5h1.25M446.88,221.5h1.25M448.88,221.5h1.25M450.88,221.5h1.25M453.88,221.5h1.25M455.88,221.5h1.25M457.88,221.5h1.25M459.88,221.5h1.25M462.88,221.5h1.25M466.88,221.5h1.25M469.88,221.5h1.25M404.88,223.5h1.25M416.88,223.5h1.25M425.88,223.5h1.25M427.88,223.5h1.25M430.88,223.5h1.25M439.88,223.5h1.25M446.88,223.5h1.25M448.88,223.5h1.25M453.88,223.5h1.25M455.88,223.5h1.25M457.88,223.5h1.25M467.88,223.5h1.25M471.88,223.5h1.25M411.88,224.5h1.25M416.88,224.5h1.25M418.88,224.5h1.25M421.88,224.5h1.25M425.88,224.5h1.25M428.88,224.5h1.25M430.88,224.5h1.25M432.88,224.5h1.25M437.88,224.5h1.25M439.88,224.5h1.25M441.88,224.5h1.25M444.88,224.5h1.25M446.88,224.5h1.25M448.88,224.5h1.25M451.88,224.5h1.25M453.88,224.5h1.25M455.88,224.5h1.25M457.88,224.5h1.25M462.88,224.5h1.25M464.88,224.5h1.25M467.88,224.5h1.25M471.88,224.5h1.25M474.88,224.5h1.25M409.88,225.5h1.25M423.88,225.5h1.25M425.88,225.5h1.25M428.88,225.5h1.25M430.88,225.5h1.25M435.88,225.5h1.25M437.88,225.5h1.25M439.88,225.5h1.25M442.88,225.5h1.25M444.88,225.5h1.25M446.88,225.5h1.25M451.88,225.5h1.25M460.88,225.5h1.25M462.88,225.5h1.25M465.88,225.5h1.25M469.88,225.5h1.25M421.88,227.5h1.25M423.88,227.5h1.25M430.88,227.5h1.25M435.88,227.5h1.25M437.88,227.5h1.25M439.88,227.5h1.25M442.88,227.5h1.25M446.88,227.5h1.25M449.88,227.5h1.25M451.88,227.5h1.25M453.88,227.5h1.25M455.88,227.5h1.25M458.88,227.5h1.25M460.88,227.5h1.25M462.88,227.5h1.25M465.88,227.5h1.25M469.88,227.5h1.25M419.88,228.5h1.25M426.88,228.5h1.25M428.88,228.5h1.25M430.88,228.5h1.25M433.88,228.5h1.25M435.88,228.5h1.25M440.88,228.5h1.25M442.88,228.5h1.25M444.88,228.5h1.25M446.88,228.5h1.25M449.88,228.5h1.25M451.88,228.5h1.25M453.88,228.5h1.25M456.88,228.5h1.25M458.88,228.5h1.25M460.88,228.5h1.25M463.88,228.5h1.25M465.88,228.5h1.25M467.88,228.5h1.25M474.88,228.5h1.25M414.88,229.5h1.25M417.88,229.5h1.25M421.88,229.5h1.25M424.88,229.5h1.25M426.88,229.5h1.25M430.88,229.5h1.25M437.88,229.5h1.25M444.88,229.5h1.25M447.88,229.5h1.25M449.88,229.5h1.25M451.88,229.5h1.25M453.88,229.5h1.25M456.88,229.5h1.25M458.88,229.5h1.25M460.88,229.5h1.25M463.88,229.5h1.25M465.88,229.5h1.25M421.88,231.5h1.25M424.88,231.5h1.25M428.88,231.5h1.25M433.88,231.5h1.25M435.88,231.5h1.25M438.88,231.5h1.25M440.88,231.5h1.25M442.88,231.5h1.25M444.88,231.5h1.25M449.88,231.5h1.25M451.88,231.5h1.25M454.88,231.5h1.25M456.88,231.5h1.25M458.88,231.5h1.25M461.88,231.5h1.25M463.88,231.5h1.25M465.88,231.5h1.25M470.88,231.5h1.25M419.88,232.5h1.25M422.88,232.5h1.25M426.88,232.5h1.25M431.88,232.5h1.25M433.88,232.5h1.25M435.88,232.5h1.25M438.88,232.5h1.25M440.88,232.5h1.25M442.88,232.5h1.25M445.88,232.5h1.25M447.88,232.5h1.25M451.88,232.5h1.25M454.88,232.5h1.25M456.88,232.5h1.25M463.88,232.5h1.25M465.88,232.5h1.25M468.88,232.5h1.25M474.88,232.5h1.25M417.88,233.5h1.25M426.88,233.5h1.25M429.88,233.5h1.25M431.88,233.5h1.25M436.88,233.5h1.25M438.88,233.5h1.25M440.88,233.5h1.25M442.88,233.5h1.25M445.88,233.5h1.25M447.88,233.5h1.25M449.88,233.5h1.25M452.88,233.5h1.25M459.88,233.5h1.25M461.88,233.5h1.25M463.88,233.5h1.25M465.88,233.5h1.25M468.88,233.5h1.25M475.88,233.5h1.25M477.88,233.5h1.25M415.88,234.5h1.25M420.88,234.5h1.25M426.88,234.5h1.25M429.88,234.5h1.25M431.88,234.5h1.25M433.88,234.5h1.25M436.88,234.5h1.25M438.88,234.5h1.25M440.88,234.5h1.25M443.88,234.5h1.25M445.88,234.5h1.25M447.88,234.5h1.25M449.88,234.5h1.25M452.88,234.5h1.25M454.88,234.5h1.25M456.88,234.5h1.25M461.88,234.5h1.25M463.88,234.5h1.25M466.88,234.5h1.25M477.88,234.5h1.25M417.88,236.5h1.25M424.88,236.5h1.25M427.88,236.5h1.25M429.88,236.5h1.25M431.88,236.5h1.25M436.88,236.5h1.25M438.88,236.5h1.25M443.88,236.5h1.25M454.88,236.5h1.25M459.88,236.5h1.25M461.88,236.5h1.25M463.88,236.5h1.25M468.88,236.5h1.25M470.88,236.5h1.25M475.88,236.5h1.25M477.88,236.5h1.25M418.88,237.5h1.25M427.88,237.5h1.25M429.88,237.5h1.25M431.88,237.5h1.25M436.88,237.5h1.25M438.88,237.5h1.25M441.88,237.5h1.25M443.88,237.5h1.25M445.88,237.5h1.25M447.88,237.5h1.25M450.88,237.5h1.25M452.88,237.5h1.25M454.88,237.5h1.25M457.88,237.5h1.25M459.88,237.5h1.25M461.88,237.5h1.25M464.88,237.5h1.25M466.88,237.5h1.25M468.88,237.5h1.25M470.88,237.5h1.25M473.88,237.5h1.25M415.88,238.5h1.25M418.88,238.5h1.25M420.88,238.5h1.25M429.88,238.5h1.25M432.88,238.5h1.25M434.88,238.5h1.25M436.88,238.5h1.25M438.88,238.5h1.25M441.88,238.5h1.25M443.88,238.5h1.25M445.88,238.5h1.25M448.88,238.5h1.25M450.88,238.5h1.25M461.88,238.5h1.25M473.88,238.5h1.25M422.88,240.5h1.25M425.88,240.5h1.25M427.88,240.5h1.25M432.88,240.5h1.25M436.88,240.5h1.25M441.88,240.5h1.25M445.88,240.5h1.25M448.88,240.5h1.25M452.88,240.5h1.25M455.88,240.5h1.25M457.88,240.5h1.25M462.88,240.5h1.25M464.88,240.5h1.25M466.88,240.5h1.25M478.88,240.5h1.25M425.88,241.5h1.25M427.88,241.5h1.25M430.88,241.5h1.25M432.88,241.5h1.25M434.88,241.5h1.25M436.88,241.5h1.25M439.88,241.5h1.25M443.88,241.5h1.25M446.88,241.5h1.25M448.88,241.5h1.25M450.88,241.5h1.25M453.88,241.5h1.25M455.88,241.5h1.25M457.88,241.5h1.25M459.88,241.5h1.25M462.88,241.5h1.25M466.88,241.5h1.25M476.88,241.5h1.25M425.88,242.5h1.25M427.88,242.5h1.25M430.88,242.5h1.25M432.88,242.5h1.25M434.88,242.5h1.25M439.88,242.5h1.25M441.88,242.5h1.25M443.88,242.5h1.25M446.88,242.5h1.25M448.88,242.5h1.25M450.88,242.5h1.25M453.88,242.5h1.25M457.88,242.5h1.25M460.88,242.5h1.25M473.88,242.5h1.25M476.88,242.5h1.25M423.88,244.5h1.25M425.88,244.5h1.25M428.88,244.5h1.25M430.88,244.5h1.25M432.88,244.5h1.25M434.88,244.5h1.25M437.88,244.5h1.25M439.88,244.5h1.25M441.88,244.5h1.25M444.88,244.5h1.25M446.88,244.5h1.25M451.88,244.5h1.25M453.88,244.5h1.25M457.88,244.5h1.25M460.88,244.5h1.25M462.88,244.5h1.25M464.88,244.5h1.25M467.88,244.5h1.25M469.88,244.5h1.25M471.88,244.5h1.25M430.88,245.5h1.25M432.88,245.5h1.25M437.88,245.5h1.25M439.88,245.5h1.25M441.88,245.5h1.25M444.88,245.5h1.25M446.88,245.5h1.25M448.88,245.5h1.25M451.88,245.5h1.25M453.88,245.5h1.25M455.88,245.5h1.25M458.88,245.5h1.25M460.88,245.5h1.25M462.88,245.5h1.25M464.88,245.5h1.25M471.88,245.5h1.25M474.88,245.5h1.25M428.88,246.5h1.25M430.88,246.5h1.25M432.88,246.5h1.25M437.88,246.5h1.25M439.88,246.5h1.25M446.88,246.5h1.25M449.88,246.5h1.25M451.88,246.5h1.25M453.88,246.5h1.25M455.88,246.5h1.25M458.88,246.5h1.25M460.88,246.5h1.25M462.88,246.5h1.25M465.88,246.5h1.25M467.88,246.5h1.25M469.88,246.5h1.25M474.88,246.5h1.25M476.88,246.5h1.25M430.88,247.5h1.25M433.88,247.5h1.25M435.88,247.5h1.25M437.88,247.5h1.25M439.88,247.5h1.25M442.88,247.5h1.25M444.88,247.5h1.25M446.88,247.5h1.25M449.88,247.5h1.25M451.88,247.5h1.25M456.88,247.5h1.25M458.88,247.5h1.25M460.88,247.5h1.25M462.88,247.5h1.25M465.88,247.5h1.25M467.88,247.5h1.25M469.88,247.5h1.25M474.88,247.5h1.25M430.88,249.5h1.25M433.88,249.5h1.25M437.88,249.5h1.25M440.88,249.5h1.25M447.88,249.5h1.25M449.88,249.5h1.25M453.88,249.5h1.25M458.88,249.5h1.25M460.88,249.5h1.25M463.88,249.5h1.25M467.88,249.5h1.25M474.88,249.5h1.25M433.88,250.5h1.25M435.88,250.5h1.25M437.88,250.5h1.25M440.88,250.5h1.25M442.88,250.5h1.25M444.88,250.5h1.25M447.88,250.5h1.25M449.88,250.5h1.25M451.88,250.5h1.25M454.88,250.5h1.25M456.88,250.5h1.25M458.88,250.5h1.25M460.88,250.5h1.25M463.88,250.5h1.25M465.88,250.5h1.25M467.88,250.5h1.25M470.88,250.5h1.25M472.88,250.5h1.25M474.88,250.5h1.25M440.88,251.5h1.25M442.88,251.5h1.25M445.88,251.5h1.25M447.88,251.5h1.25M449.88,251.5h1.25M451.88,251.5h1.25M454.88,251.5h1.25M456.88,251.5h1.25M461.88,251.5h1.25M463.88,251.5h1.25M468.88,251.5h1.25M445.88,253.5h1.25M447.88,253.5h1.25M449.88,253.5h1.25M454.88,253.5h1.25M456.88,253.5h1.25M463.88,253.5h1.25M465.88,253.5h1.25M468.88,253.5h1.25M452.88,254.5h1.25M454.88,254.5h1.25M456.88,254.5h1.25M459.88,254.5h1.25M461.88,254.5h1.25M463.88,254.5h1.25M468.88,254.5h1.25M459.88,255.5h1.25M461.88,255.5h1.25M463.88,255.5h1.25M466.88,255.5h1.25M468.88,255.5h1.25M470.88,255.5h1.25M464.88,257.5h1.25M466.88,257.5h1.25M468.88,257.5h1.25" stroke="#ff1a0a" stroke-width="1.25" fill="none"/>
<path d="M428.88,205.5h1.25M440.88,210.5h1.25M438.88,211.5h1.25M413.88,214.5h1.25M415.88,214.5h1.25M419.88,214.5h1.25M422.88,214.5h1.25M417.88,215.5h1.25M411.88,216.5h1.25M418.88,218.5h1.25M420.88,219.5h1.25M452.88,219.5h1.25M411.88,220.5h1.25M407.88,221.5h1.25M409.88,221.5h1.25M413.88,221.5h1.25M464.88,221.5h1.25M444.88,223.5h1.25M409.88,224.5h1.25M419.88,225.5h1.25M432.88,225.5h1.25M453.88,225.5h1.25M467.88,225.5h1.25M409.88,227.5h1.25M416.88,227.5h1.25M423.88,228.5h1.25M412.88,229.5h1.25M428.88,229.5h1.25M467.88,229.5h1.25M410.88,231.5h1.25M419.88,231.5h1.25M474.88,231.5h1.25M415.88,232.5h1.25M410.88,233.5h1.25M424.88,233.5h1.25M472.88,233.5h1.25M417.88,234.5h1.25M424.88,234.5h1.25M413.88,236.5h1.25M420.88,236.5h1.25M450.88,236.5h1.25M457.88,236.5h1.25M475.88,238.5h1.25M473.88,240.5h1.25M423.88,241.5h1.25M469.88,245.5h1.25M428.88,247.5h1.25M476.88,247.5h1.25M470.88,249.5h1.25M470.88,253.5h1.25" stroke="#f0e000" stroke-width="1.25" fill="none"/>
<path d="M442.88,206.5h1.25M433.88,208.5h1.25M444.88,208.5h1.25M446.88,208.5h1.25M449.88,208.5h1.25M419.88,210.5h1.25M421.88,210.5h1.25M447.88,210.5h1.25M428.88,211.5h1.25M412.88,212.5h1.25M415.88,212.5h1.25M422.88,212.5h1.25M431.88,212.5h1.25M417.88,214.5h1.25M459.88,214.5h1.25M427.88,215.5h1.25M429.88,215.5h1.25M433.88,215.5h1.25M420.88,216.5h1.25M424.88,216.5h1.25M431.88,216.5h1.25M411.88,218.5h1.25M415.88,218.5h1.25M418.88,219.5h1.25M434.88,219.5h1.25M448.88,219.5h1.25M420.88,220.5h1.25M448.88,220.5h1.25M409.88,223.5h1.25M418.88,223.5h1.25M441.88,223.5h1.25M460.88,223.5h1.25M462.88,223.5h1.25M469.88,223.5h1.25M434.88,224.5h1.25M460.88,224.5h1.25M414.88,225.5h1.25M416.88,225.5h1.25M448.88,225.5h1.25M455.88,225.5h1.25M471.88,225.5h1.25M474.88,225.5h1.25M428.88,227.5h1.25M432.88,227.5h1.25M407.88,228.5h1.25M412.88,228.5h1.25M407.88,229.5h1.25M440.88,229.5h1.25M442.88,229.5h1.25M470.88,229.5h1.25M474.88,229.5h1.25M415.88,231.5h1.25M447.88,231.5h1.25M467.88,231.5h1.25M472.88,231.5h1.25M417.88,232.5h1.25M428.88,232.5h1.25M449.88,232.5h1.25M461.88,232.5h1.25M477.88,232.5h1.25M433.88,233.5h1.25M454.88,233.5h1.25M456.88,233.5h1.25M472.88,234.5h1.25M475.88,234.5h1.25M415.88,236.5h1.25M440.88,236.5h1.25M445.88,236.5h1.25M447.88,236.5h1.25M452.88,236.5h1.25M420.88,237.5h1.25M475.88,237.5h1.25M477.88,237.5h1.25M427.88,238.5h1.25M455.88,238.5h1.25M457.88,238.5h1.25M471.88,238.5h1.25M478.88,238.5h1.25M418.88,240.5h1.25M443.88,240.5h1.25M450.88,240.5h1.25M459.88,240.5h1.25M471.88,240.5h1.25M441.88,241.5h1.25M473.88,241.5h1.25M423.88,242.5h1.25M462.88,242.5h1.25M469.88,242.5h1.25M471.88,242.5h1.25M474.88,244.5h1.25M425.88,245.5h1.25M428.88,245.5h1.25M435.88,245.5h1.25M444.88,246.5h1.25M453.88,247.5h1.25M472.88,247.5h1.25M435.88,249.5h1.25M465.88,249.5h1.25M470.88,251.5h1.25M472.88,251.5h1.25M449.88,254.5h1.25M470.88,254.5h1.25M456.88,255.5h1.25" stroke="#ff7a00" stroke-width="1.25" fill="none"/>
<path d="M454.88,211.5h1.25M417.88,212.5h1.25M419.88,212.5h1.25M424.88,212.5h1.25M456.88,212.5h1.25M420.88,215.5h1.25M408.88,218.5h1.25M411.88,219.5h1.25M418.88,220.5h1.25M469.88,220.5h1.25M411.88,221.5h1.25M418.88,221.5h1.25M407.88,223.5h1.25M432.88,223.5h1.25M434.88,223.5h1.25M423.88,224.5h1.25M469.88,224.5h1.25M407.88,225.5h1.25M412.88,225.5h1.25M407.88,227.5h1.25M412.88,227.5h1.25M414.88,227.5h1.25M417.88,228.5h1.25M421.88,228.5h1.25M469.88,228.5h1.25M472.88,228.5h1.25M410.88,229.5h1.25M412.88,231.5h1.25M410.88,232.5h1.25M424.88,232.5h1.25M458.88,232.5h1.25M472.88,232.5h1.25M419.88,233.5h1.25M470.88,233.5h1.25M413.88,234.5h1.25M422.88,234.5h1.25M459.88,234.5h1.25M468.88,234.5h1.25M470.88,234.5h1.25M473.88,236.5h1.25M468.88,238.5h1.25M429.88,240.5h1.25M475.88,240.5h1.25M420.88,241.5h1.25M469.88,241.5h1.25M472.88,246.5h1.25M444.88,249.5h1.25M472.88,249.5h1.25" stroke="#2ee01a" stroke-width="1.25" fill="none"/>
<path d="M424.88,214.5h1.25M410.88,215.5h1.25M413.88,218.5h1.25M409.88,219.5h1.25M416.88,221.5h1.25M405.88,224.5h1.25M414.88,224.5h1.25M405.88,225.5h1.25M410.88,228.5h1.25M414.88,228.5h1.25M417.88,231.5h1.25M413.88,233.5h1.25M420.88,240.5h1.25" stroke="#1a2cff" stroke-width="1.25" fill="none"/>
<path d="M472.80,222.5h1.40M478.80,248.5h1.40M482.80,245.5h1.40M485.80,244.5h1.40" stroke="#ff7a00" stroke-width="1.40" fill="none"/>
<path d="M476.80,219.5h1.40M475.80,221.5h1.40M473.80,223.5h1.40M476.80,222.5h1.40M475.80,224.5h1.40M480.80,219.5h1.40M479.80,221.5h1.40M478.80,223.5h1.40M481.80,222.5h1.40M479.80,224.5h1.40M478.80,227.5h1.40M477.80,229.5h1.40M482.80,223.5h1.40M481.80,226.5h1.40M487.80,218.5h1.40M485.80,222.5h1.40M483.80,227.5h1.40M480.80,231.5h1.40M489.80,219.5h1.40M487.80,224.5h1.40M485.80,226.5h1.40M483.80,230.5h1.40M482.80,232.5h1.40M481.80,235.5h1.40M479.80,237.5h1.40M485.80,231.5h1.40M481.80,238.5h1.40M493.80,219.5h1.40M492.80,222.5h1.40M487.80,230.5h1.40M483.80,239.5h1.40M481.80,241.5h1.40M479.80,246.5h1.40M495.80,221.5h1.40M489.80,232.5h1.40M485.80,238.5h1.40M484.80,240.5h1.40M492.80,231.5h1.40M489.80,235.5h1.40M483.80,246.5h1.40M482.80,248.5h1.40M496.80,227.5h1.40M490.80,238.5h1.40M489.80,241.5h1.40M485.80,247.5h1.40M496.80,231.5h1.40M493.80,237.5h1.40M490.80,242.5h1.40M488.80,246.5h1.40M487.80,248.5h1.40M500.80,228.5h1.40M499.80,230.5h1.40M495.80,236.5h1.40M492.80,243.5h1.40M489.80,247.5h1.40M501.80,231.5h1.40M493.80,244.5h1.40M492.80,246.5h1.40M503.80,236.5h1.40M500.80,240.5h1.40M498.80,244.5h1.40M504.80,237.5h1.40M508.80,234.5h1.40M507.80,236.5h1.40" stroke="#2ee01a" stroke-width="1.40" fill="none"/>
<path d="M477.80,220.5h1.40M477.80,225.5h1.40M484.80,225.5h1.40M479.80,233.5h1.40M482.80,236.5h1.40M480.80,240.5h1.40M479.80,242.5h1.40M485.80,235.5h1.40M481.80,247.5h1.40M486.80,242.5h1.40M491.80,240.5h1.40" stroke="#f0e000" stroke-width="1.40" fill="none"/>
<path d="M481.80,217.5h1.40M482.80,220.5h1.40M485.80,219.5h1.40M483.80,221.5h1.40M480.80,228.5h1.40M486.80,220.5h1.40M481.80,229.5h1.40M490.80,217.5h1.40M488.80,221.5h1.40M492.80,218.5h1.40M489.80,223.5h1.40M488.80,225.5h1.40M483.80,234.5h1.40M491.80,224.5h1.40M490.80,226.5h1.40M486.80,233.5h1.40M484.80,237.5h1.40M480.80,244.5h1.40M494.80,223.5h1.40M493.80,225.5h1.40M491.80,227.5h1.40M495.80,224.5h1.40M494.80,226.5h1.40M493.80,228.5h1.40M491.80,233.5h1.40M488.80,237.5h1.40M498.80,223.5h1.40M495.80,230.5h1.40M493.80,232.5h1.40M492.80,234.5h1.40M491.80,236.5h1.40M486.80,245.5h1.40M499.80,226.5h1.40M494.80,235.5h1.40M489.80,244.5h1.40M493.80,241.5h1.40M491.80,245.5h1.40M502.80,229.5h1.40M498.80,235.5h1.40M497.80,238.5h1.40M496.80,240.5h1.40M495.80,242.5h1.40M497.80,241.5h1.40M496.80,243.5h1.40M495.80,245.5h1.40M505.80,231.5h1.40M504.80,233.5h1.40M502.80,241.5h1.40M506.80,238.5h1.40M510.80,235.5h1.40" stroke="#18e0e8" stroke-width="1.40" fill="none"/>
<path d="M491.80,220.5h1.40M497.80,225.5h1.40M500.80,224.5h1.40M497.80,229.5h1.40M498.80,232.5h1.40M499.80,233.5h1.40M502.80,232.5h1.40M500.80,237.5h1.40M501.80,238.5h1.40M507.80,232.5h1.40M505.80,235.5h1.40" stroke="#1a2cff" stroke-width="1.40" fill="none"/>
<path d="M388.80,226.5h1.40M399.80,242.5h1.40" stroke="#18e0e8" stroke-width="1.40" fill="none"/>
<path d="M390.80,228.5h1.40M390.80,237.5h1.40M393.80,226.5h1.40M393.80,234.5h1.40M393.80,237.5h1.40M393.80,245.5h1.40M396.80,234.5h1.40M399.80,228.5h1.40M399.80,245.5h1.40M402.80,231.5h1.40M410.80,231.5h1.40" stroke="#f0e000" stroke-width="1.40" fill="none"/>
<path d="M399.80,226.5h1.40M399.80,231.5h1.40M399.80,240.5h1.40M402.80,223.5h1.40M402.80,240.5h1.40M402.80,242.5h1.40M404.80,245.5h1.40M407.80,234.5h1.40" stroke="#2ee01a" stroke-width="1.40" fill="none"/>
<path d="M402.80,245.5h1.40M404.80,242.5h1.40M407.80,237.5h1.40" stroke="#ff7a00" stroke-width="1.40" fill="none"/>
<path d="M490.85,252.5h1.30M491.85,255.5h1.30M496.85,247.5h1.30M495.85,256.5h1.30M502.85,241.5h1.30M500.85,247.5h1.30M502.85,249.5h1.30M500.85,255.5h1.30M508.85,242.5h1.30M503.85,260.5h1.30M511.85,254.5h1.30M509.85,262.5h1.30" stroke="#18e0e8" stroke-width="1.30" fill="none"/>
<path d="M493.85,251.5h1.30M495.85,251.5h1.30M494.85,253.5h1.30M493.85,255.5h1.30M498.85,246.5h1.30M498.85,248.5h1.30M497.85,250.5h1.30M499.85,251.5h1.30M498.85,255.5h1.30M497.85,259.5h1.30M496.85,261.5h1.30M504.85,243.5h1.30M503.85,245.5h1.30M501.85,251.5h1.30M501.85,253.5h1.30M499.85,257.5h1.30M498.85,261.5h1.30M504.85,250.5h1.30M502.85,256.5h1.30M500.85,262.5h1.30M506.85,250.5h1.30M502.85,262.5h1.30M510.85,243.5h1.30M509.85,247.5h1.30M508.85,249.5h1.30M505.85,261.5h1.30M510.85,252.5h1.30M510.85,258.5h1.30M509.85,260.5h1.30M514.85,251.5h1.30M514.85,253.5h1.30" stroke="#1a2cff" stroke-width="1.30" fill="none"/>
<path d="M469.80,264.5h1.40M469.80,274.5h1.40M476.80,262.5h1.40M478.80,276.5h1.40" stroke="#f0e000" stroke-width="1.40" fill="none"/>
<path d="M471.80,262.5h1.40M471.80,264.5h1.40M471.80,271.5h1.40M471.80,274.5h1.40M471.80,276.5h1.40M473.80,266.5h1.40M476.80,266.5h1.40M476.80,271.5h1.40M478.80,262.5h1.40M478.80,264.5h1.40M478.80,266.5h1.40M478.80,274.5h1.40" stroke="#2ee01a" stroke-width="1.40" fill="none"/>
<path d="M430.2,264.6 L436.0,265.0 L442.3,266.5" fill="none" stroke="#e020b0" stroke-width="2.21" stroke-linecap="round" stroke-linejoin="round"/>
<path d="M430.0,264.5 L432.0,264.8" fill="none" stroke="#1a1aa0" stroke-width="2.21" stroke-linecap="round" stroke-linejoin="round"/>
<path d="M437.0,265.0 L438.0,265.0" fill="none" stroke="#e01010" stroke-width="2.3400000000000003" stroke-linecap="round" stroke-linejoin="round"/>
<path d="M432.0,266.0 L433.0,273.5" fill="none" stroke="#e048c0" stroke-width="2.21" stroke-linecap="round" stroke-linejoin="round"/>
<path d="M449.3,262.0 L449.0,267.8" fill="none" stroke="#e020b0" stroke-width="2.21" stroke-linecap="round" stroke-linejoin="round"/>
<path d="M448.6,259.5 L449.3,261.0" fill="none" stroke="#20e020" stroke-width="1.9500000000000002" stroke-linecap="round" stroke-linejoin="round"/>
<path d="M446.0,269.0 L449.0,269.0" fill="none" stroke="#1a1aa0" stroke-width="2.21" stroke-linecap="round" stroke-linejoin="round"/>
<path d="M446.0,269.0 L453.0,276.7" fill="none" stroke="#e020b0" stroke-width="2.21" stroke-linecap="round" stroke-linejoin="round"/>
<path d="M452.0,276.0 L453.5,277.0" fill="none" stroke="#e01010" stroke-width="2.3400000000000003" stroke-linecap="round" stroke-linejoin="round"/>
<path d="M456.9,254.5 L463.3,252.5" fill="none" stroke="#1a1aa0" stroke-width="2.21" stroke-linecap="round" stroke-linejoin="round"/>
<path d="M463.0,253.0 L464.0,256.0" fill="none" stroke="#e020b0" stroke-width="2.21" stroke-linecap="round" stroke-linejoin="round"/>
<text x="461.2" y="266.5" class="res" style="font-size:7.2px">His46</text>
<text x="456.7" y="275.5" class="res" style="font-size:7.0px">Cys151</text>
<text x="421.7" y="280.5" class="res" style="font-size:6.9px">Asp81</text>
<text x="108.2" y="327.9" class="pl" style="font-size:5.9px" text-anchor="middle">WT</text>
<text x="278.5" y="327.9" class="pl" style="font-size:6.2px" text-anchor="middle">eTEV</text>
<text x="455.9" y="328.1" class="pl" style="font-size:6.2px" text-anchor="middle">uTEV3</text>
<defs><linearGradient id="cbar" x1="0" x2="1" y1="0" y2="0"><stop offset="0" stop-color="#0000ff"/><stop offset="0.16" stop-color="#0010ff"/><stop offset="0.29" stop-color="#00e8f0"/><stop offset="0.40" stop-color="#00ff20"/><stop offset="0.70" stop-color="#10f000"/><stop offset="0.76" stop-color="#ffff00"/><stop offset="0.82" stop-color="#ff9000"/><stop offset="0.88" stop-color="#ff0000"/><stop offset="1" stop-color="#ff0000"/></linearGradient></defs>
<rect x="57.3" y="332.1" width="98.7" height="4.8" fill="url(#cbar)"/>
<text x="33.2" y="336.6" class="cb">unstable</text>
<text x="158.6" y="336.4" class="cb">stable</text>
<text x="37.2" y="383" class="cap">The volume of TEV protease activity pockets in three systems after molecular dynamics</text>
<text x="37.2" y="395" class="cap">simulations.</text>
<line x1="36.6" y1="404.2" x2="400" y2="404.2" stroke="#333" stroke-width="1.1"/>
<line x1="36.6" y1="434.2" x2="400" y2="434.2" stroke="#333" stroke-width="1.1"/>
<line x1="36.6" y1="463.8" x2="400" y2="463.8" stroke="#333" stroke-width="1.1"/>
<text x="81.8" y="424.4" class="tb" text-anchor="middle">system</text>
<text x="173" y="424.4" class="tb" text-anchor="middle">WT</text>
<text x="263.2" y="424.4" class="tb" text-anchor="middle">eTEV</text>
<text x="354.3" y="424.4" class="tb" text-anchor="middle">uTEV3</text>
<text x="39.6" y="453.5" class="tb">Pocket volume(Å³)</text>
<text x="173" y="453.5" class="tb" text-anchor="middle">1745.75±76.18</text>
<text x="263.8" y="453.5" class="tb" text-anchor="middle">1801.56±171.98</text>
<text x="354.5" y="453.5" class="tb" text-anchor="middle">1529.52±40.24</text>
<text x="39.6" y="480" class="cap">Numbers in the parentheses present the standard deviations.</text>
</svg>
</body></html>
